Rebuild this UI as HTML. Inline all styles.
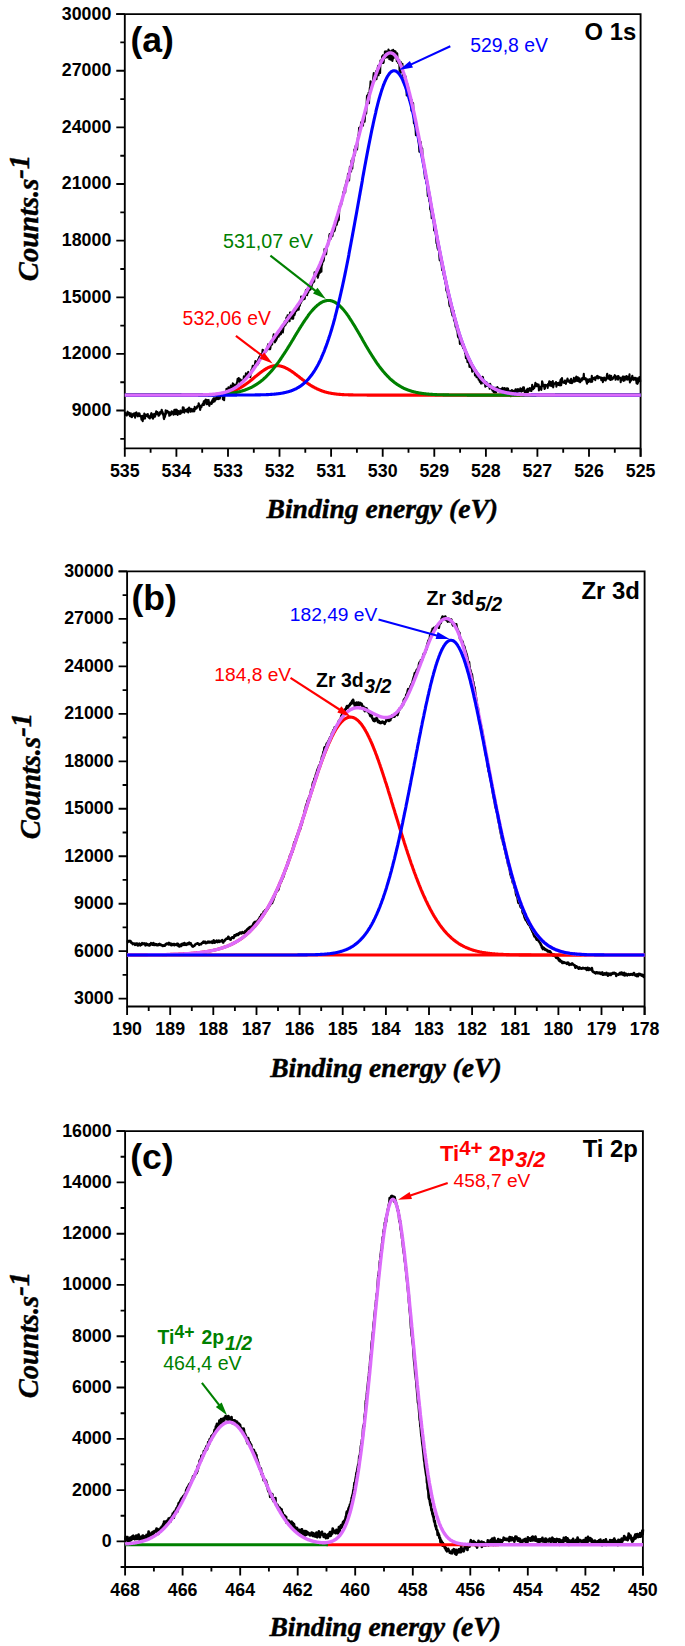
<!DOCTYPE html>
<html lang="en">
<head>
<meta charset="utf-8">
<title>XPS spectra: O 1s, Zr 3d, Ti 2p</title>
<style>
html,body{margin:0;padding:0;background:#fff}
body{width:685px;height:1646px;overflow:hidden}
svg{display:block}
text{white-space:pre}
</style>
</head>
<body>
<svg width="685" height="1646" viewBox="0 0 685 1646">
<rect width="685" height="1646" fill="#fff"/>
<path d="M116.3 14.1 H640.6 V456.8 H640.6" fill="none" stroke="#000" stroke-width="1.85"/>
<path d="M124.8 14.1 V448.3 H640.6" fill="none" stroke="#000" stroke-width="1.85"/>
<path d="M124.8 448.3v8.5 M176.4 448.3v8.5 M228 448.3v8.5 M279.5 448.3v8.5 M331.1 448.3v8.5 M382.7 448.3v8.5 M434.3 448.3v8.5 M485.9 448.3v8.5 M537.4 448.3v8.5 M589 448.3v8.5 M640.6 448.3v8.5 M614.8 448.3v4.5 M563.2 448.3v4.5 M511.7 448.3v4.5 M460.1 448.3v4.5 M408.5 448.3v4.5 M356.9 448.3v4.5 M305.3 448.3v4.5 M253.8 448.3v4.5 M202.2 448.3v4.5 M150.6 448.3v4.5 M124.8 410.5h-8.5 M124.8 353.9h-8.5 M124.8 297.3h-8.5 M124.8 240.6h-8.5 M124.8 184h-8.5 M124.8 127.4h-8.5 M124.8 70.7h-8.5 M124.8 14.1h-8.5 M124.8 438.9h-4.5 M124.8 382.2h-4.5 M124.8 325.6h-4.5 M124.8 269h-4.5 M124.8 212.3h-4.5 M124.8 155.7h-4.5 M124.8 99.1h-4.5 M124.8 42.4h-4.5" fill="none" stroke="#000" stroke-width="1.85"/>
<g font-family='"Liberation Sans", Arial, Helvetica, sans-serif' font-weight="bold" font-size="17.8" fill="#000">
<text x="124.8" y="477.2" text-anchor="middle">535</text>
<text x="176.4" y="477.2" text-anchor="middle">534</text>
<text x="228" y="477.2" text-anchor="middle">533</text>
<text x="279.5" y="477.2" text-anchor="middle">532</text>
<text x="331.1" y="477.2" text-anchor="middle">531</text>
<text x="382.7" y="477.2" text-anchor="middle">530</text>
<text x="434.3" y="477.2" text-anchor="middle">529</text>
<text x="485.9" y="477.2" text-anchor="middle">528</text>
<text x="537.4" y="477.2" text-anchor="middle">527</text>
<text x="589" y="477.2" text-anchor="middle">526</text>
<text x="640.6" y="477.2" text-anchor="middle">525</text>
<text x="111.3" y="415.9" text-anchor="end">9000</text>
<text x="111.3" y="359.3" text-anchor="end">12000</text>
<text x="111.3" y="302.7" text-anchor="end">15000</text>
<text x="111.3" y="246" text-anchor="end">18000</text>
<text x="111.3" y="189.4" text-anchor="end">21000</text>
<text x="111.3" y="132.8" text-anchor="end">24000</text>
<text x="111.3" y="76.1" text-anchor="end">27000</text>
<text x="111.3" y="19.5" text-anchor="end">30000</text>
</g>
<polyline points="124.8,413.4 125.2,412.9 125.6,414.3 126,415 126.4,414 126.8,415.6 127.2,413 127.6,411.7 128,413.9 128.4,414.5 128.8,412.8 129.2,413 129.6,414.9 130,416.2 130.4,415.2 130.8,413.2 131.2,416.7 131.6,415.3 131.9,417.2 132.3,415.3 132.7,415.6 133.1,413.7 133.5,415.6 133.9,414 134.3,413.3 134.7,413.3 135.1,417.6 135.5,413.9 135.9,412.9 136.3,412.4 136.7,414.9 137.1,414.9 137.5,416.2 137.9,416.4 138.3,413.3 138.7,415.8 139.1,415 139.5,413.4 139.9,416.2 140.3,415.6 140.7,416 141.1,416.9 141.5,419.7 141.9,417.5 142.3,415.8 142.7,421.1 143.1,417.7 143.5,418.3 143.9,418.8 144.3,413.6 144.7,415.5 145.1,418.4 145.4,415.3 145.8,414.6 146.2,416.1 146.6,414.8 147,415.5 147.4,414.5 147.8,414.1 148.2,417.2 148.6,415.5 149,417.8 149.4,417.1 149.8,418.4 150.2,416.6 150.6,416.4 151,414.4 151.4,413.2 151.8,417.4 152.2,416.9 152.6,414.6 153,418.7 153.4,417.4 153.8,417.1 154.2,413.8 154.6,413.9 155,416.6 155.4,415.3 155.8,414.6 156.2,411.2 156.6,414 157,414.1 157.4,412 157.8,414.3 158.2,413.6 158.6,415.7 158.9,415.5 159.3,415.4 159.7,412.5 160.1,412 160.5,413.7 160.9,411.6 161.3,411.4 161.7,409.7 162.1,411.6 162.5,411.9 162.9,414.5 163.3,413.4 163.7,418 164.1,419.1 164.5,416.7 164.9,417.1 165.3,415.3 165.7,410.2 166.1,413.8 166.5,413.4 166.9,411.1 167.3,410.8 167.7,411.9 168.1,412.4 168.5,411.9 168.9,412.2 169.3,415.8 169.7,413.8 170.1,412.7 170.5,415.1 170.9,412.3 171.3,414.3 171.7,411.2 172.1,413 172.4,413.2 172.8,412.9 173.2,411.9 173.6,414.8 174,412.6 174.4,409.7 174.8,413.9 175.2,410 175.6,414.2 176,409.5 176.4,412.6 176.8,409.9 177.2,412 177.6,414.9 178,411.1 178.4,411.1 178.8,413.6 179.2,413.6 179.6,412.5 180,414.1 180.4,410.5 180.8,413.4 181.2,411.8 181.6,412.3 182,411.8 182.4,412.3 182.8,407.2 183.2,409.7 183.6,407.5 184,410 184.4,412.6 184.8,410.7 185.2,410.9 185.6,409.8 185.9,410.9 186.3,410.5 186.7,411 187.1,411.7 187.5,408.7 187.9,411.7 188.3,412.3 188.7,409.4 189.1,407.6 189.5,410.5 189.9,408.5 190.3,409.2 190.7,411.8 191.1,408.8 191.5,409.4 191.9,410.6 192.3,411.3 192.7,409.3 193.1,410.4 193.5,409.2 193.9,411.4 194.3,411.3 194.7,406.9 195.1,409.5 195.5,407.8 195.9,408.5 196.3,408.6 196.7,408.4 197.1,406.4 197.5,406.9 197.9,405.9 198.3,405.1 198.7,403.3 199.1,404.3 199.5,405.4 199.8,408.3 200.2,410 200.6,406.3 201,405.8 201.4,407.2 201.8,405.7 202.2,405.2 202.6,404.1 203,403.4 203.4,405.1 203.8,401.2 204.2,404.8 204.6,400.9 205,401.7 205.4,400 205.8,399.5 206.2,399.8 206.6,403.8 207,404.3 207.4,400 207.8,403.4 208.2,401.3 208.6,400.1 209,404.9 209.4,405.9 209.8,402.5 210.2,403.2 210.6,403.1 211,402.4 211.4,403.9 211.8,403.6 212.2,400.4 212.6,401.1 213,402.2 213.3,398.7 213.7,398.5 214.1,398.2 214.5,401.5 214.9,400.7 215.3,399.6 215.7,399.9 216.1,397.8 216.5,399.1 216.9,396.3 217.3,395.8 217.7,394.7 218.1,399.1 218.5,394.9 218.9,396.5 219.3,396.2 219.7,398.8 220.1,396.7 220.5,393.8 220.9,395.9 221.3,394.9 221.7,395.6 222.1,392.8 222.5,394.2 222.9,399.3 223.3,396.2 223.7,398.8 224.1,400.3 224.5,395.2 224.9,392.3 225.3,393.4 225.7,394.5 226.1,393.3 226.5,388.7 226.8,390.5 227.2,390.3 227.6,389.7 228,389.3 228.4,387.4 228.8,388.1 229.2,388.5 229.6,389.8 230,387.2 230.4,388.5 230.8,385.6 231.2,389.6 231.6,387.6 232,386.7 232.4,387.9 232.8,383.4 233.2,383.8 233.6,386.2 234,384.5 234.4,385.9 234.8,390.5 235.2,385.7 235.6,385.5 236,384.5 236.4,385.1 236.8,382.9 237.2,381.9 237.6,378.8 238,380.3 238.4,380.8 238.8,378.1 239.2,381.7 239.6,382 240,384.5 240.3,379.2 240.7,380.3 241.1,380.4 241.5,380.3 241.9,381.7 242.3,381.2 242.7,380.8 243.1,380.2 243.5,379.8 243.9,376.4 244.3,377.4 244.7,378 245.1,377.9 245.5,378 245.9,373.4 246.3,374.7 246.7,374.6 247.1,374.9 247.5,376.3 247.9,373.2 248.3,371.9 248.7,374.6 249.1,374.2 249.5,374.1 249.9,373.6 250.3,377.1 250.7,373 251.1,373.7 251.5,369.6 251.9,371.4 252.3,368.4 252.7,365.8 253.1,367.9 253.5,367.4 253.8,365.8 254.2,365.9 254.6,367.3 255,364 255.4,361.1 255.8,365.3 256.2,364.4 256.6,364.9 257,361.6 257.4,364 257.8,364.2 258.2,359.2 258.6,362.9 259,358.1 259.4,356.7 259.8,358.8 260.2,357.5 260.6,354 261,356.8 261.4,358 261.8,357.7 262.2,354.1 262.6,349.8 263,349.9 263.4,353 263.8,353.1 264.2,353 264.6,351 265,352.3 265.4,352.1 265.8,351.3 266.2,351.3 266.6,350.4 267,349.4 267.3,349.4 267.7,346.4 268.1,344.2 268.5,346.5 268.9,346.6 269.3,349.3 269.7,344.7 270.1,349.3 270.5,347.5 270.9,341.9 271.3,341.2 271.7,343 272.1,344.6 272.5,340.6 272.9,340.5 273.3,336.8 273.7,334.4 274.1,338.4 274.5,341.4 274.9,342.4 275.3,339.5 275.7,339.9 276.1,340.6 276.5,337.7 276.9,338.8 277.3,334.2 277.7,334 278.1,333.4 278.5,336.8 278.9,333.8 279.3,335.5 279.7,334.8 280.1,333.4 280.5,334.4 280.9,334.1 281.2,328.5 281.6,330 282,328.3 282.4,327.6 282.8,332.5 283.2,329.6 283.6,327 284,325.3 284.4,326.1 284.8,321.2 285.2,322.5 285.6,324.7 286,322.4 286.4,317.6 286.8,318.5 287.2,322.4 287.6,315.3 288,316.5 288.4,315.5 288.8,319.7 289.2,318.5 289.6,321.3 290,312.5 290.4,317.8 290.8,312.6 291.2,318.2 291.6,316.3 292,318.7 292.4,316.2 292.8,312.7 293.2,318.8 293.6,311.3 294,312.8 294.4,315.2 294.7,314.1 295.1,313.1 295.5,310.3 295.9,310.8 296.3,311 296.7,310.2 297.1,308.8 297.5,309.7 297.9,306.6 298.3,304.6 298.7,309.6 299.1,304.4 299.5,305.6 299.9,305.7 300.3,301.5 300.7,303.2 301.1,296.6 301.5,301.5 301.9,298.5 302.3,299.4 302.7,299 303.1,296.8 303.5,299.5 303.9,297 304.3,299 304.7,298.8 305.1,295.7 305.5,294.2 305.9,290 306.3,293.2 306.7,289.7 307.1,295.3 307.5,288.7 307.9,290.9 308.2,292.7 308.6,289.5 309,285.6 309.4,290.3 309.8,289.5 310.2,289.1 310.6,289.4 311,284.3 311.4,287 311.8,285.4 312.2,280.2 312.6,283.5 313,279 313.4,281.3 313.8,280.9 314.2,281.7 314.6,272.4 315,276.7 315.4,274.1 315.8,275.2 316.2,275.6 316.6,275.1 317,269.6 317.4,275.8 317.8,277.8 318.2,275.7 318.6,275 319,269.7 319.4,267.8 319.8,272.9 320.2,271.6 320.6,267.9 321,262.3 321.4,271.7 321.7,262.2 322.1,265 322.5,257.7 322.9,262 323.3,258 323.7,260.6 324.1,257.2 324.5,249 324.9,250.1 325.3,252.3 325.7,251.9 326.1,254.3 326.5,250.4 326.9,246.7 327.3,246.2 327.7,244.5 328.1,245.4 328.5,240.6 328.9,239.7 329.3,235.8 329.7,234.1 330.1,237.8 330.5,239.2 330.9,236.8 331.3,237 331.7,236.6 332.1,232.6 332.5,235.8 332.9,230.4 333.3,232.3 333.7,229.9 334.1,230.4 334.5,231 334.9,229.4 335.2,227.5 335.6,225.1 336,221.4 336.4,221 336.8,224.6 337.2,220.2 337.6,221.9 338,219.6 338.4,217.2 338.8,219.9 339.2,210.1 339.6,206.4 340,206.5 340.4,206.1 340.8,203.8 341.2,204.9 341.6,201.3 342,202 342.4,197.4 342.8,198.4 343.2,192.8 343.6,191.5 344,191.6 344.4,190.9 344.8,187.1 345.2,192.5 345.6,185.4 346,183.6 346.4,182.4 346.8,179.9 347.2,182 347.6,180.3 348,173.7 348.4,174.6 348.8,174.9 349.1,180.5 349.5,172.4 349.9,166.7 350.3,167.3 350.7,167.2 351.1,171.4 351.5,160.5 351.9,161.8 352.3,168.5 352.7,158 353.1,163 353.5,159.6 353.9,157 354.3,149.5 354.7,155.5 355.1,153.2 355.5,146.5 355.9,145.2 356.3,149 356.7,149.1 357.1,149.5 357.5,143.5 357.9,137.5 358.3,135.2 358.7,134.7 359.1,127.9 359.5,134.2 359.9,130.4 360.3,127 360.7,127.3 361.1,122.4 361.5,123.9 361.9,124.8 362.3,120.9 362.6,124 363,125.6 363.4,117.4 363.8,118.4 364.2,115.9 364.6,121.7 365,116.2 365.4,112.6 365.8,110.3 366.2,113.5 366.6,104.3 367,95.8 367.4,95.3 367.8,99.7 368.2,97 368.6,92.7 369,103.3 369.4,94 369.8,88.2 370.2,87 370.6,81.2 371,83.4 371.4,84.8 371.8,83.9 372.2,82.9 372.6,84.9 373,81.1 373.4,76.2 373.8,73 374.2,81.3 374.6,79.5 375,78.4 375.4,74.3 375.8,78.2 376.1,71.1 376.5,79.2 376.9,74.5 377.3,71.8 377.7,68.5 378.1,65.8 378.5,75.3 378.9,70.6 379.3,66.2 379.7,71.1 380.1,72.9 380.5,60.6 380.9,61.5 381.3,61.4 381.7,63.2 382.1,56.4 382.5,61.5 382.9,55.4 383.3,63 383.7,62.2 384.1,56.6 384.5,58.3 384.9,51.6 385.3,54.4 385.7,57.5 386.1,51.3 386.5,54.6 386.9,51.7 387.3,57.4 387.7,56.1 388.1,52.4 388.5,49.5 388.9,51 389.3,59.1 389.6,56.7 390,51.3 390.4,56.6 390.8,59.6 391.2,52.8 391.6,50.6 392,57.1 392.4,60.9 392.8,58.2 393.2,49.7 393.6,58.1 394,55.5 394.4,53.7 394.8,51 395.2,55.3 395.6,51.6 396,57.3 396.4,55.7 396.8,61.3 397.2,53.2 397.6,60.6 398,62.8 398.4,61.2 398.8,63.6 399.2,60 399.6,70.4 400,70.5 400.4,72.6 400.8,62.1 401.2,66.9 401.6,71.8 402,70.5 402.4,63.9 402.8,74 403.1,75.8 403.5,72.5 403.9,77.2 404.3,76.1 404.7,84.7 405.1,75.7 405.5,76.7 405.9,81.5 406.3,81.4 406.7,95.4 407.1,83.2 407.5,86.8 407.9,86.3 408.3,88.3 408.7,95.2 409.1,99.9 409.5,93.1 409.9,99.9 410.3,98.9 410.7,100.5 411.1,100.3 411.5,110.6 411.9,100.2 412.3,107.5 412.7,106.4 413.1,103 413.5,113.2 413.9,123.3 414.3,121.8 414.7,124 415.1,126.6 415.5,126.9 415.9,135.2 416.3,127.7 416.6,134.8 417,129.5 417.4,131.4 417.8,134.9 418.2,137.3 418.6,141.3 419,145.2 419.4,151.8 419.8,147.8 420.2,141.9 420.6,141.8 421,144.9 421.4,149.1 421.8,155.1 422.2,148.3 422.6,157.2 423,158.6 423.4,163.1 423.8,164.8 424.2,170.4 424.6,173.1 425,178.1 425.4,178.4 425.8,171.7 426.2,181.4 426.6,183.3 427,183.5 427.4,186.6 427.8,195.9 428.2,196.1 428.6,194.7 429,198.7 429.4,201.4 429.8,199 430.2,209.4 430.5,206.4 430.9,211.6 431.3,206.5 431.7,218.2 432.1,216 432.5,217.7 432.9,217 433.3,217.1 433.7,218.9 434.1,230.5 434.5,224.9 434.9,228.9 435.3,231.4 435.7,231.9 436.1,237 436.5,243.1 436.9,239.7 437.3,245.7 437.7,248.5 438.1,247.4 438.5,250.2 438.9,246.5 439.3,255.1 439.7,260.2 440.1,258.2 440.5,259.4 440.9,262.2 441.3,260.4 441.7,264.6 442.1,270.3 442.5,265.6 442.9,270.7 443.3,272 443.7,274.5 444,276.3 444.4,278.7 444.8,277 445.2,281 445.6,282.8 446,285.5 446.4,290.7 446.8,289.6 447.2,292 447.6,291.9 448,297.3 448.4,291.6 448.8,298.2 449.2,303 449.6,305.9 450,305.1 450.4,305.2 450.8,308 451.2,308.5 451.6,312.2 452,312 452.4,315.5 452.8,314.7 453.2,314.7 453.6,310.9 454,320.5 454.4,319.7 454.8,322.2 455.2,320.8 455.6,326.7 456,325.8 456.4,326.5 456.8,330 457.2,330.9 457.5,331.6 457.9,336.2 458.3,337.4 458.7,336.2 459.1,336.5 459.5,338.4 459.9,343.9 460.3,341.7 460.7,339.6 461.1,340.7 461.5,342.8 461.9,345.4 462.3,342.5 462.7,345.8 463.1,348.1 463.5,347.7 463.9,345.6 464.3,349.1 464.7,348.7 465.1,353.5 465.5,352.5 465.9,358.3 466.3,357.6 466.7,354.4 467.1,358.2 467.5,362.1 467.9,361 468.3,360 468.7,359.1 469.1,363.1 469.5,366.9 469.9,364.8 470.3,366 470.7,366.7 471,365.1 471.4,368 471.8,367.6 472.2,371.7 472.6,368.4 473,365.9 473.4,368.6 473.8,369.6 474.2,371.1 474.6,369 475,375.4 475.4,375 475.8,375.2 476.2,375.1 476.6,377.2 477,375.8 477.4,375.9 477.8,376.3 478.2,377.1 478.6,379.7 479,377.5 479.4,377 479.8,381.8 480.2,381.3 480.6,380.6 481,383.5 481.4,380.9 481.8,383.5 482.2,379.1 482.6,376.7 483,377.5 483.4,382 483.8,382 484.2,383.3 484.5,383.2 484.9,382 485.3,386.6 485.7,382.6 486.1,384.9 486.5,382.3 486.9,385.2 487.3,386 487.7,384.6 488.1,383.9 488.5,386 488.9,384.9 489.3,386.2 489.7,388.8 490.1,383.7 490.5,385.2 490.9,385.5 491.3,386.8 491.7,386.6 492.1,389.3 492.5,390.7 492.9,389.4 493.3,388.1 493.7,392.2 494.1,387.8 494.5,391.7 494.9,392.6 495.3,387.9 495.7,390 496.1,392.5 496.5,391.4 496.9,388.6 497.3,387.1 497.7,390.5 498.1,389 498.4,388.3 498.8,389.8 499.2,389.2 499.6,390.2 500,390.6 500.4,390.3 500.8,389 501.2,389.3 501.6,389.2 502,390.2 502.4,387.8 502.8,389.5 503.2,389.1 503.6,388.9 504,390.7 504.4,388 504.8,394.2 505.2,391.9 505.6,392.8 506,388.5 506.4,388.4 506.8,393.4 507.2,391.4 507.6,388.4 508,388.7 508.4,390.1 508.8,392.1 509.2,391.8 509.6,391.4 510,393 510.4,391.1 510.8,396.1 511.2,390.6 511.6,393.3 511.9,390.1 512.3,391.4 512.7,392.7 513.1,390.8 513.5,393.4 513.9,393 514.3,393.6 514.7,390.6 515.1,390.4 515.5,389.3 515.9,391.2 516.3,389.4 516.7,391.5 517.1,392.4 517.5,390.2 517.9,389.1 518.3,391.6 518.7,390.9 519.1,390.1 519.5,389.7 519.9,391.2 520.3,388.4 520.7,389.6 521.1,388.8 521.5,391.6 521.9,389.5 522.3,390.1 522.7,390.9 523.1,387.3 523.5,389.8 523.9,387.4 524.3,390 524.7,392.2 525.1,392.5 525.4,391.1 525.8,391.2 526.2,390.8 526.6,389.8 527,392.3 527.4,388.9 527.8,392.4 528.2,388.9 528.6,391.1 529,390.3 529.4,389.4 529.8,388 530.2,390.6 530.6,390.7 531,389.2 531.4,391 531.8,388.8 532.2,384.9 532.6,389.3 533,386.8 533.4,389.2 533.8,386.7 534.2,388.1 534.6,387.1 535,385.3 535.4,382.7 535.8,386 536.2,384.9 536.6,386.3 537,384.1 537.4,385.9 537.8,384.9 538.2,386.6 538.6,384.5 538.9,390.4 539.3,388 539.7,386.4 540.1,388.3 540.5,388.5 540.9,388.4 541.3,389.9 541.7,386.8 542.1,381.3 542.5,382.4 542.9,386 543.3,385.3 543.7,386.3 544.1,384.7 544.5,388.9 544.9,388.5 545.3,385.4 545.7,384.8 546.1,385.1 546.5,385.7 546.9,385.6 547.3,385 547.7,387.9 548.1,383.9 548.5,385.4 548.9,383.3 549.3,381.3 549.7,382.4 550.1,385.7 550.5,381.9 550.9,382 551.3,385.7 551.7,386 552.1,384.2 552.4,386.3 552.8,381.1 553.2,387.4 553.6,385.2 554,384.1 554.4,383.5 554.8,383.3 555.2,383 555.6,383.7 556,382.1 556.4,386.7 556.8,384 557.2,384.6 557.6,383.1 558,383.4 558.4,385 558.8,385 559.2,382.6 559.6,384 560,385.4 560.4,380.4 560.8,379.3 561.2,385.2 561.6,381.9 562,378.1 562.4,381.1 562.8,381.6 563.2,382.3 563.6,382.8 564,382.8 564.4,382.9 564.8,380.6 565.2,382.8 565.6,383.2 565.9,383.9 566.3,380.5 566.7,382 567.1,380.8 567.5,378.5 567.9,380.3 568.3,380.2 568.7,381.8 569.1,381.5 569.5,382 569.9,382.7 570.3,380 570.7,382.9 571.1,378.9 571.5,381.5 571.9,383.2 572.3,382.5 572.7,382.4 573.1,380.2 573.5,381 573.9,377.9 574.3,379.8 574.7,381.6 575.1,378.7 575.5,381.1 575.9,378.3 576.3,376.5 576.7,377.5 577.1,380.9 577.5,380.6 577.9,377.3 578.3,380.4 578.7,381.3 579.1,380.5 579.5,378.3 579.8,380.2 580.2,382.3 580.6,380.8 581,379.7 581.4,380.7 581.8,380.7 582.2,378 582.6,379.4 583,377.8 583.4,377.7 583.8,373.9 584.2,379.3 584.6,379.2 585,378.9 585.4,378.7 585.8,378.2 586.2,380.8 586.6,382.3 587,383.7 587.4,382 587.8,379.3 588.2,379.6 588.6,382 589,380.6 589.4,379.8 589.8,379.2 590.2,381.2 590.6,380.4 591,382.1 591.4,380.6 591.8,375.9 592.2,381.7 592.6,378.7 593,377.7 593.3,378.4 593.7,379 594.1,377.8 594.5,377.8 594.9,377.3 595.3,380.2 595.7,377.4 596.1,378.2 596.5,377.7 596.9,376.1 597.3,375.9 597.7,376.7 598.1,378.5 598.5,376.6 598.9,376.7 599.3,377.3 599.7,377.3 600.1,377.9 600.5,378.3 600.9,377.4 601.3,380.2 601.7,377.7 602.1,377.7 602.5,378.8 602.9,382.1 603.3,380 603.7,379 604.1,377.5 604.5,379.1 604.9,380.1 605.3,378.6 605.7,380.5 606.1,377.8 606.5,378.9 606.8,375.6 607.2,373.7 607.6,377.4 608,378.4 608.4,377.7 608.8,378.6 609.2,378.9 609.6,375.2 610,377.6 610.4,380 610.8,376.9 611.2,375.9 611.6,378.6 612,379.6 612.4,378.8 612.8,378.9 613.2,378.3 613.6,377.2 614,376.8 614.4,376.3 614.8,375.2 615.2,376 615.6,379.8 616,377.5 616.4,377.8 616.8,378.3 617.2,376.3 617.6,378.6 618,379.7 618.4,376 618.8,377.3 619.2,378.2 619.6,377.4 620,377.6 620.3,377.8 620.7,382.1 621.1,379.2 621.5,378.8 621.9,379.7 622.3,377.7 622.7,376.5 623.1,379.9 623.5,380.9 623.9,376.5 624.3,379.7 624.7,380.3 625.1,378.2 625.5,376.9 625.9,378.6 626.3,376.1 626.7,378.4 627.1,379.7 627.5,376.9 627.9,376.6 628.3,379.4 628.7,377.5 629.1,378.8 629.5,374.4 629.9,382.5 630.3,378.8 630.7,380.3 631.1,380.6 631.5,378.7 631.9,377.6 632.3,375.7 632.7,377.3 633.1,379.4 633.5,379.8 633.8,378.1 634.2,378.6 634.6,377.8 635,379.6 635.4,378.4 635.8,377.9 636.2,380.3 636.6,383.3 637,382.9 637.4,383.9 637.8,378.3 638.2,382.5 638.6,379.2 639,379.9 639.4,377.1 639.8,378.3 640.2,381 640.6,380.4" fill="none" stroke="#000" stroke-width="2.1" stroke-linejoin="round" stroke-linecap="butt"/>
<polyline points="124.8,395.1 125.2,395.1 125.6,395.1 126,395.1 126.4,395.1 126.8,395.1 127.2,395.1 127.6,395.1 128,395.1 128.4,395.1 128.8,395.1 129.2,395.1 129.6,395.1 130,395.1 130.4,395.1 130.8,395.1 131.2,395.1 131.6,395.1 131.9,395.1 132.3,395.1 132.7,395.1 133.1,395.1 133.5,395.1 133.9,395.1 134.3,395.1 134.7,395.1 135.1,395.1 135.5,395.1 135.9,395.1 136.3,395.1 136.7,395.1 137.1,395.1 137.5,395.1 137.9,395.1 138.3,395.1 138.7,395.1 139.1,395.1 139.5,395.1 139.9,395.1 140.3,395.1 140.7,395.1 141.1,395.1 141.5,395.1 141.9,395.1 142.3,395.1 142.7,395.1 143.1,395.1 143.5,395.1 143.9,395.1 144.3,395.1 144.7,395.1 145.1,395.1 145.4,395.1 145.8,395.1 146.2,395.1 146.6,395.1 147,395.1 147.4,395.1 147.8,395.1 148.2,395.1 148.6,395.1 149,395.1 149.4,395.1 149.8,395.1 150.2,395.1 150.6,395.1 151,395.1 151.4,395.1 151.8,395.1 152.2,395.1 152.6,395.1 153,395.1 153.4,395.1 153.8,395.1 154.2,395.1 154.6,395.1 155,395.1 155.4,395.1 155.8,395.1 156.2,395.1 156.6,395.1 157,395.1 157.4,395.1 157.8,395.1 158.2,395.1 158.6,395.1 158.9,395.1 159.3,395.1 159.7,395.1 160.1,395.1 160.5,395.1 160.9,395.1 161.3,395.1 161.7,395.1 162.1,395.1 162.5,395.1 162.9,395.1 163.3,395.1 163.7,395.1 164.1,395.1 164.5,395.1 164.9,395.1 165.3,395.1 165.7,395.1 166.1,395.1 166.5,395.1 166.9,395.1 167.3,395.1 167.7,395.1 168.1,395.1 168.5,395.1 168.9,395.1 169.3,395.1 169.7,395.1 170.1,395.1 170.5,395.1 170.9,395.1 171.3,395.1 171.7,395.1 172.1,395.1 172.4,395.1 172.8,395.1 173.2,395.1 173.6,395.1 174,395.1 174.4,395.1 174.8,395.1 175.2,395.1 175.6,395.1 176,395.1 176.4,395.1 176.8,395.1 177.2,395.1 177.6,395.1 178,395.1 178.4,395.1 178.8,395.1 179.2,395.1 179.6,395.1 180,395.1 180.4,395.1 180.8,395.1 181.2,395.1 181.6,395.1 182,395.1 182.4,395.1 182.8,395.1 183.2,395.1 183.6,395.1 184,395.1 184.4,395.1 184.8,395.1 185.2,395.1 185.6,395.1 185.9,395.1 186.3,395.1 186.7,395.1 187.1,395.1 187.5,395.1 187.9,395.1 188.3,395.1 188.7,395.1 189.1,395.1 189.5,395.1 189.9,395.1 190.3,395.1 190.7,395.1 191.1,395.1 191.5,395 191.9,395 192.3,395 192.7,395 193.1,395 193.5,395 193.9,395 194.3,395 194.7,395 195.1,395 195.5,395 195.9,395 196.3,395 196.7,395 197.1,395 197.5,395 197.9,395 198.3,395 198.7,395 199.1,395 199.5,395 199.8,395 200.2,395 200.6,395 201,395 201.4,395 201.8,395 202.2,395 202.6,395 203,395 203.4,395 203.8,395 204.2,394.9 204.6,394.9 205,394.9 205.4,394.9 205.8,394.9 206.2,394.9 206.6,394.9 207,394.9 207.4,394.9 207.8,394.9 208.2,394.9 208.6,394.8 209,394.8 209.4,394.8 209.8,394.8 210.2,394.8 210.6,394.8 211,394.8 211.4,394.7 211.8,394.7 212.2,394.7 212.6,394.7 213,394.7 213.3,394.6 213.7,394.6 214.1,394.6 214.5,394.6 214.9,394.5 215.3,394.5 215.7,394.5 216.1,394.4 216.5,394.4 216.9,394.4 217.3,394.3 217.7,394.3 218.1,394.3 218.5,394.2 218.9,394.2 219.3,394.1 219.7,394.1 220.1,394.1 220.5,394 220.9,394 221.3,393.9 221.7,393.8 222.1,393.8 222.5,393.7 222.9,393.7 223.3,393.6 223.7,393.5 224.1,393.5 224.5,393.4 224.9,393.3 225.3,393.2 225.7,393.2 226.1,393.1 226.5,393 226.8,392.9 227.2,392.8 227.6,392.7 228,392.6 228.4,392.5 228.8,392.4 229.2,392.3 229.6,392.2 230,392.1 230.4,392 230.8,391.8 231.2,391.7 231.6,391.6 232,391.5 232.4,391.3 232.8,391.2 233.2,391 233.6,390.9 234,390.7 234.4,390.6 234.8,390.4 235.2,390.2 235.6,390.1 236,389.9 236.4,389.7 236.8,389.5 237.2,389.4 237.6,389.2 238,389 238.4,388.8 238.8,388.6 239.2,388.3 239.6,388.1 240,387.9 240.3,387.7 240.7,387.5 241.1,387.2 241.5,387 241.9,386.8 242.3,386.5 242.7,386.3 243.1,386 243.5,385.8 243.9,385.5 244.3,385.2 244.7,385 245.1,384.7 245.5,384.4 245.9,384.1 246.3,383.9 246.7,383.6 247.1,383.3 247.5,383 247.9,382.7 248.3,382.4 248.7,382.1 249.1,381.8 249.5,381.5 249.9,381.2 250.3,380.8 250.7,380.5 251.1,380.2 251.5,379.9 251.9,379.6 252.3,379.3 252.7,378.9 253.1,378.6 253.5,378.3 253.8,378 254.2,377.6 254.6,377.3 255,377 255.4,376.6 255.8,376.3 256.2,376 256.6,375.7 257,375.3 257.4,375 257.8,374.7 258.2,374.4 258.6,374.1 259,373.7 259.4,373.4 259.8,373.1 260.2,372.8 260.6,372.5 261,372.2 261.4,371.9 261.8,371.6 262.2,371.3 262.6,371.1 263,370.8 263.4,370.5 263.8,370.2 264.2,370 264.6,369.7 265,369.5 265.4,369.2 265.8,369 266.2,368.7 266.6,368.5 267,368.3 267.3,368.1 267.7,367.9 268.1,367.7 268.5,367.5 268.9,367.3 269.3,367.2 269.7,367 270.1,366.8 270.5,366.7 270.9,366.6 271.3,366.4 271.7,366.3 272.1,366.2 272.5,366.1 272.9,366 273.3,365.9 273.7,365.8 274.1,365.8 274.5,365.7 274.9,365.7 275.3,365.7 275.7,365.6 276.1,365.6 276.5,365.6 276.9,365.6 277.3,365.6 277.7,365.7 278.1,365.7 278.5,365.7 278.9,365.8 279.3,365.8 279.7,365.9 280.1,366 280.5,366.1 280.9,366.1 281.2,366.2 281.6,366.4 282,366.5 282.4,366.6 282.8,366.7 283.2,366.9 283.6,367 284,367.2 284.4,367.3 284.8,367.5 285.2,367.7 285.6,367.9 286,368.1 286.4,368.3 286.8,368.5 287.2,368.7 287.6,368.9 288,369.1 288.4,369.3 288.8,369.6 289.2,369.8 289.6,370 290,370.3 290.4,370.6 290.8,370.8 291.2,371.1 291.6,371.3 292,371.6 292.4,371.9 292.8,372.2 293.2,372.4 293.6,372.7 294,373 294.4,373.3 294.7,373.6 295.1,373.9 295.5,374.2 295.9,374.5 296.3,374.8 296.7,375.1 297.1,375.4 297.5,375.7 297.9,376 298.3,376.3 298.7,376.6 299.1,376.9 299.5,377.3 299.9,377.6 300.3,377.9 300.7,378.2 301.1,378.5 301.5,378.8 301.9,379.1 302.3,379.4 302.7,379.7 303.1,380 303.5,380.3 303.9,380.6 304.3,380.9 304.7,381.2 305.1,381.5 305.5,381.8 305.9,382.1 306.3,382.4 306.7,382.6 307.1,382.9 307.5,383.2 307.9,383.5 308.2,383.7 308.6,384 309,384.3 309.4,384.5 309.8,384.8 310.2,385.1 310.6,385.3 311,385.6 311.4,385.8 311.8,386 312.2,386.3 312.6,386.5 313,386.7 313.4,387 313.8,387.2 314.2,387.4 314.6,387.6 315,387.8 315.4,388 315.8,388.2 316.2,388.4 316.6,388.6 317,388.8 317.4,389 317.8,389.2 318.2,389.4 318.6,389.6 319,389.7 319.4,389.9 319.8,390.1 320.2,390.2 320.6,390.4 321,390.5 321.4,390.7 321.7,390.8 322.1,391 322.5,391.1 322.9,391.2 323.3,391.4 323.7,391.5 324.1,391.6 324.5,391.8 324.9,391.9 325.3,392 325.7,392.1 326.1,392.2 326.5,392.3 326.9,392.4 327.3,392.5 327.7,392.6 328.1,392.7 328.5,392.8 328.9,392.9 329.3,393 329.7,393 330.1,393.1 330.5,393.2 330.9,393.3 331.3,393.3 331.7,393.4 332.1,393.5 332.5,393.5 332.9,393.6 333.3,393.7 333.7,393.7 334.1,393.8 334.5,393.8 334.9,393.9 335.2,393.9 335.6,394 336,394 336.4,394.1 336.8,394.1 337.2,394.2 337.6,394.2 338,394.2 338.4,394.3 338.8,394.3 339.2,394.4 339.6,394.4 340,394.4 340.4,394.4 340.8,394.5 341.2,394.5 341.6,394.5 342,394.6 342.4,394.6 342.8,394.6 343.2,394.6 343.6,394.6 344,394.7 344.4,394.7 344.8,394.7 345.2,394.7 345.6,394.7 346,394.8 346.4,394.8 346.8,394.8 347.2,394.8 347.6,394.8 348,394.8 348.4,394.8 348.8,394.9 349.1,394.9 349.5,394.9 349.9,394.9 350.3,394.9 350.7,394.9 351.1,394.9 351.5,394.9 351.9,394.9 352.3,394.9 352.7,394.9 353.1,394.9 353.5,395 353.9,395 354.3,395 354.7,395 355.1,395 355.5,395 355.9,395 356.3,395 356.7,395 357.1,395 357.5,395 357.9,395 358.3,395 358.7,395 359.1,395 359.5,395 359.9,395 360.3,395 360.7,395 361.1,395 361.5,395 361.9,395 362.3,395 362.6,395 363,395 363.4,395 363.8,395 364.2,395 364.6,395 365,395 365.4,395 365.8,395 366.2,395 366.6,395 367,395.1 367.4,395.1 367.8,395.1 368.2,395.1 368.6,395.1 369,395.1 369.4,395.1 369.8,395.1 370.2,395.1 370.6,395.1 371,395.1 371.4,395.1 371.8,395.1 372.2,395.1 372.6,395.1 373,395.1 373.4,395.1 373.8,395.1 374.2,395.1 374.6,395.1 375,395.1 375.4,395.1 375.8,395.1 376.1,395.1 376.5,395.1 376.9,395.1 377.3,395.1 377.7,395.1 378.1,395.1 378.5,395.1 378.9,395.1 379.3,395.1 379.7,395.1 380.1,395.1 380.5,395.1 380.9,395.1 381.3,395.1 381.7,395.1 382.1,395.1 382.5,395.1 382.9,395.1 383.3,395.1 383.7,395.1 384.1,395.1 384.5,395.1 384.9,395.1 385.3,395.1 385.7,395.1 386.1,395.1 386.5,395.1 386.9,395.1 387.3,395.1 387.7,395.1 388.1,395.1 388.5,395.1 388.9,395.1 389.3,395.1 389.6,395.1 390,395.1 390.4,395.1 390.8,395.1 391.2,395.1 391.6,395.1 392,395.1 392.4,395.1 392.8,395.1 393.2,395.1 393.6,395.1 394,395.1 394.4,395.1 394.8,395.1 395.2,395.1 395.6,395.1 396,395.1 396.4,395.1 396.8,395.1 397.2,395.1 397.6,395.1 398,395.1 398.4,395.1 398.8,395.1 399.2,395.1 399.6,395.1 400,395.1 400.4,395.1 400.8,395.1 401.2,395.1 401.6,395.1 402,395.1 402.4,395.1 402.8,395.1 403.1,395.1 403.5,395.1 403.9,395.1 404.3,395.1 404.7,395.1 405.1,395.1 405.5,395.1 405.9,395.1 406.3,395.1 406.7,395.1 407.1,395.1 407.5,395.1 407.9,395.1 408.3,395.1 408.7,395.1 409.1,395.1 409.5,395.1 409.9,395.1 410.3,395.1 410.7,395.1 411.1,395.1 411.5,395.1 411.9,395.1 412.3,395.1 412.7,395.1 413.1,395.1 413.5,395.1 413.9,395.1 414.3,395.1 414.7,395.1 415.1,395.1 415.5,395.1 415.9,395.1 416.3,395.1 416.6,395.1 417,395.1 417.4,395.1 417.8,395.1 418.2,395.1 418.6,395.1 419,395.1 419.4,395.1 419.8,395.1 420.2,395.1 420.6,395.1 421,395.1 421.4,395.1 421.8,395.1 422.2,395.1 422.6,395.1 423,395.1 423.4,395.1 423.8,395.1 424.2,395.1 424.6,395.1 425,395.1 425.4,395.1 425.8,395.1 426.2,395.1 426.6,395.1 427,395.1 427.4,395.1 427.8,395.1 428.2,395.1 428.6,395.1 429,395.1 429.4,395.1 429.8,395.1 430.2,395.1 430.5,395.1 430.9,395.1 431.3,395.1 431.7,395.1 432.1,395.1 432.5,395.1 432.9,395.1 433.3,395.1 433.7,395.1 434.1,395.1 434.5,395.1 434.9,395.1 435.3,395.1 435.7,395.1 436.1,395.1 436.5,395.1 436.9,395.1 437.3,395.1 437.7,395.1 438.1,395.1 438.5,395.1 438.9,395.1 439.3,395.1 439.7,395.1 440.1,395.1 440.5,395.1 440.9,395.1 441.3,395.1 441.7,395.1 442.1,395.1 442.5,395.1 442.9,395.1 443.3,395.1 443.7,395.1 444,395.1 444.4,395.1 444.8,395.1 445.2,395.1 445.6,395.1 446,395.1 446.4,395.1 446.8,395.1 447.2,395.1 447.6,395.1 448,395.1 448.4,395.1 448.8,395.1 449.2,395.1 449.6,395.1 450,395.1 450.4,395.1 450.8,395.1 451.2,395.1 451.6,395.1 452,395.1 452.4,395.1 452.8,395.1 453.2,395.1 453.6,395.1 454,395.1 454.4,395.1 454.8,395.1 455.2,395.1 455.6,395.1 456,395.1 456.4,395.1 456.8,395.1 457.2,395.1 457.5,395.1 457.9,395.1 458.3,395.1 458.7,395.1 459.1,395.1 459.5,395.1 459.9,395.1 460.3,395.1 460.7,395.1 461.1,395.1 461.5,395.1 461.9,395.1 462.3,395.1 462.7,395.1 463.1,395.1 463.5,395.1 463.9,395.1 464.3,395.1 464.7,395.1 465.1,395.1 465.5,395.1 465.9,395.1 466.3,395.1 466.7,395.1 467.1,395.1 467.5,395.1 467.9,395.1 468.3,395.1 468.7,395.1 469.1,395.1 469.5,395.1 469.9,395.1 470.3,395.1 470.7,395.1 471,395.1 471.4,395.1 471.8,395.1 472.2,395.1 472.6,395.1 473,395.1 473.4,395.1 473.8,395.1 474.2,395.1 474.6,395.1 475,395.1 475.4,395.1 475.8,395.1 476.2,395.1 476.6,395.1 477,395.1 477.4,395.1 477.8,395.1 478.2,395.1 478.6,395.1 479,395.1 479.4,395.1 479.8,395.1 480.2,395.1 480.6,395.1 481,395.1 481.4,395.1 481.8,395.1 482.2,395.1 482.6,395.1 483,395.1 483.4,395.1 483.8,395.1 484.2,395.1 484.5,395.1 484.9,395.1 485.3,395.1 485.7,395.1 486.1,395.1 486.5,395.1 486.9,395.1 487.3,395.1 487.7,395.1 488.1,395.1 488.5,395.1 488.9,395.1 489.3,395.1 489.7,395.1 490.1,395.1 490.5,395.1 490.9,395.1 491.3,395.1 491.7,395.1 492.1,395.1 492.5,395.1 492.9,395.1 493.3,395.1 493.7,395.1 494.1,395.1 494.5,395.1 494.9,395.1 495.3,395.1 495.7,395.1 496.1,395.1 496.5,395.1 496.9,395.1 497.3,395.1 497.7,395.1 498.1,395.1 498.4,395.1 498.8,395.1 499.2,395.1 499.6,395.1 500,395.1 500.4,395.1 500.8,395.1 501.2,395.1 501.6,395.1 502,395.1 502.4,395.1 502.8,395.1 503.2,395.1 503.6,395.1 504,395.1 504.4,395.1 504.8,395.1 505.2,395.1 505.6,395.1 506,395.1 506.4,395.1 506.8,395.1 507.2,395.1 507.6,395.1 508,395.1 508.4,395.1 508.8,395.1 509.2,395.1 509.6,395.1 510,395.1 510.4,395.1 510.8,395.1 511.2,395.1 511.6,395.1 511.9,395.1 512.3,395.1 512.7,395.1 513.1,395.1 513.5,395.1 513.9,395.1 514.3,395.1 514.7,395.1 515.1,395.1 515.5,395.1 515.9,395.1 516.3,395.1 516.7,395.1 517.1,395.1 517.5,395.1 517.9,395.1 518.3,395.1 518.7,395.1 519.1,395.1 519.5,395.1 519.9,395.1 520.3,395.1 520.7,395.1 521.1,395.1 521.5,395.1 521.9,395.1 522.3,395.1 522.7,395.1 523.1,395.1 523.5,395.1 523.9,395.1 524.3,395.1 524.7,395.1 525.1,395.1 525.4,395.1 525.8,395.1 526.2,395.1 526.6,395.1 527,395.1 527.4,395.1 527.8,395.1 528.2,395.1 528.6,395.1 529,395.1 529.4,395.1 529.8,395.1 530.2,395.1 530.6,395.1 531,395.1 531.4,395.1 531.8,395.1 532.2,395.1 532.6,395.1 533,395.1 533.4,395.1 533.8,395.1 534.2,395.1 534.6,395.1 535,395.1 535.4,395.1 535.8,395.1 536.2,395.1 536.6,395.1 537,395.1 537.4,395.1 537.8,395.1 538.2,395.1 538.6,395.1 538.9,395.1 539.3,395.1 539.7,395.1 540.1,395.1 540.5,395.1 540.9,395.1 541.3,395.1 541.7,395.1 542.1,395.1 542.5,395.1 542.9,395.1 543.3,395.1 543.7,395.1 544.1,395.1 544.5,395.1 544.9,395.1 545.3,395.1 545.7,395.1 546.1,395.1 546.5,395.1 546.9,395.1 547.3,395.1 547.7,395.1 548.1,395.1 548.5,395.1 548.9,395.1 549.3,395.1 549.7,395.1 550.1,395.1 550.5,395.1 550.9,395.1 551.3,395.1 551.7,395.1 552.1,395.1 552.4,395.1 552.8,395.1 553.2,395.1 553.6,395.1 554,395.1 554.4,395.1 554.8,395.1 555.2,395.1 555.6,395.1 556,395.1 556.4,395.1 556.8,395.1 557.2,395.1 557.6,395.1 558,395.1 558.4,395.1 558.8,395.1 559.2,395.1 559.6,395.1 560,395.1 560.4,395.1 560.8,395.1 561.2,395.1 561.6,395.1 562,395.1 562.4,395.1 562.8,395.1 563.2,395.1 563.6,395.1 564,395.1 564.4,395.1 564.8,395.1 565.2,395.1 565.6,395.1 565.9,395.1 566.3,395.1 566.7,395.1 567.1,395.1 567.5,395.1 567.9,395.1 568.3,395.1 568.7,395.1 569.1,395.1 569.5,395.1 569.9,395.1 570.3,395.1 570.7,395.1 571.1,395.1 571.5,395.1 571.9,395.1 572.3,395.1 572.7,395.1 573.1,395.1 573.5,395.1 573.9,395.1 574.3,395.1 574.7,395.1 575.1,395.1 575.5,395.1 575.9,395.1 576.3,395.1 576.7,395.1 577.1,395.1 577.5,395.1 577.9,395.1 578.3,395.1 578.7,395.1 579.1,395.1 579.5,395.1 579.8,395.1 580.2,395.1 580.6,395.1 581,395.1 581.4,395.1 581.8,395.1 582.2,395.1 582.6,395.1 583,395.1 583.4,395.1 583.8,395.1 584.2,395.1 584.6,395.1 585,395.1 585.4,395.1 585.8,395.1 586.2,395.1 586.6,395.1 587,395.1 587.4,395.1 587.8,395.1 588.2,395.1 588.6,395.1 589,395.1 589.4,395.1 589.8,395.1 590.2,395.1 590.6,395.1 591,395.1 591.4,395.1 591.8,395.1 592.2,395.1 592.6,395.1 593,395.1 593.3,395.1 593.7,395.1 594.1,395.1 594.5,395.1 594.9,395.1 595.3,395.1 595.7,395.1 596.1,395.1 596.5,395.1 596.9,395.1 597.3,395.1 597.7,395.1 598.1,395.1 598.5,395.1 598.9,395.1 599.3,395.1 599.7,395.1 600.1,395.1 600.5,395.1 600.9,395.1 601.3,395.1 601.7,395.1 602.1,395.1 602.5,395.1 602.9,395.1 603.3,395.1 603.7,395.1 604.1,395.1 604.5,395.1 604.9,395.1 605.3,395.1 605.7,395.1 606.1,395.1 606.5,395.1 606.8,395.1 607.2,395.1 607.6,395.1 608,395.1 608.4,395.1 608.8,395.1 609.2,395.1 609.6,395.1 610,395.1 610.4,395.1 610.8,395.1 611.2,395.1 611.6,395.1 612,395.1 612.4,395.1 612.8,395.1 613.2,395.1 613.6,395.1 614,395.1 614.4,395.1 614.8,395.1 615.2,395.1 615.6,395.1 616,395.1 616.4,395.1 616.8,395.1 617.2,395.1 617.6,395.1 618,395.1 618.4,395.1 618.8,395.1 619.2,395.1 619.6,395.1 620,395.1 620.3,395.1 620.7,395.1 621.1,395.1 621.5,395.1 621.9,395.1 622.3,395.1 622.7,395.1 623.1,395.1 623.5,395.1 623.9,395.1 624.3,395.1 624.7,395.1 625.1,395.1 625.5,395.1 625.9,395.1 626.3,395.1 626.7,395.1 627.1,395.1 627.5,395.1 627.9,395.1 628.3,395.1 628.7,395.1 629.1,395.1 629.5,395.1 629.9,395.1 630.3,395.1 630.7,395.1 631.1,395.1 631.5,395.1 631.9,395.1 632.3,395.1 632.7,395.1 633.1,395.1 633.5,395.1 633.8,395.1 634.2,395.1 634.6,395.1 635,395.1 635.4,395.1 635.8,395.1 636.2,395.1 636.6,395.1 637,395.1 637.4,395.1 637.8,395.1 638.2,395.1 638.6,395.1 639,395.1 639.4,395.1 639.8,395.1 640.2,395.1 640.6,395.1" fill="none" stroke="#ff0000" stroke-width="3.1" stroke-linejoin="round" stroke-linecap="butt"/>
<polyline points="124.8,395.1 125.2,395.1 125.6,395.1 126,395.1 126.4,395.1 126.8,395.1 127.2,395.1 127.6,395.1 128,395.1 128.4,395.1 128.8,395.1 129.2,395.1 129.6,395.1 130,395.1 130.4,395.1 130.8,395.1 131.2,395.1 131.6,395.1 131.9,395.1 132.3,395.1 132.7,395.1 133.1,395.1 133.5,395.1 133.9,395.1 134.3,395.1 134.7,395.1 135.1,395.1 135.5,395.1 135.9,395.1 136.3,395.1 136.7,395.1 137.1,395.1 137.5,395.1 137.9,395.1 138.3,395.1 138.7,395.1 139.1,395.1 139.5,395.1 139.9,395.1 140.3,395.1 140.7,395.1 141.1,395.1 141.5,395.1 141.9,395.1 142.3,395.1 142.7,395.1 143.1,395.1 143.5,395.1 143.9,395.1 144.3,395.1 144.7,395.1 145.1,395.1 145.4,395.1 145.8,395.1 146.2,395.1 146.6,395.1 147,395.1 147.4,395.1 147.8,395.1 148.2,395.1 148.6,395.1 149,395.1 149.4,395.1 149.8,395.1 150.2,395.1 150.6,395.1 151,395.1 151.4,395.1 151.8,395.1 152.2,395.1 152.6,395.1 153,395.1 153.4,395.1 153.8,395.1 154.2,395.1 154.6,395.1 155,395.1 155.4,395.1 155.8,395.1 156.2,395.1 156.6,395.1 157,395.1 157.4,395.1 157.8,395.1 158.2,395.1 158.6,395.1 158.9,395.1 159.3,395.1 159.7,395.1 160.1,395.1 160.5,395.1 160.9,395.1 161.3,395.1 161.7,395.1 162.1,395.1 162.5,395.1 162.9,395.1 163.3,395.1 163.7,395.1 164.1,395.1 164.5,395.1 164.9,395.1 165.3,395.1 165.7,395.1 166.1,395.1 166.5,395.1 166.9,395.1 167.3,395.1 167.7,395.1 168.1,395.1 168.5,395.1 168.9,395.1 169.3,395.1 169.7,395.1 170.1,395.1 170.5,395.1 170.9,395.1 171.3,395.1 171.7,395.1 172.1,395.1 172.4,395.1 172.8,395.1 173.2,395.1 173.6,395.1 174,395.1 174.4,395.1 174.8,395.1 175.2,395.1 175.6,395.1 176,395.1 176.4,395.1 176.8,395.1 177.2,395.1 177.6,395.1 178,395.1 178.4,395.1 178.8,395.1 179.2,395.1 179.6,395.1 180,395.1 180.4,395.1 180.8,395.1 181.2,395.1 181.6,395.1 182,395.1 182.4,395.1 182.8,395.1 183.2,395.1 183.6,395 184,395 184.4,395 184.8,395 185.2,395 185.6,395 185.9,395 186.3,395 186.7,395 187.1,395 187.5,395 187.9,395 188.3,395 188.7,395 189.1,395 189.5,395 189.9,395 190.3,395 190.7,395 191.1,395 191.5,395 191.9,395 192.3,395 192.7,395 193.1,395 193.5,395 193.9,395 194.3,395 194.7,395 195.1,395 195.5,395 195.9,395 196.3,395 196.7,395 197.1,395 197.5,395 197.9,395 198.3,395 198.7,395 199.1,395 199.5,395 199.8,395 200.2,395 200.6,395 201,395 201.4,395 201.8,395 202.2,394.9 202.6,394.9 203,394.9 203.4,394.9 203.8,394.9 204.2,394.9 204.6,394.9 205,394.9 205.4,394.9 205.8,394.9 206.2,394.9 206.6,394.9 207,394.9 207.4,394.9 207.8,394.9 208.2,394.8 208.6,394.8 209,394.8 209.4,394.8 209.8,394.8 210.2,394.8 210.6,394.8 211,394.8 211.4,394.8 211.8,394.8 212.2,394.7 212.6,394.7 213,394.7 213.3,394.7 213.7,394.7 214.1,394.7 214.5,394.7 214.9,394.6 215.3,394.6 215.7,394.6 216.1,394.6 216.5,394.6 216.9,394.6 217.3,394.5 217.7,394.5 218.1,394.5 218.5,394.5 218.9,394.5 219.3,394.4 219.7,394.4 220.1,394.4 220.5,394.4 220.9,394.3 221.3,394.3 221.7,394.3 222.1,394.3 222.5,394.2 222.9,394.2 223.3,394.2 223.7,394.1 224.1,394.1 224.5,394.1 224.9,394 225.3,394 225.7,394 226.1,393.9 226.5,393.9 226.8,393.8 227.2,393.8 227.6,393.7 228,393.7 228.4,393.7 228.8,393.6 229.2,393.6 229.6,393.5 230,393.5 230.4,393.4 230.8,393.4 231.2,393.3 231.6,393.2 232,393.2 232.4,393.1 232.8,393.1 233.2,393 233.6,392.9 234,392.9 234.4,392.8 234.8,392.7 235.2,392.6 235.6,392.6 236,392.5 236.4,392.4 236.8,392.3 237.2,392.2 237.6,392.1 238,392.1 238.4,392 238.8,391.9 239.2,391.8 239.6,391.7 240,391.6 240.3,391.5 240.7,391.4 241.1,391.2 241.5,391.1 241.9,391 242.3,390.9 242.7,390.8 243.1,390.6 243.5,390.5 243.9,390.4 244.3,390.3 244.7,390.1 245.1,390 245.5,389.8 245.9,389.7 246.3,389.5 246.7,389.4 247.1,389.2 247.5,389.1 247.9,388.9 248.3,388.7 248.7,388.6 249.1,388.4 249.5,388.2 249.9,388 250.3,387.8 250.7,387.7 251.1,387.5 251.5,387.3 251.9,387.1 252.3,386.9 252.7,386.6 253.1,386.4 253.5,386.2 253.8,386 254.2,385.8 254.6,385.5 255,385.3 255.4,385 255.8,384.8 256.2,384.5 256.6,384.3 257,384 257.4,383.8 257.8,383.5 258.2,383.2 258.6,382.9 259,382.7 259.4,382.4 259.8,382.1 260.2,381.8 260.6,381.5 261,381.2 261.4,380.8 261.8,380.5 262.2,380.2 262.6,379.9 263,379.5 263.4,379.2 263.8,378.8 264.2,378.5 264.6,378.1 265,377.7 265.4,377.4 265.8,377 266.2,376.6 266.6,376.2 267,375.8 267.3,375.4 267.7,375 268.1,374.6 268.5,374.2 268.9,373.8 269.3,373.4 269.7,372.9 270.1,372.5 270.5,372.1 270.9,371.6 271.3,371.2 271.7,370.7 272.1,370.2 272.5,369.8 272.9,369.3 273.3,368.8 273.7,368.3 274.1,367.8 274.5,367.3 274.9,366.8 275.3,366.3 275.7,365.8 276.1,365.3 276.5,364.8 276.9,364.2 277.3,363.7 277.7,363.2 278.1,362.6 278.5,362.1 278.9,361.5 279.3,361 279.7,360.4 280.1,359.8 280.5,359.3 280.9,358.7 281.2,358.1 281.6,357.5 282,356.9 282.4,356.3 282.8,355.7 283.2,355.1 283.6,354.5 284,353.9 284.4,353.3 284.8,352.7 285.2,352.1 285.6,351.5 286,350.8 286.4,350.2 286.8,349.6 287.2,348.9 287.6,348.3 288,347.7 288.4,347 288.8,346.4 289.2,345.7 289.6,345.1 290,344.4 290.4,343.8 290.8,343.1 291.2,342.5 291.6,341.8 292,341.1 292.4,340.5 292.8,339.8 293.2,339.2 293.6,338.5 294,337.8 294.4,337.2 294.7,336.5 295.1,335.9 295.5,335.2 295.9,334.5 296.3,333.9 296.7,333.2 297.1,332.6 297.5,331.9 297.9,331.3 298.3,330.6 298.7,330 299.1,329.3 299.5,328.7 299.9,328 300.3,327.4 300.7,326.8 301.1,326.1 301.5,325.5 301.9,324.9 302.3,324.3 302.7,323.6 303.1,323 303.5,322.4 303.9,321.8 304.3,321.2 304.7,320.6 305.1,320 305.5,319.4 305.9,318.9 306.3,318.3 306.7,317.7 307.1,317.2 307.5,316.6 307.9,316 308.2,315.5 308.6,315 309,314.4 309.4,313.9 309.8,313.4 310.2,312.9 310.6,312.4 311,311.9 311.4,311.4 311.8,311 312.2,310.5 312.6,310 313,309.6 313.4,309.2 313.8,308.7 314.2,308.3 314.6,307.9 315,307.5 315.4,307.1 315.8,306.7 316.2,306.4 316.6,306 317,305.6 317.4,305.3 317.8,305 318.2,304.7 318.6,304.4 319,304.1 319.4,303.8 319.8,303.5 320.2,303.2 320.6,303 321,302.7 321.4,302.5 321.7,302.3 322.1,302.1 322.5,301.9 322.9,301.7 323.3,301.6 323.7,301.4 324.1,301.3 324.5,301.1 324.9,301 325.3,300.9 325.7,300.8 326.1,300.7 326.5,300.6 326.9,300.6 327.3,300.5 327.7,300.5 328.1,300.5 328.5,300.5 328.9,300.5 329.3,300.5 329.7,300.5 330.1,300.6 330.5,300.6 330.9,300.7 331.3,300.8 331.7,300.9 332.1,301 332.5,301.2 332.9,301.3 333.3,301.5 333.7,301.6 334.1,301.8 334.5,302 334.9,302.2 335.2,302.4 335.6,302.7 336,302.9 336.4,303.2 336.8,303.5 337.2,303.7 337.6,304 338,304.3 338.4,304.7 338.8,305 339.2,305.3 339.6,305.7 340,306.1 340.4,306.5 340.8,306.9 341.2,307.3 341.6,307.7 342,308.1 342.4,308.5 342.8,309 343.2,309.4 343.6,309.9 344,310.4 344.4,310.9 344.8,311.4 345.2,311.9 345.6,312.4 346,312.9 346.4,313.4 346.8,314 347.2,314.5 347.6,315.1 348,315.6 348.4,316.2 348.8,316.8 349.1,317.4 349.5,318 349.9,318.6 350.3,319.2 350.7,319.8 351.1,320.4 351.5,321 351.9,321.6 352.3,322.3 352.7,322.9 353.1,323.6 353.5,324.2 353.9,324.9 354.3,325.5 354.7,326.2 355.1,326.8 355.5,327.5 355.9,328.2 356.3,328.9 356.7,329.5 357.1,330.2 357.5,330.9 357.9,331.6 358.3,332.3 358.7,333 359.1,333.6 359.5,334.3 359.9,335 360.3,335.7 360.7,336.4 361.1,337.1 361.5,337.8 361.9,338.5 362.3,339.2 362.6,339.9 363,340.6 363.4,341.3 363.8,342 364.2,342.6 364.6,343.3 365,344 365.4,344.7 365.8,345.4 366.2,346.1 366.6,346.7 367,347.4 367.4,348.1 367.8,348.8 368.2,349.4 368.6,350.1 369,350.8 369.4,351.4 369.8,352.1 370.2,352.7 370.6,353.4 371,354 371.4,354.6 371.8,355.3 372.2,355.9 372.6,356.5 373,357.2 373.4,357.8 373.8,358.4 374.2,359 374.6,359.6 375,360.2 375.4,360.8 375.8,361.4 376.1,362 376.5,362.5 376.9,363.1 377.3,363.7 377.7,364.2 378.1,364.8 378.5,365.3 378.9,365.9 379.3,366.4 379.7,367 380.1,367.5 380.5,368 380.9,368.5 381.3,369 381.7,369.5 382.1,370 382.5,370.5 382.9,371 383.3,371.5 383.7,371.9 384.1,372.4 384.5,372.9 384.9,373.3 385.3,373.8 385.7,374.2 386.1,374.6 386.5,375.1 386.9,375.5 387.3,375.9 387.7,376.3 388.1,376.7 388.5,377.1 388.9,377.5 389.3,377.9 389.6,378.3 390,378.7 390.4,379 390.8,379.4 391.2,379.7 391.6,380.1 392,380.4 392.4,380.8 392.8,381.1 393.2,381.4 393.6,381.8 394,382.1 394.4,382.4 394.8,382.7 395.2,383 395.6,383.3 396,383.6 396.4,383.9 396.8,384.1 397.2,384.4 397.6,384.7 398,384.9 398.4,385.2 398.8,385.4 399.2,385.7 399.6,385.9 400,386.2 400.4,386.4 400.8,386.6 401.2,386.8 401.6,387.1 402,387.3 402.4,387.5 402.8,387.7 403.1,387.9 403.5,388.1 403.9,388.3 404.3,388.5 404.7,388.6 405.1,388.8 405.5,389 405.9,389.2 406.3,389.3 406.7,389.5 407.1,389.6 407.5,389.8 407.9,390 408.3,390.1 408.7,390.2 409.1,390.4 409.5,390.5 409.9,390.7 410.3,390.8 410.7,390.9 411.1,391 411.5,391.2 411.9,391.3 412.3,391.4 412.7,391.5 413.1,391.6 413.5,391.7 413.9,391.8 414.3,391.9 414.7,392 415.1,392.1 415.5,392.2 415.9,392.3 416.3,392.4 416.6,392.5 417,392.6 417.4,392.6 417.8,392.7 418.2,392.8 418.6,392.9 419,392.9 419.4,393 419.8,393.1 420.2,393.1 420.6,393.2 421,393.3 421.4,393.3 421.8,393.4 422.2,393.4 422.6,393.5 423,393.5 423.4,393.6 423.8,393.6 424.2,393.7 424.6,393.7 425,393.8 425.4,393.8 425.8,393.9 426.2,393.9 426.6,394 427,394 427.4,394 427.8,394.1 428.2,394.1 428.6,394.1 429,394.2 429.4,394.2 429.8,394.2 430.2,394.3 430.5,394.3 430.9,394.3 431.3,394.4 431.7,394.4 432.1,394.4 432.5,394.4 432.9,394.5 433.3,394.5 433.7,394.5 434.1,394.5 434.5,394.5 434.9,394.6 435.3,394.6 435.7,394.6 436.1,394.6 436.5,394.6 436.9,394.7 437.3,394.7 437.7,394.7 438.1,394.7 438.5,394.7 438.9,394.7 439.3,394.7 439.7,394.8 440.1,394.8 440.5,394.8 440.9,394.8 441.3,394.8 441.7,394.8 442.1,394.8 442.5,394.8 442.9,394.8 443.3,394.9 443.7,394.9 444,394.9 444.4,394.9 444.8,394.9 445.2,394.9 445.6,394.9 446,394.9 446.4,394.9 446.8,394.9 447.2,394.9 447.6,394.9 448,394.9 448.4,394.9 448.8,394.9 449.2,395 449.6,395 450,395 450.4,395 450.8,395 451.2,395 451.6,395 452,395 452.4,395 452.8,395 453.2,395 453.6,395 454,395 454.4,395 454.8,395 455.2,395 455.6,395 456,395 456.4,395 456.8,395 457.2,395 457.5,395 457.9,395 458.3,395 458.7,395 459.1,395 459.5,395 459.9,395 460.3,395 460.7,395 461.1,395 461.5,395 461.9,395 462.3,395 462.7,395 463.1,395 463.5,395 463.9,395 464.3,395 464.7,395 465.1,395 465.5,395 465.9,395 466.3,395 466.7,395 467.1,395.1 467.5,395.1 467.9,395.1 468.3,395.1 468.7,395.1 469.1,395.1 469.5,395.1 469.9,395.1 470.3,395.1 470.7,395.1 471,395.1 471.4,395.1 471.8,395.1 472.2,395.1 472.6,395.1 473,395.1 473.4,395.1 473.8,395.1 474.2,395.1 474.6,395.1 475,395.1 475.4,395.1 475.8,395.1 476.2,395.1 476.6,395.1 477,395.1 477.4,395.1 477.8,395.1 478.2,395.1 478.6,395.1 479,395.1 479.4,395.1 479.8,395.1 480.2,395.1 480.6,395.1 481,395.1 481.4,395.1 481.8,395.1 482.2,395.1 482.6,395.1 483,395.1 483.4,395.1 483.8,395.1 484.2,395.1 484.5,395.1 484.9,395.1 485.3,395.1 485.7,395.1 486.1,395.1 486.5,395.1 486.9,395.1 487.3,395.1 487.7,395.1 488.1,395.1 488.5,395.1 488.9,395.1 489.3,395.1 489.7,395.1 490.1,395.1 490.5,395.1 490.9,395.1 491.3,395.1 491.7,395.1 492.1,395.1 492.5,395.1 492.9,395.1 493.3,395.1 493.7,395.1 494.1,395.1 494.5,395.1 494.9,395.1 495.3,395.1 495.7,395.1 496.1,395.1 496.5,395.1 496.9,395.1 497.3,395.1 497.7,395.1 498.1,395.1 498.4,395.1 498.8,395.1 499.2,395.1 499.6,395.1 500,395.1 500.4,395.1 500.8,395.1 501.2,395.1 501.6,395.1 502,395.1 502.4,395.1 502.8,395.1 503.2,395.1 503.6,395.1 504,395.1 504.4,395.1 504.8,395.1 505.2,395.1 505.6,395.1 506,395.1 506.4,395.1 506.8,395.1 507.2,395.1 507.6,395.1 508,395.1 508.4,395.1 508.8,395.1 509.2,395.1 509.6,395.1 510,395.1 510.4,395.1 510.8,395.1 511.2,395.1 511.6,395.1 511.9,395.1 512.3,395.1 512.7,395.1 513.1,395.1 513.5,395.1 513.9,395.1 514.3,395.1 514.7,395.1 515.1,395.1 515.5,395.1 515.9,395.1 516.3,395.1 516.7,395.1 517.1,395.1 517.5,395.1 517.9,395.1 518.3,395.1 518.7,395.1 519.1,395.1 519.5,395.1 519.9,395.1 520.3,395.1 520.7,395.1 521.1,395.1 521.5,395.1 521.9,395.1 522.3,395.1 522.7,395.1 523.1,395.1 523.5,395.1 523.9,395.1 524.3,395.1 524.7,395.1 525.1,395.1 525.4,395.1 525.8,395.1 526.2,395.1 526.6,395.1 527,395.1 527.4,395.1 527.8,395.1 528.2,395.1 528.6,395.1 529,395.1 529.4,395.1 529.8,395.1 530.2,395.1 530.6,395.1 531,395.1 531.4,395.1 531.8,395.1 532.2,395.1 532.6,395.1 533,395.1 533.4,395.1 533.8,395.1 534.2,395.1 534.6,395.1 535,395.1 535.4,395.1 535.8,395.1 536.2,395.1 536.6,395.1 537,395.1 537.4,395.1 537.8,395.1 538.2,395.1 538.6,395.1 538.9,395.1 539.3,395.1 539.7,395.1 540.1,395.1 540.5,395.1 540.9,395.1 541.3,395.1 541.7,395.1 542.1,395.1 542.5,395.1 542.9,395.1 543.3,395.1 543.7,395.1 544.1,395.1 544.5,395.1 544.9,395.1 545.3,395.1 545.7,395.1 546.1,395.1 546.5,395.1 546.9,395.1 547.3,395.1 547.7,395.1 548.1,395.1 548.5,395.1 548.9,395.1 549.3,395.1 549.7,395.1 550.1,395.1 550.5,395.1 550.9,395.1 551.3,395.1 551.7,395.1 552.1,395.1 552.4,395.1 552.8,395.1 553.2,395.1 553.6,395.1 554,395.1 554.4,395.1 554.8,395.1 555.2,395.1 555.6,395.1 556,395.1 556.4,395.1 556.8,395.1 557.2,395.1 557.6,395.1 558,395.1 558.4,395.1 558.8,395.1 559.2,395.1 559.6,395.1 560,395.1 560.4,395.1 560.8,395.1 561.2,395.1 561.6,395.1 562,395.1 562.4,395.1 562.8,395.1 563.2,395.1 563.6,395.1 564,395.1 564.4,395.1 564.8,395.1 565.2,395.1 565.6,395.1 565.9,395.1 566.3,395.1 566.7,395.1 567.1,395.1 567.5,395.1 567.9,395.1 568.3,395.1 568.7,395.1 569.1,395.1 569.5,395.1 569.9,395.1 570.3,395.1 570.7,395.1 571.1,395.1 571.5,395.1 571.9,395.1 572.3,395.1 572.7,395.1 573.1,395.1 573.5,395.1 573.9,395.1 574.3,395.1 574.7,395.1 575.1,395.1 575.5,395.1 575.9,395.1 576.3,395.1 576.7,395.1 577.1,395.1 577.5,395.1 577.9,395.1 578.3,395.1 578.7,395.1 579.1,395.1 579.5,395.1 579.8,395.1 580.2,395.1 580.6,395.1 581,395.1 581.4,395.1 581.8,395.1 582.2,395.1 582.6,395.1 583,395.1 583.4,395.1 583.8,395.1 584.2,395.1 584.6,395.1 585,395.1 585.4,395.1 585.8,395.1 586.2,395.1 586.6,395.1 587,395.1 587.4,395.1 587.8,395.1 588.2,395.1 588.6,395.1 589,395.1 589.4,395.1 589.8,395.1 590.2,395.1 590.6,395.1 591,395.1 591.4,395.1 591.8,395.1 592.2,395.1 592.6,395.1 593,395.1 593.3,395.1 593.7,395.1 594.1,395.1 594.5,395.1 594.9,395.1 595.3,395.1 595.7,395.1 596.1,395.1 596.5,395.1 596.9,395.1 597.3,395.1 597.7,395.1 598.1,395.1 598.5,395.1 598.9,395.1 599.3,395.1 599.7,395.1 600.1,395.1 600.5,395.1 600.9,395.1 601.3,395.1 601.7,395.1 602.1,395.1 602.5,395.1 602.9,395.1 603.3,395.1 603.7,395.1 604.1,395.1 604.5,395.1 604.9,395.1 605.3,395.1 605.7,395.1 606.1,395.1 606.5,395.1 606.8,395.1 607.2,395.1 607.6,395.1 608,395.1 608.4,395.1 608.8,395.1 609.2,395.1 609.6,395.1 610,395.1 610.4,395.1 610.8,395.1 611.2,395.1 611.6,395.1 612,395.1 612.4,395.1 612.8,395.1 613.2,395.1 613.6,395.1 614,395.1 614.4,395.1 614.8,395.1 615.2,395.1 615.6,395.1 616,395.1 616.4,395.1 616.8,395.1 617.2,395.1 617.6,395.1 618,395.1 618.4,395.1 618.8,395.1 619.2,395.1 619.6,395.1 620,395.1 620.3,395.1 620.7,395.1 621.1,395.1 621.5,395.1 621.9,395.1 622.3,395.1 622.7,395.1 623.1,395.1 623.5,395.1 623.9,395.1 624.3,395.1 624.7,395.1 625.1,395.1 625.5,395.1 625.9,395.1 626.3,395.1 626.7,395.1 627.1,395.1 627.5,395.1 627.9,395.1 628.3,395.1 628.7,395.1 629.1,395.1 629.5,395.1 629.9,395.1 630.3,395.1 630.7,395.1 631.1,395.1 631.5,395.1 631.9,395.1 632.3,395.1 632.7,395.1 633.1,395.1 633.5,395.1 633.8,395.1 634.2,395.1 634.6,395.1 635,395.1 635.4,395.1 635.8,395.1 636.2,395.1 636.6,395.1 637,395.1 637.4,395.1 637.8,395.1 638.2,395.1 638.6,395.1 639,395.1 639.4,395.1 639.8,395.1 640.2,395.1 640.6,395.1" fill="none" stroke="#008000" stroke-width="3.1" stroke-linejoin="round" stroke-linecap="butt"/>
<polyline points="124.8,395.1 125.2,395.1 125.6,395.1 126,395.1 126.4,395.1 126.8,395.1 127.2,395.1 127.6,395.1 128,395.1 128.4,395.1 128.8,395.1 129.2,395.1 129.6,395.1 130,395.1 130.4,395.1 130.8,395.1 131.2,395.1 131.6,395.1 131.9,395.1 132.3,395.1 132.7,395.1 133.1,395.1 133.5,395.1 133.9,395.1 134.3,395.1 134.7,395.1 135.1,395.1 135.5,395.1 135.9,395.1 136.3,395.1 136.7,395.1 137.1,395.1 137.5,395.1 137.9,395.1 138.3,395.1 138.7,395.1 139.1,395.1 139.5,395.1 139.9,395.1 140.3,395.1 140.7,395.1 141.1,395.1 141.5,395.1 141.9,395.1 142.3,395.1 142.7,395.1 143.1,395.1 143.5,395.1 143.9,395.1 144.3,395.1 144.7,395.1 145.1,395.1 145.4,395.1 145.8,395.1 146.2,395.1 146.6,395.1 147,395.1 147.4,395.1 147.8,395.1 148.2,395.1 148.6,395.1 149,395.1 149.4,395.1 149.8,395.1 150.2,395.1 150.6,395.1 151,395.1 151.4,395.1 151.8,395.1 152.2,395.1 152.6,395.1 153,395.1 153.4,395.1 153.8,395.1 154.2,395.1 154.6,395.1 155,395.1 155.4,395.1 155.8,395.1 156.2,395.1 156.6,395.1 157,395.1 157.4,395.1 157.8,395.1 158.2,395.1 158.6,395.1 158.9,395.1 159.3,395.1 159.7,395.1 160.1,395.1 160.5,395.1 160.9,395.1 161.3,395.1 161.7,395.1 162.1,395.1 162.5,395.1 162.9,395.1 163.3,395.1 163.7,395.1 164.1,395.1 164.5,395.1 164.9,395.1 165.3,395.1 165.7,395.1 166.1,395.1 166.5,395.1 166.9,395.1 167.3,395.1 167.7,395.1 168.1,395.1 168.5,395.1 168.9,395.1 169.3,395.1 169.7,395.1 170.1,395.1 170.5,395.1 170.9,395.1 171.3,395.1 171.7,395.1 172.1,395.1 172.4,395.1 172.8,395.1 173.2,395.1 173.6,395.1 174,395.1 174.4,395.1 174.8,395.1 175.2,395.1 175.6,395.1 176,395.1 176.4,395.1 176.8,395.1 177.2,395.1 177.6,395.1 178,395.1 178.4,395.1 178.8,395.1 179.2,395.1 179.6,395.1 180,395.1 180.4,395.1 180.8,395.1 181.2,395.1 181.6,395.1 182,395.1 182.4,395.1 182.8,395.1 183.2,395.1 183.6,395.1 184,395.1 184.4,395.1 184.8,395.1 185.2,395.1 185.6,395.1 185.9,395.1 186.3,395.1 186.7,395.1 187.1,395.1 187.5,395.1 187.9,395.1 188.3,395.1 188.7,395.1 189.1,395.1 189.5,395.1 189.9,395.1 190.3,395.1 190.7,395.1 191.1,395.1 191.5,395.1 191.9,395.1 192.3,395.1 192.7,395.1 193.1,395.1 193.5,395.1 193.9,395.1 194.3,395.1 194.7,395.1 195.1,395.1 195.5,395.1 195.9,395.1 196.3,395.1 196.7,395.1 197.1,395.1 197.5,395.1 197.9,395.1 198.3,395.1 198.7,395.1 199.1,395.1 199.5,395.1 199.8,395.1 200.2,395.1 200.6,395.1 201,395.1 201.4,395.1 201.8,395.1 202.2,395.1 202.6,395.1 203,395.1 203.4,395.1 203.8,395.1 204.2,395.1 204.6,395.1 205,395.1 205.4,395.1 205.8,395.1 206.2,395.1 206.6,395.1 207,395.1 207.4,395.1 207.8,395.1 208.2,395.1 208.6,395.1 209,395.1 209.4,395.1 209.8,395.1 210.2,395.1 210.6,395.1 211,395.1 211.4,395.1 211.8,395.1 212.2,395.1 212.6,395.1 213,395.1 213.3,395.1 213.7,395.1 214.1,395.1 214.5,395.1 214.9,395.1 215.3,395.1 215.7,395.1 216.1,395.1 216.5,395.1 216.9,395.1 217.3,395.1 217.7,395.1 218.1,395.1 218.5,395.1 218.9,395.1 219.3,395.1 219.7,395.1 220.1,395.1 220.5,395.1 220.9,395.1 221.3,395.1 221.7,395.1 222.1,395.1 222.5,395.1 222.9,395.1 223.3,395.1 223.7,395.1 224.1,395.1 224.5,395.1 224.9,395.1 225.3,395.1 225.7,395.1 226.1,395.1 226.5,395.1 226.8,395.1 227.2,395.1 227.6,395.1 228,395.1 228.4,395.1 228.8,395.1 229.2,395.1 229.6,395.1 230,395.1 230.4,395.1 230.8,395.1 231.2,395.1 231.6,395.1 232,395.1 232.4,395.1 232.8,395.1 233.2,395.1 233.6,395.1 234,395.1 234.4,395.1 234.8,395.1 235.2,395.1 235.6,395.1 236,395.1 236.4,395.1 236.8,395.1 237.2,395 237.6,395 238,395 238.4,395 238.8,395 239.2,395 239.6,395 240,395 240.3,395 240.7,395 241.1,395 241.5,395 241.9,395 242.3,395 242.7,395 243.1,395 243.5,395 243.9,395 244.3,395 244.7,395 245.1,395 245.5,395 245.9,395 246.3,395 246.7,395 247.1,395 247.5,395 247.9,395 248.3,395 248.7,395 249.1,395 249.5,395 249.9,395 250.3,395 250.7,395 251.1,395 251.5,395 251.9,395 252.3,395 252.7,395 253.1,395 253.5,395 253.8,395 254.2,395 254.6,395 255,394.9 255.4,394.9 255.8,394.9 256.2,394.9 256.6,394.9 257,394.9 257.4,394.9 257.8,394.9 258.2,394.9 258.6,394.9 259,394.9 259.4,394.9 259.8,394.9 260.2,394.9 260.6,394.8 261,394.8 261.4,394.8 261.8,394.8 262.2,394.8 262.6,394.8 263,394.8 263.4,394.8 263.8,394.8 264.2,394.7 264.6,394.7 265,394.7 265.4,394.7 265.8,394.7 266.2,394.7 266.6,394.6 267,394.6 267.3,394.6 267.7,394.6 268.1,394.6 268.5,394.6 268.9,394.5 269.3,394.5 269.7,394.5 270.1,394.5 270.5,394.4 270.9,394.4 271.3,394.4 271.7,394.4 272.1,394.3 272.5,394.3 272.9,394.3 273.3,394.2 273.7,394.2 274.1,394.2 274.5,394.1 274.9,394.1 275.3,394.1 275.7,394 276.1,394 276.5,393.9 276.9,393.9 277.3,393.8 277.7,393.8 278.1,393.8 278.5,393.7 278.9,393.6 279.3,393.6 279.7,393.5 280.1,393.5 280.5,393.4 280.9,393.4 281.2,393.3 281.6,393.2 282,393.2 282.4,393.1 282.8,393 283.2,392.9 283.6,392.9 284,392.8 284.4,392.7 284.8,392.6 285.2,392.5 285.6,392.4 286,392.3 286.4,392.2 286.8,392.1 287.2,392 287.6,391.9 288,391.8 288.4,391.7 288.8,391.6 289.2,391.5 289.6,391.4 290,391.2 290.4,391.1 290.8,391 291.2,390.8 291.6,390.7 292,390.5 292.4,390.4 292.8,390.2 293.2,390 293.6,389.9 294,389.7 294.4,389.5 294.7,389.4 295.1,389.2 295.5,389 295.9,388.8 296.3,388.6 296.7,388.4 297.1,388.1 297.5,387.9 297.9,387.7 298.3,387.5 298.7,387.2 299.1,387 299.5,386.7 299.9,386.5 300.3,386.2 300.7,385.9 301.1,385.6 301.5,385.4 301.9,385.1 302.3,384.8 302.7,384.4 303.1,384.1 303.5,383.8 303.9,383.5 304.3,383.1 304.7,382.8 305.1,382.4 305.5,382 305.9,381.6 306.3,381.3 306.7,380.9 307.1,380.4 307.5,380 307.9,379.6 308.2,379.2 308.6,378.7 309,378.3 309.4,377.8 309.8,377.3 310.2,376.8 310.6,376.3 311,375.8 311.4,375.3 311.8,374.7 312.2,374.2 312.6,373.6 313,373 313.4,372.5 313.8,371.9 314.2,371.2 314.6,370.6 315,370 315.4,369.3 315.8,368.7 316.2,368 316.6,367.3 317,366.6 317.4,365.9 317.8,365.1 318.2,364.4 318.6,363.6 319,362.8 319.4,362 319.8,361.2 320.2,360.4 320.6,359.6 321,358.7 321.4,357.8 321.7,356.9 322.1,356 322.5,355.1 322.9,354.2 323.3,353.2 323.7,352.3 324.1,351.3 324.5,350.3 324.9,349.2 325.3,348.2 325.7,347.2 326.1,346.1 326.5,345 326.9,343.9 327.3,342.8 327.7,341.6 328.1,340.4 328.5,339.3 328.9,338.1 329.3,336.8 329.7,335.6 330.1,334.4 330.5,333.1 330.9,331.8 331.3,330.5 331.7,329.2 332.1,327.8 332.5,326.4 332.9,325.1 333.3,323.7 333.7,322.2 334.1,320.8 334.5,319.3 334.9,317.9 335.2,316.4 335.6,314.9 336,313.3 336.4,311.8 336.8,310.2 337.2,308.6 337.6,307 338,305.4 338.4,303.7 338.8,302.1 339.2,300.4 339.6,298.7 340,297 340.4,295.2 340.8,293.5 341.2,291.7 341.6,289.9 342,288.1 342.4,286.3 342.8,284.5 343.2,282.6 343.6,280.8 344,278.9 344.4,277 344.8,275.1 345.2,273.1 345.6,271.2 346,269.2 346.4,267.3 346.8,265.3 347.2,263.3 347.6,261.2 348,259.2 348.4,257.2 348.8,255.1 349.1,253.1 349.5,251 349.9,248.9 350.3,246.8 350.7,244.7 351.1,242.5 351.5,240.4 351.9,238.3 352.3,236.1 352.7,233.9 353.1,231.8 353.5,229.6 353.9,227.4 354.3,225.2 354.7,223 355.1,220.8 355.5,218.6 355.9,216.4 356.3,214.2 356.7,211.9 357.1,209.7 357.5,207.5 357.9,205.3 358.3,203 358.7,200.8 359.1,198.6 359.5,196.3 359.9,194.1 360.3,191.8 360.7,189.6 361.1,187.4 361.5,185.2 361.9,182.9 362.3,180.7 362.6,178.5 363,176.3 363.4,174.1 363.8,171.9 364.2,169.7 364.6,167.5 365,165.3 365.4,163.2 365.8,161 366.2,158.9 366.6,156.8 367,154.6 367.4,152.5 367.8,150.4 368.2,148.4 368.6,146.3 369,144.2 369.4,142.2 369.8,140.2 370.2,138.2 370.6,136.2 371,134.2 371.4,132.3 371.8,130.3 372.2,128.4 372.6,126.6 373,124.7 373.4,122.8 373.8,121 374.2,119.2 374.6,117.5 375,115.7 375.4,114 375.8,112.3 376.1,110.6 376.5,109 376.9,107.4 377.3,105.8 377.7,104.2 378.1,102.7 378.5,101.2 378.9,99.7 379.3,98.3 379.7,96.9 380.1,95.5 380.5,94.2 380.9,92.9 381.3,91.6 381.7,90.3 382.1,89.1 382.5,88 382.9,86.8 383.3,85.7 383.7,84.7 384.1,83.6 384.5,82.7 384.9,81.7 385.3,80.8 385.7,79.9 386.1,79.1 386.5,78.3 386.9,77.5 387.3,76.8 387.7,76.1 388.1,75.5 388.5,74.9 388.9,74.3 389.3,73.8 389.6,73.3 390,72.9 390.4,72.5 390.8,72.1 391.2,71.8 391.6,71.5 392,71.3 392.4,71.1 392.8,70.9 393.2,70.8 393.6,70.8 394,70.7 394.4,70.8 394.8,70.8 395.2,70.9 395.6,71 396,71.2 396.4,71.4 396.8,71.7 397.2,72 397.6,72.3 398,72.7 398.4,73.1 398.8,73.6 399.2,74.1 399.6,74.6 400,75.2 400.4,75.8 400.8,76.4 401.2,77.1 401.6,77.8 402,78.6 402.4,79.4 402.8,80.2 403.1,81.1 403.5,82 403.9,82.9 404.3,83.9 404.7,84.9 405.1,86 405.5,87 405.9,88.2 406.3,89.3 406.7,90.5 407.1,91.7 407.5,93 407.9,94.2 408.3,95.6 408.7,96.9 409.1,98.3 409.5,99.7 409.9,101.1 410.3,102.6 410.7,104.1 411.1,105.6 411.5,107.1 411.9,108.7 412.3,110.3 412.7,111.9 413.1,113.6 413.5,115.3 413.9,117 414.3,118.7 414.7,120.4 415.1,122.2 415.5,124 415.9,125.8 416.3,127.6 416.6,129.5 417,131.4 417.4,133.3 417.8,135.2 418.2,137.1 418.6,139.1 419,141 419.4,143 419.8,145 420.2,147 420.6,149 421,151.1 421.4,153.1 421.8,155.2 422.2,157.3 422.6,159.3 423,161.4 423.4,163.5 423.8,165.7 424.2,167.8 424.6,169.9 425,172.1 425.4,174.2 425.8,176.4 426.2,178.5 426.6,180.7 427,182.9 427.4,185 427.8,187.2 428.2,189.4 428.6,191.6 429,193.7 429.4,195.9 429.8,198.1 430.2,200.3 430.5,202.5 430.9,204.7 431.3,206.9 431.7,209 432.1,211.2 432.5,213.4 432.9,215.6 433.3,217.7 433.7,219.9 434.1,222 434.5,224.2 434.9,226.3 435.3,228.5 435.7,230.6 436.1,232.7 436.5,234.9 436.9,237 437.3,239.1 437.7,241.2 438.1,243.2 438.5,245.3 438.9,247.4 439.3,249.4 439.7,251.5 440.1,253.5 440.5,255.5 440.9,257.5 441.3,259.5 441.7,261.5 442.1,263.5 442.5,265.4 442.9,267.4 443.3,269.3 443.7,271.2 444,273.1 444.4,275 444.8,276.9 445.2,278.7 445.6,280.6 446,282.4 446.4,284.2 446.8,286 447.2,287.8 447.6,289.6 448,291.3 448.4,293 448.8,294.8 449.2,296.5 449.6,298.1 450,299.8 450.4,301.4 450.8,303.1 451.2,304.7 451.6,306.3 452,307.9 452.4,309.4 452.8,311 453.2,312.5 453.6,314 454,315.5 454.4,317 454.8,318.4 455.2,319.9 455.6,321.3 456,322.7 456.4,324.1 456.8,325.4 457.2,326.8 457.5,328.1 457.9,329.4 458.3,330.7 458.7,332 459.1,333.3 459.5,334.5 459.9,335.7 460.3,336.9 460.7,338.1 461.1,339.3 461.5,340.4 461.9,341.6 462.3,342.7 462.7,343.8 463.1,344.9 463.5,345.9 463.9,347 464.3,348 464.7,349.1 465.1,350.1 465.5,351 465.9,352 466.3,353 466.7,353.9 467.1,354.8 467.5,355.7 467.9,356.6 468.3,357.5 468.7,358.3 469.1,359.2 469.5,360 469.9,360.8 470.3,361.6 470.7,362.4 471,363.2 471.4,363.9 471.8,364.7 472.2,365.4 472.6,366.1 473,366.8 473.4,367.5 473.8,368.2 474.2,368.8 474.6,369.5 475,370.1 475.4,370.7 475.8,371.4 476.2,372 476.6,372.5 477,373.1 477.4,373.7 477.8,374.2 478.2,374.8 478.6,375.3 479,375.8 479.4,376.3 479.8,376.8 480.2,377.3 480.6,377.7 481,378.2 481.4,378.7 481.8,379.1 482.2,379.5 482.6,379.9 483,380.4 483.4,380.8 483.8,381.1 484.2,381.5 484.5,381.9 484.9,382.3 485.3,382.6 485.7,383 486.1,383.3 486.5,383.6 486.9,384 487.3,384.3 487.7,384.6 488.1,384.9 488.5,385.2 488.9,385.5 489.3,385.8 489.7,386 490.1,386.3 490.5,386.6 490.9,386.8 491.3,387 491.7,387.3 492.1,387.5 492.5,387.7 492.9,388 493.3,388.2 493.7,388.4 494.1,388.6 494.5,388.8 494.9,389 495.3,389.2 495.7,389.4 496.1,389.5 496.5,389.7 496.9,389.9 497.3,390 497.7,390.2 498.1,390.4 498.4,390.5 498.8,390.6 499.2,390.8 499.6,390.9 500,391.1 500.4,391.2 500.8,391.3 501.2,391.4 501.6,391.6 502,391.7 502.4,391.8 502.8,391.9 503.2,392 503.6,392.1 504,392.2 504.4,392.3 504.8,392.4 505.2,392.5 505.6,392.6 506,392.7 506.4,392.7 506.8,392.8 507.2,392.9 507.6,393 508,393 508.4,393.1 508.8,393.2 509.2,393.2 509.6,393.3 510,393.4 510.4,393.4 510.8,393.5 511.2,393.5 511.6,393.6 511.9,393.7 512.3,393.7 512.7,393.8 513.1,393.8 513.5,393.8 513.9,393.9 514.3,393.9 514.7,394 515.1,394 515.5,394.1 515.9,394.1 516.3,394.1 516.7,394.2 517.1,394.2 517.5,394.2 517.9,394.3 518.3,394.3 518.7,394.3 519.1,394.3 519.5,394.4 519.9,394.4 520.3,394.4 520.7,394.5 521.1,394.5 521.5,394.5 521.9,394.5 522.3,394.5 522.7,394.6 523.1,394.6 523.5,394.6 523.9,394.6 524.3,394.6 524.7,394.7 525.1,394.7 525.4,394.7 525.8,394.7 526.2,394.7 526.6,394.7 527,394.7 527.4,394.8 527.8,394.8 528.2,394.8 528.6,394.8 529,394.8 529.4,394.8 529.8,394.8 530.2,394.8 530.6,394.8 531,394.9 531.4,394.9 531.8,394.9 532.2,394.9 532.6,394.9 533,394.9 533.4,394.9 533.8,394.9 534.2,394.9 534.6,394.9 535,394.9 535.4,394.9 535.8,394.9 536.2,394.9 536.6,394.9 537,395 537.4,395 537.8,395 538.2,395 538.6,395 538.9,395 539.3,395 539.7,395 540.1,395 540.5,395 540.9,395 541.3,395 541.7,395 542.1,395 542.5,395 542.9,395 543.3,395 543.7,395 544.1,395 544.5,395 544.9,395 545.3,395 545.7,395 546.1,395 546.5,395 546.9,395 547.3,395 547.7,395 548.1,395 548.5,395 548.9,395 549.3,395 549.7,395 550.1,395 550.5,395 550.9,395 551.3,395 551.7,395 552.1,395 552.4,395 552.8,395 553.2,395 553.6,395 554,395 554.4,395 554.8,395.1 555.2,395.1 555.6,395.1 556,395.1 556.4,395.1 556.8,395.1 557.2,395.1 557.6,395.1 558,395.1 558.4,395.1 558.8,395.1 559.2,395.1 559.6,395.1 560,395.1 560.4,395.1 560.8,395.1 561.2,395.1 561.6,395.1 562,395.1 562.4,395.1 562.8,395.1 563.2,395.1 563.6,395.1 564,395.1 564.4,395.1 564.8,395.1 565.2,395.1 565.6,395.1 565.9,395.1 566.3,395.1 566.7,395.1 567.1,395.1 567.5,395.1 567.9,395.1 568.3,395.1 568.7,395.1 569.1,395.1 569.5,395.1 569.9,395.1 570.3,395.1 570.7,395.1 571.1,395.1 571.5,395.1 571.9,395.1 572.3,395.1 572.7,395.1 573.1,395.1 573.5,395.1 573.9,395.1 574.3,395.1 574.7,395.1 575.1,395.1 575.5,395.1 575.9,395.1 576.3,395.1 576.7,395.1 577.1,395.1 577.5,395.1 577.9,395.1 578.3,395.1 578.7,395.1 579.1,395.1 579.5,395.1 579.8,395.1 580.2,395.1 580.6,395.1 581,395.1 581.4,395.1 581.8,395.1 582.2,395.1 582.6,395.1 583,395.1 583.4,395.1 583.8,395.1 584.2,395.1 584.6,395.1 585,395.1 585.4,395.1 585.8,395.1 586.2,395.1 586.6,395.1 587,395.1 587.4,395.1 587.8,395.1 588.2,395.1 588.6,395.1 589,395.1 589.4,395.1 589.8,395.1 590.2,395.1 590.6,395.1 591,395.1 591.4,395.1 591.8,395.1 592.2,395.1 592.6,395.1 593,395.1 593.3,395.1 593.7,395.1 594.1,395.1 594.5,395.1 594.9,395.1 595.3,395.1 595.7,395.1 596.1,395.1 596.5,395.1 596.9,395.1 597.3,395.1 597.7,395.1 598.1,395.1 598.5,395.1 598.9,395.1 599.3,395.1 599.7,395.1 600.1,395.1 600.5,395.1 600.9,395.1 601.3,395.1 601.7,395.1 602.1,395.1 602.5,395.1 602.9,395.1 603.3,395.1 603.7,395.1 604.1,395.1 604.5,395.1 604.9,395.1 605.3,395.1 605.7,395.1 606.1,395.1 606.5,395.1 606.8,395.1 607.2,395.1 607.6,395.1 608,395.1 608.4,395.1 608.8,395.1 609.2,395.1 609.6,395.1 610,395.1 610.4,395.1 610.8,395.1 611.2,395.1 611.6,395.1 612,395.1 612.4,395.1 612.8,395.1 613.2,395.1 613.6,395.1 614,395.1 614.4,395.1 614.8,395.1 615.2,395.1 615.6,395.1 616,395.1 616.4,395.1 616.8,395.1 617.2,395.1 617.6,395.1 618,395.1 618.4,395.1 618.8,395.1 619.2,395.1 619.6,395.1 620,395.1 620.3,395.1 620.7,395.1 621.1,395.1 621.5,395.1 621.9,395.1 622.3,395.1 622.7,395.1 623.1,395.1 623.5,395.1 623.9,395.1 624.3,395.1 624.7,395.1 625.1,395.1 625.5,395.1 625.9,395.1 626.3,395.1 626.7,395.1 627.1,395.1 627.5,395.1 627.9,395.1 628.3,395.1 628.7,395.1 629.1,395.1 629.5,395.1 629.9,395.1 630.3,395.1 630.7,395.1 631.1,395.1 631.5,395.1 631.9,395.1 632.3,395.1 632.7,395.1 633.1,395.1 633.5,395.1 633.8,395.1 634.2,395.1 634.6,395.1 635,395.1 635.4,395.1 635.8,395.1 636.2,395.1 636.6,395.1 637,395.1 637.4,395.1 637.8,395.1 638.2,395.1 638.6,395.1 639,395.1 639.4,395.1 639.8,395.1 640.2,395.1 640.6,395.1" fill="none" stroke="#0000ff" stroke-width="3.1" stroke-linejoin="round" stroke-linecap="butt"/>
<polyline points="124.8,395.1 125.2,395.1 125.6,395.1 126,395.1 126.4,395.1 126.8,395.1 127.2,395.1 127.6,395.1 128,395.1 128.4,395.1 128.8,395.1 129.2,395.1 129.6,395.1 130,395.1 130.4,395.1 130.8,395.1 131.2,395.1 131.6,395.1 131.9,395.1 132.3,395.1 132.7,395.1 133.1,395.1 133.5,395.1 133.9,395.1 134.3,395.1 134.7,395.1 135.1,395.1 135.5,395.1 135.9,395.1 136.3,395.1 136.7,395.1 137.1,395.1 137.5,395.1 137.9,395.1 138.3,395.1 138.7,395.1 139.1,395.1 139.5,395.1 139.9,395.1 140.3,395.1 140.7,395.1 141.1,395.1 141.5,395.1 141.9,395.1 142.3,395.1 142.7,395.1 143.1,395.1 143.5,395.1 143.9,395.1 144.3,395.1 144.7,395.1 145.1,395.1 145.4,395.1 145.8,395.1 146.2,395.1 146.6,395.1 147,395.1 147.4,395.1 147.8,395.1 148.2,395.1 148.6,395.1 149,395.1 149.4,395.1 149.8,395.1 150.2,395.1 150.6,395.1 151,395.1 151.4,395.1 151.8,395.1 152.2,395.1 152.6,395.1 153,395.1 153.4,395.1 153.8,395.1 154.2,395.1 154.6,395.1 155,395.1 155.4,395.1 155.8,395.1 156.2,395.1 156.6,395.1 157,395.1 157.4,395.1 157.8,395.1 158.2,395.1 158.6,395.1 158.9,395.1 159.3,395.1 159.7,395.1 160.1,395.1 160.5,395.1 160.9,395.1 161.3,395.1 161.7,395.1 162.1,395.1 162.5,395.1 162.9,395.1 163.3,395.1 163.7,395.1 164.1,395.1 164.5,395.1 164.9,395.1 165.3,395.1 165.7,395.1 166.1,395.1 166.5,395.1 166.9,395.1 167.3,395.1 167.7,395.1 168.1,395.1 168.5,395.1 168.9,395.1 169.3,395.1 169.7,395.1 170.1,395.1 170.5,395.1 170.9,395.1 171.3,395.1 171.7,395.1 172.1,395.1 172.4,395.1 172.8,395.1 173.2,395.1 173.6,395.1 174,395.1 174.4,395.1 174.8,395.1 175.2,395.1 175.6,395.1 176,395.1 176.4,395.1 176.8,395.1 177.2,395.1 177.6,395.1 178,395.1 178.4,395.1 178.8,395.1 179.2,395.1 179.6,395.1 180,395.1 180.4,395.1 180.8,395.1 181.2,395.1 181.6,395.1 182,395 182.4,395 182.8,395 183.2,395 183.6,395 184,395 184.4,395 184.8,395 185.2,395 185.6,395 185.9,395 186.3,395 186.7,395 187.1,395 187.5,395 187.9,395 188.3,395 188.7,395 189.1,395 189.5,395 189.9,395 190.3,395 190.7,395 191.1,395 191.5,395 191.9,395 192.3,395 192.7,395 193.1,395 193.5,395 193.9,395 194.3,395 194.7,395 195.1,395 195.5,395 195.9,395 196.3,395 196.7,395 197.1,395 197.5,395 197.9,394.9 198.3,394.9 198.7,394.9 199.1,394.9 199.5,394.9 199.8,394.9 200.2,394.9 200.6,394.9 201,394.9 201.4,394.9 201.8,394.9 202.2,394.9 202.6,394.9 203,394.8 203.4,394.8 203.8,394.8 204.2,394.8 204.6,394.8 205,394.8 205.4,394.8 205.8,394.7 206.2,394.7 206.6,394.7 207,394.7 207.4,394.7 207.8,394.7 208.2,394.6 208.6,394.6 209,394.6 209.4,394.6 209.8,394.5 210.2,394.5 210.6,394.5 211,394.5 211.4,394.4 211.8,394.4 212.2,394.4 212.6,394.3 213,394.3 213.3,394.3 213.7,394.2 214.1,394.2 214.5,394.2 214.9,394.1 215.3,394.1 215.7,394 216.1,394 216.5,393.9 216.9,393.9 217.3,393.8 217.7,393.8 218.1,393.7 218.5,393.6 218.9,393.6 219.3,393.5 219.7,393.4 220.1,393.4 220.5,393.3 220.9,393.2 221.3,393.1 221.7,393.1 222.1,393 222.5,392.9 222.9,392.8 223.3,392.7 223.7,392.6 224.1,392.5 224.5,392.4 224.9,392.3 225.3,392.2 225.7,392.1 226.1,391.9 226.5,391.8 226.8,391.7 227.2,391.5 227.6,391.4 228,391.3 228.4,391.1 228.8,391 229.2,390.8 229.6,390.6 230,390.5 230.4,390.3 230.8,390.1 231.2,389.9 231.6,389.8 232,389.6 232.4,389.4 232.8,389.2 233.2,388.9 233.6,388.7 234,388.5 234.4,388.3 234.8,388 235.2,387.8 235.6,387.6 236,387.3 236.4,387 236.8,386.8 237.2,386.5 237.6,386.2 238,385.9 238.4,385.6 238.8,385.3 239.2,385 239.6,384.7 240,384.4 240.3,384.1 240.7,383.7 241.1,383.4 241.5,383 241.9,382.7 242.3,382.3 242.7,382 243.1,381.6 243.5,381.2 243.9,380.8 244.3,380.4 244.7,380 245.1,379.6 245.5,379.2 245.9,378.7 246.3,378.3 246.7,377.8 247.1,377.4 247.5,376.9 247.9,376.5 248.3,376 248.7,375.5 249.1,375.1 249.5,374.6 249.9,374.1 250.3,373.6 250.7,373.1 251.1,372.5 251.5,372 251.9,371.5 252.3,371 252.7,370.4 253.1,369.9 253.5,369.3 253.8,368.8 254.2,368.2 254.6,367.6 255,367.1 255.4,366.5 255.8,365.9 256.2,365.3 256.6,364.8 257,364.2 257.4,363.6 257.8,363 258.2,362.4 258.6,361.8 259,361.2 259.4,360.5 259.8,359.9 260.2,359.3 260.6,358.7 261,358.1 261.4,357.4 261.8,356.8 262.2,356.2 262.6,355.6 263,354.9 263.4,354.3 263.8,353.7 264.2,353.1 264.6,352.4 265,351.8 265.4,351.2 265.8,350.5 266.2,349.9 266.6,349.3 267,348.6 267.3,348 267.7,347.4 268.1,346.8 268.5,346.2 268.9,345.5 269.3,344.9 269.7,344.3 270.1,343.7 270.5,343.1 270.9,342.5 271.3,341.8 271.7,341.2 272.1,340.6 272.5,340 272.9,339.4 273.3,338.8 273.7,338.2 274.1,337.7 274.5,337.1 274.9,336.5 275.3,335.9 275.7,335.3 276.1,334.8 276.5,334.2 276.9,333.6 277.3,333.1 277.7,332.5 278.1,331.9 278.5,331.4 278.9,330.8 279.3,330.3 279.7,329.7 280.1,329.2 280.5,328.6 280.9,328.1 281.2,327.5 281.6,327 282,326.4 282.4,325.9 282.8,325.4 283.2,324.8 283.6,324.3 284,323.8 284.4,323.2 284.8,322.7 285.2,322.2 285.6,321.6 286,321.1 286.4,320.6 286.8,320 287.2,319.5 287.6,319 288,318.5 288.4,317.9 288.8,317.4 289.2,316.9 289.6,316.3 290,315.8 290.4,315.3 290.8,314.7 291.2,314.2 291.6,313.7 292,313.1 292.4,312.6 292.8,312.1 293.2,311.5 293.6,311 294,310.4 294.4,309.9 294.7,309.4 295.1,308.8 295.5,308.2 295.9,307.7 296.3,307.1 296.7,306.6 297.1,306 297.5,305.4 297.9,304.9 298.3,304.3 298.7,303.7 299.1,303.1 299.5,302.5 299.9,301.9 300.3,301.3 300.7,300.7 301.1,300.1 301.5,299.5 301.9,298.9 302.3,298.3 302.7,297.7 303.1,297 303.5,296.4 303.9,295.7 304.3,295.1 304.7,294.4 305.1,293.8 305.5,293.1 305.9,292.4 306.3,291.8 306.7,291.1 307.1,290.4 307.5,289.7 307.9,289 308.2,288.3 308.6,287.6 309,286.8 309.4,286.1 309.8,285.4 310.2,284.6 310.6,283.9 311,283.1 311.4,282.4 311.8,281.6 312.2,280.8 312.6,280 313,279.2 313.4,278.4 313.8,277.6 314.2,276.8 314.6,276 315,275.2 315.4,274.3 315.8,273.5 316.2,272.6 316.6,271.8 317,270.9 317.4,270 317.8,269.1 318.2,268.2 318.6,267.3 319,266.4 319.4,265.5 319.8,264.6 320.2,263.7 320.6,262.7 321,261.8 321.4,260.8 321.7,259.9 322.1,258.9 322.5,257.9 322.9,256.9 323.3,255.9 323.7,254.9 324.1,253.9 324.5,252.9 324.9,251.9 325.3,250.8 325.7,249.8 326.1,248.7 326.5,247.7 326.9,246.6 327.3,245.5 327.7,244.4 328.1,243.3 328.5,242.2 328.9,241.1 329.3,240 329.7,238.9 330.1,237.7 330.5,236.6 330.9,235.4 331.3,234.3 331.7,233.1 332.1,231.9 332.5,230.8 332.9,229.6 333.3,228.4 333.7,227.2 334.1,225.9 334.5,224.7 334.9,223.5 335.2,222.3 335.6,221 336,219.8 336.4,218.5 336.8,217.2 337.2,216 337.6,214.7 338,213.4 338.4,212.1 338.8,210.8 339.2,209.4 339.6,208.1 340,206.8 340.4,205.4 340.8,204.1 341.2,202.7 341.6,201.4 342,200 342.4,198.6 342.8,197.2 343.2,195.8 343.6,194.4 344,193 344.4,191.6 344.8,190.2 345.2,188.7 345.6,187.3 346,185.8 346.4,184.4 346.8,182.9 347.2,181.4 347.6,180 348,178.5 348.4,177 348.8,175.5 349.1,174 349.5,172.5 349.9,171 350.3,169.4 350.7,167.9 351.1,166.4 351.5,164.8 351.9,163.3 352.3,161.8 352.7,160.2 353.1,158.6 353.5,157.1 353.9,155.5 354.3,154 354.7,152.4 355.1,150.8 355.5,149.2 355.9,147.7 356.3,146.1 356.7,144.5 357.1,142.9 357.5,141.3 357.9,139.7 358.3,138.2 358.7,136.6 359.1,135 359.5,133.4 359.9,131.8 360.3,130.2 360.7,128.7 361.1,127.1 361.5,125.5 361.9,123.9 362.3,122.4 362.6,120.8 363,119.3 363.4,117.7 363.8,116.2 364.2,114.6 364.6,113.1 365,111.6 365.4,110 365.8,108.5 366.2,107 366.6,105.5 367,104.1 367.4,102.6 367.8,101.1 368.2,99.7 368.6,98.2 369,96.8 369.4,95.4 369.8,94 370.2,92.6 370.6,91.2 371,89.9 371.4,88.5 371.8,87.2 372.2,85.9 372.6,84.6 373,83.4 373.4,82.1 373.8,80.9 374.2,79.7 374.6,78.5 375,77.3 375.4,76.1 375.8,75 376.1,73.9 376.5,72.8 376.9,71.8 377.3,70.7 377.7,69.7 378.1,68.7 378.5,67.8 378.9,66.8 379.3,65.9 379.7,65 380.1,64.2 380.5,63.3 380.9,62.5 381.3,61.8 381.7,61 382.1,60.3 382.5,59.6 382.9,59 383.3,58.4 383.7,57.8 384.1,57.2 384.5,56.7 384.9,56.2 385.3,55.7 385.7,55.3 386.1,54.9 386.5,54.6 386.9,54.2 387.3,53.9 387.7,53.7 388.1,53.5 388.5,53.3 388.9,53.1 389.3,53 389.6,52.9 390,52.9 390.4,52.9 390.8,52.9 391.2,53 391.6,53.1 392,53.2 392.4,53.4 392.8,53.6 393.2,53.8 393.6,54.1 394,54.4 394.4,54.8 394.8,55.2 395.2,55.6 395.6,56.1 396,56.6 396.4,57.1 396.8,57.7 397.2,58.3 397.6,58.9 398,59.6 398.4,60.3 398.8,61.1 399.2,61.8 399.6,62.6 400,63.5 400.4,64.4 400.8,65.3 401.2,66.2 401.6,67.2 402,68.2 402.4,69.3 402.8,70.3 403.1,71.5 403.5,72.6 403.9,73.8 404.3,75 404.7,76.2 405.1,77.5 405.5,78.8 405.9,80.1 406.3,81.5 406.7,82.9 407.1,84.3 407.5,85.7 407.9,87.2 408.3,88.7 408.7,90.2 409.1,91.8 409.5,93.3 409.9,94.9 410.3,96.6 410.7,98.2 411.1,99.9 411.5,101.6 411.9,103.4 412.3,105.1 412.7,106.9 413.1,108.7 413.5,110.5 413.9,112.3 414.3,114.2 414.7,116.1 415.1,118 415.5,119.9 415.9,121.8 416.3,123.8 416.6,125.8 417,127.8 417.4,129.8 417.8,131.8 418.2,133.8 418.6,135.9 419,137.9 419.4,140 419.8,142.1 420.2,144.2 420.6,146.3 421,148.4 421.4,150.6 421.8,152.7 422.2,154.9 422.6,157.1 423,159.2 423.4,161.4 423.8,163.6 424.2,165.8 424.6,168 425,170.2 425.4,172.4 425.8,174.6 426.2,176.9 426.6,179.1 427,181.3 427.4,183.5 427.8,185.8 428.2,188 428.6,190.2 429,192.5 429.4,194.7 429.8,196.9 430.2,199.1 430.5,201.4 430.9,203.6 431.3,205.8 431.7,208 432.1,210.3 432.5,212.5 432.9,214.7 433.3,216.9 433.7,219.1 434.1,221.3 434.5,223.4 434.9,225.6 435.3,227.8 435.7,229.9 436.1,232.1 436.5,234.2 436.9,236.4 437.3,238.5 437.7,240.6 438.1,242.7 438.5,244.8 438.9,246.9 439.3,249 439.7,251 440.1,253.1 440.5,255.1 440.9,257.1 441.3,259.2 441.7,261.1 442.1,263.1 442.5,265.1 442.9,267.1 443.3,269 443.7,270.9 444,272.8 444.4,274.7 444.8,276.6 445.2,278.5 445.6,280.4 446,282.2 446.4,284 446.8,285.8 447.2,287.6 447.6,289.4 448,291.1 448.4,292.9 448.8,294.6 449.2,296.3 449.6,298 450,299.7 450.4,301.3 450.8,303 451.2,304.6 451.6,306.2 452,307.8 452.4,309.3 452.8,310.9 453.2,312.4 453.6,313.9 454,315.4 454.4,316.9 454.8,318.3 455.2,319.8 455.6,321.2 456,322.6 456.4,324 456.8,325.4 457.2,326.7 457.5,328.1 457.9,329.4 458.3,330.7 458.7,331.9 459.1,333.2 459.5,334.5 459.9,335.7 460.3,336.9 460.7,338.1 461.1,339.2 461.5,340.4 461.9,341.5 462.3,342.7 462.7,343.8 463.1,344.9 463.5,345.9 463.9,347 464.3,348 464.7,349 465.1,350 465.5,351 465.9,352 466.3,352.9 466.7,353.9 467.1,354.8 467.5,355.7 467.9,356.6 468.3,357.5 468.7,358.3 469.1,359.2 469.5,360 469.9,360.8 470.3,361.6 470.7,362.4 471,363.2 471.4,363.9 471.8,364.7 472.2,365.4 472.6,366.1 473,366.8 473.4,367.5 473.8,368.2 474.2,368.8 474.6,369.5 475,370.1 475.4,370.7 475.8,371.4 476.2,371.9 476.6,372.5 477,373.1 477.4,373.7 477.8,374.2 478.2,374.7 478.6,375.3 479,375.8 479.4,376.3 479.8,376.8 480.2,377.3 480.6,377.7 481,378.2 481.4,378.6 481.8,379.1 482.2,379.5 482.6,379.9 483,380.4 483.4,380.8 483.8,381.1 484.2,381.5 484.5,381.9 484.9,382.3 485.3,382.6 485.7,383 486.1,383.3 486.5,383.6 486.9,384 487.3,384.3 487.7,384.6 488.1,384.9 488.5,385.2 488.9,385.5 489.3,385.8 489.7,386 490.1,386.3 490.5,386.6 490.9,386.8 491.3,387 491.7,387.3 492.1,387.5 492.5,387.7 492.9,388 493.3,388.2 493.7,388.4 494.1,388.6 494.5,388.8 494.9,389 495.3,389.2 495.7,389.4 496.1,389.5 496.5,389.7 496.9,389.9 497.3,390 497.7,390.2 498.1,390.4 498.4,390.5 498.8,390.6 499.2,390.8 499.6,390.9 500,391.1 500.4,391.2 500.8,391.3 501.2,391.4 501.6,391.6 502,391.7 502.4,391.8 502.8,391.9 503.2,392 503.6,392.1 504,392.2 504.4,392.3 504.8,392.4 505.2,392.5 505.6,392.6 506,392.7 506.4,392.7 506.8,392.8 507.2,392.9 507.6,393 508,393 508.4,393.1 508.8,393.2 509.2,393.2 509.6,393.3 510,393.4 510.4,393.4 510.8,393.5 511.2,393.5 511.6,393.6 511.9,393.7 512.3,393.7 512.7,393.8 513.1,393.8 513.5,393.8 513.9,393.9 514.3,393.9 514.7,394 515.1,394 515.5,394.1 515.9,394.1 516.3,394.1 516.7,394.2 517.1,394.2 517.5,394.2 517.9,394.3 518.3,394.3 518.7,394.3 519.1,394.3 519.5,394.4 519.9,394.4 520.3,394.4 520.7,394.5 521.1,394.5 521.5,394.5 521.9,394.5 522.3,394.5 522.7,394.6 523.1,394.6 523.5,394.6 523.9,394.6 524.3,394.6 524.7,394.7 525.1,394.7 525.4,394.7 525.8,394.7 526.2,394.7 526.6,394.7 527,394.7 527.4,394.8 527.8,394.8 528.2,394.8 528.6,394.8 529,394.8 529.4,394.8 529.8,394.8 530.2,394.8 530.6,394.8 531,394.9 531.4,394.9 531.8,394.9 532.2,394.9 532.6,394.9 533,394.9 533.4,394.9 533.8,394.9 534.2,394.9 534.6,394.9 535,394.9 535.4,394.9 535.8,394.9 536.2,394.9 536.6,394.9 537,395 537.4,395 537.8,395 538.2,395 538.6,395 538.9,395 539.3,395 539.7,395 540.1,395 540.5,395 540.9,395 541.3,395 541.7,395 542.1,395 542.5,395 542.9,395 543.3,395 543.7,395 544.1,395 544.5,395 544.9,395 545.3,395 545.7,395 546.1,395 546.5,395 546.9,395 547.3,395 547.7,395 548.1,395 548.5,395 548.9,395 549.3,395 549.7,395 550.1,395 550.5,395 550.9,395 551.3,395 551.7,395 552.1,395 552.4,395 552.8,395 553.2,395 553.6,395 554,395 554.4,395 554.8,395.1 555.2,395.1 555.6,395.1 556,395.1 556.4,395.1 556.8,395.1 557.2,395.1 557.6,395.1 558,395.1 558.4,395.1 558.8,395.1 559.2,395.1 559.6,395.1 560,395.1 560.4,395.1 560.8,395.1 561.2,395.1 561.6,395.1 562,395.1 562.4,395.1 562.8,395.1 563.2,395.1 563.6,395.1 564,395.1 564.4,395.1 564.8,395.1 565.2,395.1 565.6,395.1 565.9,395.1 566.3,395.1 566.7,395.1 567.1,395.1 567.5,395.1 567.9,395.1 568.3,395.1 568.7,395.1 569.1,395.1 569.5,395.1 569.9,395.1 570.3,395.1 570.7,395.1 571.1,395.1 571.5,395.1 571.9,395.1 572.3,395.1 572.7,395.1 573.1,395.1 573.5,395.1 573.9,395.1 574.3,395.1 574.7,395.1 575.1,395.1 575.5,395.1 575.9,395.1 576.3,395.1 576.7,395.1 577.1,395.1 577.5,395.1 577.9,395.1 578.3,395.1 578.7,395.1 579.1,395.1 579.5,395.1 579.8,395.1 580.2,395.1 580.6,395.1 581,395.1 581.4,395.1 581.8,395.1 582.2,395.1 582.6,395.1 583,395.1 583.4,395.1 583.8,395.1 584.2,395.1 584.6,395.1 585,395.1 585.4,395.1 585.8,395.1 586.2,395.1 586.6,395.1 587,395.1 587.4,395.1 587.8,395.1 588.2,395.1 588.6,395.1 589,395.1 589.4,395.1 589.8,395.1 590.2,395.1 590.6,395.1 591,395.1 591.4,395.1 591.8,395.1 592.2,395.1 592.6,395.1 593,395.1 593.3,395.1 593.7,395.1 594.1,395.1 594.5,395.1 594.9,395.1 595.3,395.1 595.7,395.1 596.1,395.1 596.5,395.1 596.9,395.1 597.3,395.1 597.7,395.1 598.1,395.1 598.5,395.1 598.9,395.1 599.3,395.1 599.7,395.1 600.1,395.1 600.5,395.1 600.9,395.1 601.3,395.1 601.7,395.1 602.1,395.1 602.5,395.1 602.9,395.1 603.3,395.1 603.7,395.1 604.1,395.1 604.5,395.1 604.9,395.1 605.3,395.1 605.7,395.1 606.1,395.1 606.5,395.1 606.8,395.1 607.2,395.1 607.6,395.1 608,395.1 608.4,395.1 608.8,395.1 609.2,395.1 609.6,395.1 610,395.1 610.4,395.1 610.8,395.1 611.2,395.1 611.6,395.1 612,395.1 612.4,395.1 612.8,395.1 613.2,395.1 613.6,395.1 614,395.1 614.4,395.1 614.8,395.1 615.2,395.1 615.6,395.1 616,395.1 616.4,395.1 616.8,395.1 617.2,395.1 617.6,395.1 618,395.1 618.4,395.1 618.8,395.1 619.2,395.1 619.6,395.1 620,395.1 620.3,395.1 620.7,395.1 621.1,395.1 621.5,395.1 621.9,395.1 622.3,395.1 622.7,395.1 623.1,395.1 623.5,395.1 623.9,395.1 624.3,395.1 624.7,395.1 625.1,395.1 625.5,395.1 625.9,395.1 626.3,395.1 626.7,395.1 627.1,395.1 627.5,395.1 627.9,395.1 628.3,395.1 628.7,395.1 629.1,395.1 629.5,395.1 629.9,395.1 630.3,395.1 630.7,395.1 631.1,395.1 631.5,395.1 631.9,395.1 632.3,395.1 632.7,395.1 633.1,395.1 633.5,395.1 633.8,395.1 634.2,395.1 634.6,395.1 635,395.1 635.4,395.1 635.8,395.1 636.2,395.1 636.6,395.1 637,395.1 637.4,395.1 637.8,395.1 638.2,395.1 638.6,395.1 639,395.1 639.4,395.1 639.8,395.1 640.2,395.1 640.6,395.1" fill="none" stroke="#dc6bfb" stroke-width="3.4" stroke-linejoin="round" stroke-linecap="butt"/>
<text x="130.4" y="52.4" font-family='"Liberation Sans", Arial, Helvetica, sans-serif' font-size="35.6" font-weight="bold" font-style="normal" fill="#000" text-anchor="start">(a)</text>
<text x="584.6" y="40.4" font-family='"Liberation Sans", Arial, Helvetica, sans-serif' font-size="23.8" font-weight="bold" font-style="normal" fill="#000" text-anchor="start">O 1s</text>
<text x="470.3" y="51.9" font-family='"Liberation Sans", Arial, Helvetica, sans-serif' font-size="19.4" font-weight="normal" font-style="normal" fill="#0000ff" text-anchor="start">529,8 eV</text>
<path d="M450.3 46.2L409.6 65.1" stroke="#0000ff" stroke-width="2.1" fill="none"/>
<path d="M399.2 69.9L409.9 60.9L413 67.6Z" fill="#0000ff"/>
<text x="223" y="247.6" font-family='"Liberation Sans", Arial, Helvetica, sans-serif' font-size="19.7" font-weight="normal" font-style="normal" fill="#008000" text-anchor="start">531,07 eV</text>
<path d="M270.4 255.6L316.8 291.9" stroke="#008000" stroke-width="2.1" fill="none"/>
<path d="M325.9 299L313 293.6L317.5 287.8Z" fill="#008000"/>
<text x="182.6" y="324.5" font-family='"Liberation Sans", Arial, Helvetica, sans-serif' font-size="19.4" font-weight="normal" font-style="normal" fill="#ff0000" text-anchor="start">532,06 eV</text>
<path d="M235.9 335.8L263.4 356.7" stroke="#ff0000" stroke-width="2.1" fill="none"/>
<path d="M272.6 363.6L259.6 358.4L264.1 352.5Z" fill="#ff0000"/>
<text x="382.3" y="518.3" font-family='"Liberation Serif", "Times New Roman", Times, serif' font-size="27.6" font-weight="bold" font-style="italic" fill="#000" text-anchor="middle" stroke="#000" stroke-width="0.45">Binding energy (eV)</text>
<text transform="translate(37.7 218) rotate(-90)" font-family='"Liberation Serif", "Times New Roman", Times, serif' font-size="28.6" font-weight="bold" font-style="italic" text-anchor="middle" fill="#000" stroke="#000" stroke-width="0.45">Counts.s<tspan dy="-8.8">-1</tspan></text>
<path d="M118.6 571.4 H644.6 V1015 H644.6" fill="none" stroke="#000" stroke-width="1.85"/>
<path d="M127.1 571.4 V1006.5 H644.6" fill="none" stroke="#000" stroke-width="1.85"/>
<path d="M127.1 1006.5v8.5 M170.2 1006.5v8.5 M213.3 1006.5v8.5 M256.5 1006.5v8.5 M299.6 1006.5v8.5 M342.7 1006.5v8.5 M385.9 1006.5v8.5 M429 1006.5v8.5 M472.1 1006.5v8.5 M515.2 1006.5v8.5 M558.4 1006.5v8.5 M601.5 1006.5v8.5 M644.6 1006.5v8.5 M623 1006.5v4.5 M579.9 1006.5v4.5 M536.8 1006.5v4.5 M493.7 1006.5v4.5 M450.5 1006.5v4.5 M407.4 1006.5v4.5 M364.3 1006.5v4.5 M321.2 1006.5v4.5 M278 1006.5v4.5 M234.9 1006.5v4.5 M191.8 1006.5v4.5 M148.7 1006.5v4.5 M127.1 998.6h-8.5 M127.1 951.1h-8.5 M127.1 903.7h-8.5 M127.1 856.2h-8.5 M127.1 808.7h-8.5 M127.1 761.3h-8.5 M127.1 713.8h-8.5 M127.1 666.3h-8.5 M127.1 618.9h-8.5 M127.1 571.4h-8.5 M127.1 974.9h-4.5 M127.1 927.4h-4.5 M127.1 879.9h-4.5 M127.1 832.5h-4.5 M127.1 785h-4.5 M127.1 737.5h-4.5 M127.1 690.1h-4.5 M127.1 642.6h-4.5 M127.1 595.1h-4.5" fill="none" stroke="#000" stroke-width="1.85"/>
<g font-family='"Liberation Sans", Arial, Helvetica, sans-serif' font-weight="bold" font-size="17.8" fill="#000">
<text x="127.1" y="1035.4" text-anchor="middle">190</text>
<text x="170.2" y="1035.4" text-anchor="middle">189</text>
<text x="213.3" y="1035.4" text-anchor="middle">188</text>
<text x="256.5" y="1035.4" text-anchor="middle">187</text>
<text x="299.6" y="1035.4" text-anchor="middle">186</text>
<text x="342.7" y="1035.4" text-anchor="middle">185</text>
<text x="385.9" y="1035.4" text-anchor="middle">184</text>
<text x="429" y="1035.4" text-anchor="middle">183</text>
<text x="472.1" y="1035.4" text-anchor="middle">182</text>
<text x="515.2" y="1035.4" text-anchor="middle">181</text>
<text x="558.4" y="1035.4" text-anchor="middle">180</text>
<text x="601.5" y="1035.4" text-anchor="middle">179</text>
<text x="644.6" y="1035.4" text-anchor="middle">178</text>
<text x="113.6" y="1004" text-anchor="end">3000</text>
<text x="113.6" y="956.5" text-anchor="end">6000</text>
<text x="113.6" y="909.1" text-anchor="end">9000</text>
<text x="113.6" y="861.6" text-anchor="end">12000</text>
<text x="113.6" y="814.1" text-anchor="end">15000</text>
<text x="113.6" y="766.7" text-anchor="end">18000</text>
<text x="113.6" y="719.2" text-anchor="end">21000</text>
<text x="113.6" y="671.7" text-anchor="end">24000</text>
<text x="113.6" y="624.3" text-anchor="end">27000</text>
<text x="113.6" y="576.8" text-anchor="end">30000</text>
</g>
<polyline points="127.1,941.9 127.6,942.1 128,940.9 128.5,941 129,941.5 129.5,941.5 129.9,940.8 130.4,941.2 130.9,941.6 131.3,942.7 131.8,943 132.3,943.1 132.8,944.1 133.2,943.4 133.7,943.8 134.2,943.8 134.6,943.6 135.1,944.9 135.6,943.7 136,943.8 136.5,943.5 137,943.6 137.5,945.1 137.9,945.4 138.4,944 138.9,944.1 139.3,943.5 139.8,944.3 140.3,945.3 140.8,944.4 141.2,944.7 141.7,944.5 142.2,943.1 142.6,943.7 143.1,943.5 143.6,943.9 144.1,943.5 144.5,944.1 145,943.6 145.5,945.3 145.9,944.7 146.4,943.7 146.9,944.3 147.3,945 147.8,944.6 148.3,945.1 148.8,945.3 149.2,944.3 149.7,945.4 150.2,944.9 150.6,944.4 151.1,943.1 151.6,943.7 152.1,943.5 152.5,944.7 153,944.1 153.5,943.2 153.9,944.9 154.4,944.9 154.9,944.6 155.4,944.4 155.8,944.1 156.3,945 156.8,944.6 157.2,945.3 157.7,945.3 158.2,944.4 158.6,945 159.1,944.5 159.6,943.9 160.1,944.9 160.5,944.3 161,945.1 161.5,945.2 161.9,945.5 162.4,945.3 162.9,946 163.4,945.4 163.8,945.6 164.3,945.8 164.8,945.7 165.2,945.1 165.7,944.2 166.2,944.4 166.7,943.5 167.1,944 167.6,944 168.1,943.5 168.5,944.3 169,942.9 169.5,944.3 170,944.4 170.4,944.8 170.9,943.7 171.4,945.2 171.8,944.6 172.3,944.1 172.8,944.8 173.2,944.2 173.7,944.1 174.2,945.2 174.7,944.1 175.1,944.3 175.6,944.7 176.1,944.8 176.5,945 177,943.8 177.5,944.8 178,943.8 178.4,946 178.9,945.8 179.4,946.5 179.8,945.8 180.3,944.8 180.8,945 181.3,945.8 181.7,944.1 182.2,945 182.7,944.2 183.1,943.6 183.6,943.6 184.1,944.8 184.5,943.1 185,943.6 185.5,944.7 186,944.9 186.4,944.8 186.9,944.6 187.4,943.4 187.8,943.9 188.3,944.1 188.8,944 189.3,942.6 189.7,943.3 190.2,943.9 190.7,943.3 191.1,944.3 191.6,945.2 192.1,945.8 192.6,946.5 193,946.7 193.5,946.2 194,945.8 194.4,945.7 194.9,945 195.4,944.3 195.8,944.1 196.3,943.8 196.8,943.8 197.3,943.3 197.7,943.3 198.2,943.6 198.7,943.9 199.1,944.8 199.6,944.3 200.1,944.3 200.6,944.3 201,944.3 201.5,943.5 202,943.1 202.4,942.9 202.9,942.4 203.4,941.7 203.9,942.7 204.3,941.8 204.8,942.1 205.3,941.9 205.7,943.2 206.2,942.4 206.7,943 207.2,942.6 207.6,942.5 208.1,941.6 208.6,941.8 209,942.5 209.5,941.8 210,942.5 210.4,942.2 210.9,942.1 211.4,941.6 211.9,942 212.3,942.9 212.8,941.4 213.3,941.2 213.7,940.4 214.2,942.7 214.7,941.5 215.2,942.4 215.6,942 216.1,941.5 216.6,940.7 217,941.9 217.5,942.1 218,941.2 218.5,940.8 218.9,940.5 219.4,941.9 219.9,941.5 220.3,941.1 220.8,941.1 221.3,941.2 221.7,940.5 222.2,940.2 222.7,941.6 223.2,942.5 223.6,941.3 224.1,941.1 224.6,940.7 225,940.1 225.5,939.4 226,939.2 226.5,938.5 226.9,938.8 227.4,938.7 227.9,938.5 228.3,936.7 228.8,937.7 229.3,938.5 229.8,939.1 230.2,938.8 230.7,939.7 231.2,938.2 231.6,938 232.1,937.3 232.6,937.5 233,937.5 233.5,937.8 234,937.2 234.5,935.3 234.9,935.9 235.4,935 235.9,935.6 236.3,934.7 236.8,935.2 237.3,934.2 237.8,935 238.2,935 238.7,933.7 239.2,933.1 239.6,933.7 240.1,932.5 240.6,932.7 241.1,932.8 241.5,933.4 242,932.3 242.5,932 242.9,932.4 243.4,932.8 243.9,932.9 244.3,932.6 244.8,933.2 245.3,931 245.8,931.6 246.2,931.3 246.7,930 247.2,929.3 247.6,929.4 248.1,928.5 248.6,928.4 249.1,927.7 249.5,928.7 250,927.1 250.5,928.2 250.9,926.7 251.4,926.6 251.9,926.7 252.4,926.1 252.8,925.2 253.3,924.1 253.8,923.1 254.2,923.6 254.7,922 255.2,923 255.7,922.1 256.1,921.7 256.6,921.7 257.1,921.5 257.5,921.1 258,920.2 258.5,920 258.9,919.1 259.4,918.5 259.9,917.2 260.4,918.2 260.8,916.7 261.3,914.8 261.8,916.6 262.2,915 262.7,913.8 263.2,914.7 263.7,911.8 264.1,913.7 264.6,911.3 265.1,910.4 265.5,910.6 266,910.8 266.5,910 267,909.7 267.4,908.3 267.9,908.6 268.4,907.1 268.8,906.1 269.3,906 269.8,905.1 270.2,904.3 270.7,904.3 271.2,902.2 271.7,902.3 272.1,903 272.6,901 273.1,900.4 273.5,899.1 274,897.4 274.5,896.5 275,894.6 275.4,894.1 275.9,892 276.4,891.9 276.8,890.8 277.3,890.7 277.8,889.9 278.3,889.7 278.7,887.8 279.2,886.3 279.7,884 280.1,883 280.6,882.2 281.1,881.6 281.5,880.5 282,879.4 282.5,877.1 283,876.5 283.4,876.6 283.9,874.6 284.4,872.5 284.8,871.8 285.3,870.4 285.8,868.8 286.3,868.6 286.7,866.6 287.2,864.9 287.7,865.1 288.1,861.6 288.6,861.4 289.1,859.4 289.6,857.8 290,855.8 290.5,855.5 291,854.1 291.4,853.9 291.9,851.5 292.4,851.8 292.9,849.2 293.3,846.8 293.8,845 294.3,842.4 294.7,842.6 295.2,841.1 295.7,840.6 296.1,838.3 296.6,836.8 297.1,835.7 297.6,835.8 298,833.5 298.5,831.9 299,830.5 299.4,829.5 299.9,829.7 300.4,828 300.9,824.5 301.3,825.2 301.8,823.6 302.3,820.2 302.7,818.7 303.2,817.4 303.7,815.9 304.2,814.3 304.6,811.7 305.1,809.6 305.6,808.3 306,806.2 306.5,804.4 307,804.8 307.4,801.3 307.9,800.2 308.4,799.7 308.9,798 309.3,796.7 309.8,796.1 310.3,795.9 310.7,793.1 311.2,789.8 311.7,789.6 312.2,788.2 312.6,784.9 313.1,782.5 313.6,781.8 314,781.2 314.5,778.6 315,779 315.5,777.4 315.9,774.8 316.4,773.6 316.9,771.9 317.3,770.4 317.8,769.4 318.3,768 318.7,767 319.2,765.5 319.7,766 320.2,764.5 320.6,762.1 321.1,761.2 321.6,759.4 322,757 322.5,756.2 323,754.7 323.5,751.7 323.9,753.2 324.4,748 324.9,747.1 325.3,747.2 325.8,746.8 326.3,745.3 326.8,743.5 327.2,745.4 327.7,742.6 328.2,743.2 328.6,740.8 329.1,740.8 329.6,738.6 330.1,738.6 330.5,736.9 331,736.8 331.5,736.2 331.9,733.5 332.4,732.7 332.9,732.2 333.3,730.2 333.8,730.3 334.3,730.2 334.8,727.2 335.2,727.5 335.7,727 336.2,727.2 336.6,726.7 337.1,725.4 337.6,725.3 338.1,724.4 338.5,721.6 339,724.5 339.5,721 339.9,719.6 340.4,720 340.9,718.3 341.4,715.8 341.8,717.2 342.3,713.7 342.8,714.4 343.2,714.3 343.7,712.7 344.2,711 344.6,710.3 345.1,709.7 345.6,708.9 346.1,708.9 346.5,707.1 347,706 347.5,707.2 347.9,707.6 348.4,706.7 348.9,705.8 349.4,705.2 349.8,705.3 350.3,703.7 350.8,704 351.2,702.6 351.7,702.7 352.2,700.8 352.7,703.2 353.1,699.7 353.6,701.9 354.1,703.6 354.5,704.5 355,706.5 355.5,704.1 355.9,703.5 356.4,702.6 356.9,706.4 357.4,702.7 357.8,704.4 358.3,702.5 358.8,705.4 359.2,703.1 359.7,704.7 360.2,702.9 360.7,703.3 361.1,704.5 361.6,703.8 362.1,705.3 362.5,707.2 363,707.6 363.5,706.7 364,708.4 364.4,710.1 364.9,711.1 365.4,708 365.8,708.4 366.3,708.2 366.8,708.7 367.3,710.4 367.7,711.5 368.2,711.7 368.7,712.8 369.1,711.4 369.6,713.8 370.1,715.5 370.5,716.2 371,715.2 371.5,714.6 372,717.1 372.4,718.3 372.9,719.2 373.4,720.4 373.8,720.8 374.3,719.2 374.8,721.1 375.3,718.7 375.7,719.9 376.2,719.8 376.7,717.9 377.1,719 377.6,721.2 378.1,722.1 378.6,721.1 379,721.1 379.5,722.6 380,722 380.4,723.1 380.9,722.9 381.4,722.9 381.8,722.2 382.3,721.5 382.8,722.4 383.3,722.8 383.7,722.1 384.2,722.8 384.7,723.8 385.1,722.4 385.6,721.7 386.1,721.6 386.6,719.1 387,720.3 387.5,719.8 388,719.3 388.4,719.2 388.9,720.9 389.4,720 389.9,719.5 390.3,720.1 390.8,717.8 391.3,717.2 391.7,717.5 392.2,715.2 392.7,716.6 393.1,716.1 393.6,716 394.1,716.7 394.6,716.5 395,715.7 395.5,714 396,714.1 396.4,714.4 396.9,714.5 397.4,715 397.9,713.5 398.3,712.3 398.8,710.2 399.3,709.9 399.7,708.6 400.2,708.2 400.7,708.1 401.2,707.6 401.6,706.6 402.1,705.5 402.6,704.2 403,705.1 403.5,702.3 404,699.6 404.4,699.9 404.9,698.5 405.4,697.8 405.9,697.9 406.3,694.6 406.8,694.8 407.3,693.8 407.7,691 408.2,689.2 408.7,691.7 409.2,689.6 409.6,688.8 410.1,688.1 410.6,686.1 411,685.8 411.5,684 412,683.7 412.5,682.8 412.9,680.3 413.4,678.5 413.9,676.8 414.3,676 414.8,673.1 415.3,673.4 415.8,672.7 416.2,671.9 416.7,670 417.2,670.5 417.6,669 418.1,668 418.6,668.8 419,664.3 419.5,662.5 420,662.6 420.5,663 420.9,660.3 421.4,661.3 421.9,660.2 422.3,658.8 422.8,657.7 423.3,655.6 423.8,653.8 424.2,653.7 424.7,653.7 425.2,652.1 425.6,650.7 426.1,649.8 426.6,649.1 427.1,645.6 427.5,643.7 428,642.6 428.5,640.5 428.9,640.2 429.4,640.1 429.9,637.5 430.3,634.9 430.8,634.1 431.3,634.2 431.8,631.4 432.2,631.6 432.7,628.7 433.2,629.7 433.6,629.5 434.1,627.9 434.6,629.7 435.1,628 435.5,628.5 436,626.6 436.5,626.3 436.9,626.2 437.4,626.6 437.9,625.3 438.4,626.6 438.8,627.7 439.3,624.6 439.8,622.9 440.2,623.3 440.7,623.1 441.2,620.9 441.6,618.8 442.1,618 442.6,616.5 443.1,619.7 443.5,617.3 444,618.5 444.5,617.1 444.9,618.4 445.4,616.6 445.9,619.7 446.4,620.2 446.8,620.2 447.3,620.4 447.8,621.6 448.2,618.8 448.7,618.8 449.2,620.9 449.7,621.5 450.1,621.4 450.6,621.5 451.1,619.4 451.5,620.3 452,622.4 452.5,624.1 453,625.4 453.4,624.5 453.9,624 454.4,623.9 454.8,624.7 455.3,626.8 455.8,625.9 456.2,624.3 456.7,627.4 457.2,628.8 457.7,629.7 458.1,631.2 458.6,633.1 459.1,632.7 459.5,632.9 460,638.6 460.5,639.1 461,640 461.4,640.7 461.9,641 462.4,641.4 462.8,642.9 463.3,645.8 463.8,645.9 464.3,646.7 464.7,648.1 465.2,651 465.7,651.2 466.1,653.5 466.6,654.2 467.1,656.7 467.5,658.6 468,660.8 468.5,662.5 469,662.2 469.4,666.5 469.9,669.4 470.4,670.4 470.8,671.4 471.3,676.5 471.8,674.2 472.3,678.2 472.7,681.6 473.2,681.8 473.7,685.3 474.1,688.2 474.6,687.3 475.1,693.1 475.6,695.9 476,697.8 476.5,702.4 477,705.7 477.4,707.1 477.9,708.1 478.4,714.7 478.8,716.3 479.3,718.5 479.8,722 480.3,725 480.7,724.1 481.2,727.1 481.7,728.6 482.1,731.2 482.6,733.7 483.1,736.9 483.6,738.7 484,742.6 484.5,745.6 485,748.3 485.4,752.1 485.9,754.3 486.4,757.4 486.9,758.3 487.3,761.3 487.8,765.9 488.3,768.3 488.7,771.2 489.2,772 489.7,774.4 490.2,777.5 490.6,779.7 491.1,781.1 491.6,785.2 492,786.1 492.5,790.2 493,792.8 493.4,795.8 493.9,797.8 494.4,800.8 494.9,802.4 495.3,806.4 495.8,807.9 496.3,809.7 496.7,810.9 497.2,812.8 497.7,814.3 498.2,819.5 498.6,821.1 499.1,823.4 499.6,823.5 500,829 500.5,831 501,834.1 501.5,834.9 501.9,838.6 502.4,838.8 502.9,840.8 503.3,844.1 503.8,844.3 504.3,845.9 504.7,848.9 505.2,850.4 505.7,852.8 506.2,855.3 506.6,857.5 507.1,858.9 507.6,860.4 508,863.8 508.5,864.9 509,866.6 509.5,869 509.9,870.1 510.4,874 510.9,875.4 511.3,876.9 511.8,878.2 512.3,878.9 512.8,882.7 513.2,882.6 513.7,882.7 514.2,885.8 514.6,887.7 515.1,888.6 515.6,890.3 516,893.7 516.5,895.6 517,895.6 517.5,897.5 517.9,899.8 518.4,902.7 518.9,902 519.3,903.3 519.8,903.4 520.3,905.9 520.8,907.2 521.2,907.6 521.7,908.1 522.2,908.4 522.6,912 523.1,913.3 523.6,913 524.1,915.1 524.5,917 525,918.1 525.5,919.2 525.9,920.2 526.4,920.4 526.9,920.8 527.4,922.6 527.8,922.7 528.3,924.2 528.8,924.5 529.2,925.2 529.7,924.9 530.2,926.8 530.6,927.7 531.1,928.3 531.6,929.7 532.1,930.6 532.5,931.9 533,932 533.5,933.9 533.9,934.9 534.4,936.3 534.9,935.9 535.4,936.6 535.8,937.8 536.3,938.9 536.8,939.7 537.2,939.1 537.7,939.5 538.2,939.7 538.7,941.2 539.1,940.9 539.6,942.4 540.1,942.9 540.5,943.7 541,944.9 541.5,945.6 541.9,947.6 542.4,947.9 542.9,949.1 543.4,947.6 543.8,948.2 544.3,948.3 544.8,949.2 545.2,950 545.7,949.4 546.2,949.9 546.7,949.9 547.1,950.6 547.6,951.4 548.1,951.1 548.5,950.8 549,951.7 549.5,951.5 550,951.3 550.4,952 550.9,952.8 551.4,954.2 551.8,953.9 552.3,954.5 552.8,955.4 553.2,954.5 553.7,954.4 554.2,955.9 554.7,956.1 555.1,956.2 555.6,955.7 556.1,957.8 556.5,957.3 557,956.4 557.5,958.5 558,957.9 558.4,958.7 558.9,960.3 559.4,960 559.8,959.7 560.3,961.4 560.8,961.3 561.3,961 561.7,961.6 562.2,962.8 562.7,962.2 563.1,962.8 563.6,962 564.1,962.5 564.5,962.7 565,962.9 565.5,963 566,962.8 566.4,963 566.9,963.9 567.4,962.9 567.8,962.6 568.3,962.7 568.8,963.8 569.3,964.8 569.7,963.9 570.2,964.4 570.7,964.5 571.1,964.7 571.6,963.8 572.1,963.3 572.6,964 573,964.3 573.5,964.8 574,965 574.4,965 574.9,965.9 575.4,967.7 575.9,967.2 576.3,966.3 576.8,966.8 577.3,966.8 577.7,967.7 578.2,968.1 578.7,968.7 579.1,968 579.6,967.5 580.1,968.4 580.6,968.3 581,968.2 581.5,968.7 582,968.5 582.4,968.1 582.9,967.8 583.4,968.2 583.9,968.5 584.3,968.2 584.8,968.4 585.3,968.2 585.7,968.8 586.2,968.3 586.7,969.9 587.2,969.2 587.6,967.8 588.1,969.7 588.6,970 589,969 589.5,968.4 590,969.4 590.4,969.1 590.9,969.1 591.4,969.9 591.9,968.1 592.3,970.7 592.8,971.5 593.3,971.9 593.7,971.8 594.2,972.4 594.7,972.8 595.2,972.7 595.6,973.4 596.1,972.3 596.6,972.8 597,972.3 597.5,973.2 598,973.2 598.5,972.9 598.9,972.6 599.4,973.3 599.9,972.7 600.3,972.8 600.8,973.8 601.3,973 601.7,972.8 602.2,972.4 602.7,974.7 603.2,974.3 603.6,974.7 604.1,973.7 604.6,973.3 605,974.5 605.5,974.1 606,974.3 606.5,972.9 606.9,973.2 607.4,974 607.9,975.7 608.3,975.2 608.8,973.6 609.3,974.4 609.8,974.9 610.2,974.1 610.7,975 611.2,973.6 611.6,973.5 612.1,973.4 612.6,973.9 613.1,972.9 613.5,973.4 614,972.9 614.5,972.8 614.9,973.2 615.4,973.8 615.9,973.6 616.3,976 616.8,974.3 617.3,974.6 617.8,974.5 618.2,974.6 618.7,974.6 619.2,973.7 619.6,973.5 620.1,972.8 620.6,974.2 621.1,973.9 621.5,972.5 622,974.1 622.5,973 622.9,974.5 623.4,974.9 623.9,973.9 624.4,972.9 624.8,975.5 625.3,974 625.8,974.6 626.2,973.9 626.7,974.6 627.2,975.4 627.6,974.5 628.1,974.7 628.6,974.1 629.1,974.2 629.5,974.9 630,974.8 630.5,974.8 630.9,974.2 631.4,974.4 631.9,974.1 632.4,974.8 632.8,974.2 633.3,974 633.8,973 634.2,973.4 634.7,975 635.2,974.7 635.7,975.6 636.1,975.7 636.6,976.2 637.1,974.2 637.5,974.5 638,976.2 638.5,974.7 638.9,973.9 639.4,974.2 639.9,973.9 640.4,974.3 640.8,975.1 641.3,975.3 641.8,974.5 642.2,975.8 642.7,975.7 643.2,975 643.7,976.8 644.1,976.1 644.6,976.2" fill="none" stroke="#000" stroke-width="2.6" stroke-linejoin="round" stroke-linecap="butt"/>
<polyline points="127.1,955 127.6,955 128,955 128.5,955 129,955 129.5,955 129.9,954.9 130.4,954.9 130.9,954.9 131.3,954.9 131.8,954.9 132.3,954.9 132.8,954.9 133.2,954.9 133.7,954.9 134.2,954.9 134.6,954.9 135.1,954.9 135.6,954.9 136,954.9 136.5,954.9 137,954.9 137.5,954.9 137.9,954.9 138.4,954.9 138.9,954.9 139.3,954.9 139.8,954.9 140.3,954.9 140.8,954.9 141.2,954.9 141.7,954.9 142.2,954.9 142.6,954.9 143.1,954.9 143.6,954.9 144.1,954.9 144.5,954.9 145,954.9 145.5,954.9 145.9,954.9 146.4,954.9 146.9,954.9 147.3,954.9 147.8,954.8 148.3,954.8 148.8,954.8 149.2,954.8 149.7,954.8 150.2,954.8 150.6,954.8 151.1,954.8 151.6,954.8 152.1,954.8 152.5,954.8 153,954.8 153.5,954.8 153.9,954.8 154.4,954.8 154.9,954.8 155.4,954.8 155.8,954.8 156.3,954.7 156.8,954.7 157.2,954.7 157.7,954.7 158.2,954.7 158.6,954.7 159.1,954.7 159.6,954.7 160.1,954.7 160.5,954.7 161,954.7 161.5,954.7 161.9,954.7 162.4,954.6 162.9,954.6 163.4,954.6 163.8,954.6 164.3,954.6 164.8,954.6 165.2,954.6 165.7,954.6 166.2,954.6 166.7,954.6 167.1,954.5 167.6,954.5 168.1,954.5 168.5,954.5 169,954.5 169.5,954.5 170,954.5 170.4,954.4 170.9,954.4 171.4,954.4 171.8,954.4 172.3,954.4 172.8,954.4 173.2,954.4 173.7,954.3 174.2,954.3 174.7,954.3 175.1,954.3 175.6,954.3 176.1,954.3 176.5,954.2 177,954.2 177.5,954.2 178,954.2 178.4,954.2 178.9,954.1 179.4,954.1 179.8,954.1 180.3,954.1 180.8,954 181.3,954 181.7,954 182.2,954 182.7,954 183.1,953.9 183.6,953.9 184.1,953.9 184.5,953.8 185,953.8 185.5,953.8 186,953.8 186.4,953.7 186.9,953.7 187.4,953.7 187.8,953.6 188.3,953.6 188.8,953.6 189.3,953.5 189.7,953.5 190.2,953.5 190.7,953.4 191.1,953.4 191.6,953.4 192.1,953.3 192.6,953.3 193,953.2 193.5,953.2 194,953.1 194.4,953.1 194.9,953.1 195.4,953 195.8,953 196.3,952.9 196.8,952.9 197.3,952.8 197.7,952.8 198.2,952.7 198.7,952.7 199.1,952.6 199.6,952.6 200.1,952.5 200.6,952.4 201,952.4 201.5,952.3 202,952.3 202.4,952.2 202.9,952.1 203.4,952.1 203.9,952 204.3,951.9 204.8,951.9 205.3,951.8 205.7,951.7 206.2,951.6 206.7,951.6 207.2,951.5 207.6,951.4 208.1,951.3 208.6,951.3 209,951.2 209.5,951.1 210,951 210.4,950.9 210.9,950.8 211.4,950.7 211.9,950.6 212.3,950.5 212.8,950.4 213.3,950.3 213.7,950.2 214.2,950.1 214.7,950 215.2,949.9 215.6,949.8 216.1,949.7 216.6,949.6 217,949.4 217.5,949.3 218,949.2 218.5,949.1 218.9,948.9 219.4,948.8 219.9,948.7 220.3,948.5 220.8,948.4 221.3,948.2 221.7,948.1 222.2,947.9 222.7,947.8 223.2,947.6 223.6,947.5 224.1,947.3 224.6,947.1 225,947 225.5,946.8 226,946.6 226.5,946.4 226.9,946.3 227.4,946.1 227.9,945.9 228.3,945.7 228.8,945.5 229.3,945.3 229.8,945.1 230.2,944.9 230.7,944.7 231.2,944.4 231.6,944.2 232.1,944 232.6,943.8 233,943.5 233.5,943.3 234,943 234.5,942.8 234.9,942.5 235.4,942.3 235.9,942 236.3,941.7 236.8,941.5 237.3,941.2 237.8,940.9 238.2,940.6 238.7,940.3 239.2,940 239.6,939.7 240.1,939.4 240.6,939.1 241.1,938.7 241.5,938.4 242,938.1 242.5,937.7 242.9,937.4 243.4,937 243.9,936.7 244.3,936.3 244.8,935.9 245.3,935.5 245.8,935.2 246.2,934.8 246.7,934.4 247.2,933.9 247.6,933.5 248.1,933.1 248.6,932.7 249.1,932.2 249.5,931.8 250,931.3 250.5,930.9 250.9,930.4 251.4,929.9 251.9,929.4 252.4,928.9 252.8,928.4 253.3,927.9 253.8,927.4 254.2,926.9 254.7,926.4 255.2,925.8 255.7,925.3 256.1,924.7 256.6,924.1 257.1,923.5 257.5,923 258,922.4 258.5,921.7 258.9,921.1 259.4,920.5 259.9,919.9 260.4,919.2 260.8,918.6 261.3,917.9 261.8,917.2 262.2,916.5 262.7,915.9 263.2,915.1 263.7,914.4 264.1,913.7 264.6,913 265.1,912.2 265.5,911.5 266,910.7 266.5,909.9 267,909.1 267.4,908.3 267.9,907.5 268.4,906.7 268.8,905.9 269.3,905 269.8,904.2 270.2,903.3 270.7,902.5 271.2,901.6 271.7,900.7 272.1,899.8 272.6,898.9 273.1,897.9 273.5,897 274,896 274.5,895.1 275,894.1 275.4,893.1 275.9,892.1 276.4,891.1 276.8,890.1 277.3,889.1 277.8,888 278.3,887 278.7,885.9 279.2,884.8 279.7,883.8 280.1,882.7 280.6,881.6 281.1,880.4 281.5,879.3 282,878.2 282.5,877 283,875.9 283.4,874.7 283.9,873.5 284.4,872.3 284.8,871.1 285.3,869.9 285.8,868.7 286.3,867.5 286.7,866.2 287.2,865 287.7,863.7 288.1,862.4 288.6,861.2 289.1,859.9 289.6,858.6 290,857.3 290.5,856 291,854.6 291.4,853.3 291.9,852 292.4,850.6 292.9,849.3 293.3,847.9 293.8,846.5 294.3,845.1 294.7,843.8 295.2,842.4 295.7,841 296.1,839.6 296.6,838.1 297.1,836.7 297.6,835.3 298,833.9 298.5,832.4 299,831 299.4,829.5 299.9,828.1 300.4,826.6 300.9,825.2 301.3,823.7 301.8,822.2 302.3,820.8 302.7,819.3 303.2,817.8 303.7,816.3 304.2,814.9 304.6,813.4 305.1,811.9 305.6,810.4 306,808.9 306.5,807.5 307,806 307.4,804.5 307.9,803 308.4,801.5 308.9,800 309.3,798.6 309.8,797.1 310.3,795.6 310.7,794.1 311.2,792.7 311.7,791.2 312.2,789.7 312.6,788.3 313.1,786.8 313.6,785.4 314,783.9 314.5,782.5 315,781 315.5,779.6 315.9,778.2 316.4,776.8 316.9,775.4 317.3,774 317.8,772.6 318.3,771.2 318.7,769.8 319.2,768.5 319.7,767.1 320.2,765.8 320.6,764.5 321.1,763.1 321.6,761.8 322,760.5 322.5,759.3 323,758 323.5,756.7 323.9,755.5 324.4,754.2 324.9,753 325.3,751.8 325.8,750.6 326.3,749.5 326.8,748.3 327.2,747.2 327.7,746.1 328.2,744.9 328.6,743.9 329.1,742.8 329.6,741.7 330.1,740.7 330.5,739.7 331,738.7 331.5,737.7 331.9,736.7 332.4,735.8 332.9,734.9 333.3,734 333.8,733.1 334.3,732.2 334.8,731.4 335.2,730.6 335.7,729.8 336.2,729 336.6,728.3 337.1,727.5 337.6,726.8 338.1,726.1 338.5,725.5 339,724.9 339.5,724.2 339.9,723.7 340.4,723.1 340.9,722.6 341.4,722 341.8,721.6 342.3,721.1 342.8,720.6 343.2,720.2 343.7,719.8 344.2,719.5 344.6,719.1 345.1,718.8 345.6,718.5 346.1,718.3 346.5,718.1 347,717.8 347.5,717.7 347.9,717.5 348.4,717.4 348.9,717.3 349.4,717.2 349.8,717.1 350.3,717.1 350.8,717.1 351.2,717.2 351.7,717.2 352.2,717.3 352.7,717.4 353.1,717.5 353.6,717.7 354.1,717.9 354.5,718.1 355,718.4 355.5,718.6 355.9,718.9 356.4,719.3 356.9,719.6 357.4,720 357.8,720.4 358.3,720.9 358.8,721.3 359.2,721.8 359.7,722.3 360.2,722.8 360.7,723.4 361.1,724 361.6,724.6 362.1,725.2 362.5,725.9 363,726.6 363.5,727.3 364,728 364.4,728.8 364.9,729.6 365.4,730.4 365.8,731.2 366.3,732 366.8,732.9 367.3,733.8 367.7,734.7 368.2,735.7 368.7,736.6 369.1,737.6 369.6,738.6 370.1,739.6 370.5,740.6 371,741.7 371.5,742.8 372,743.9 372.4,745 372.9,746.1 373.4,747.3 373.8,748.4 374.3,749.6 374.8,750.8 375.3,752 375.7,753.3 376.2,754.5 376.7,755.8 377.1,757.1 377.6,758.4 378.1,759.7 378.6,761 379,762.3 379.5,763.7 380,765 380.4,766.4 380.9,767.8 381.4,769.2 381.8,770.6 382.3,772 382.8,773.4 383.3,774.9 383.7,776.3 384.2,777.7 384.7,779.2 385.1,780.7 385.6,782.2 386.1,783.6 386.6,785.1 387,786.6 387.5,788.1 388,789.6 388.4,791.1 388.9,792.7 389.4,794.2 389.9,795.7 390.3,797.2 390.8,798.8 391.3,800.3 391.7,801.9 392.2,803.4 392.7,804.9 393.1,806.5 393.6,808 394.1,809.6 394.6,811.1 395,812.7 395.5,814.2 396,815.8 396.4,817.3 396.9,818.8 397.4,820.4 397.9,821.9 398.3,823.4 398.8,825 399.3,826.5 399.7,828 400.2,829.6 400.7,831.1 401.2,832.6 401.6,834.1 402.1,835.6 402.6,837.1 403,838.6 403.5,840.1 404,841.6 404.4,843 404.9,844.5 405.4,846 405.9,847.4 406.3,848.9 406.8,850.3 407.3,851.8 407.7,853.2 408.2,854.6 408.7,856 409.2,857.4 409.6,858.8 410.1,860.2 410.6,861.6 411,862.9 411.5,864.3 412,865.6 412.5,866.9 412.9,868.3 413.4,869.6 413.9,870.9 414.3,872.2 414.8,873.5 415.3,874.7 415.8,876 416.2,877.3 416.7,878.5 417.2,879.7 417.6,880.9 418.1,882.2 418.6,883.3 419,884.5 419.5,885.7 420,886.9 420.5,888 420.9,889.1 421.4,890.3 421.9,891.4 422.3,892.5 422.8,893.6 423.3,894.7 423.8,895.7 424.2,896.8 424.7,897.8 425.2,898.8 425.6,899.9 426.1,900.9 426.6,901.8 427.1,902.8 427.5,903.8 428,904.8 428.5,905.7 428.9,906.6 429.4,907.5 429.9,908.5 430.3,909.3 430.8,910.2 431.3,911.1 431.8,912 432.2,912.8 432.7,913.6 433.2,914.5 433.6,915.3 434.1,916.1 434.6,916.9 435.1,917.6 435.5,918.4 436,919.2 436.5,919.9 436.9,920.6 437.4,921.3 437.9,922.1 438.4,922.7 438.8,923.4 439.3,924.1 439.8,924.8 440.2,925.4 440.7,926.1 441.2,926.7 441.6,927.3 442.1,927.9 442.6,928.5 443.1,929.1 443.5,929.7 444,930.3 444.5,930.8 444.9,931.4 445.4,931.9 445.9,932.4 446.4,933 446.8,933.5 447.3,934 447.8,934.5 448.2,934.9 448.7,935.4 449.2,935.9 449.7,936.3 450.1,936.8 450.6,937.2 451.1,937.7 451.5,938.1 452,938.5 452.5,938.9 453,939.3 453.4,939.7 453.9,940.1 454.4,940.4 454.8,940.8 455.3,941.2 455.8,941.5 456.2,941.8 456.7,942.2 457.2,942.5 457.7,942.8 458.1,943.1 458.6,943.5 459.1,943.8 459.5,944 460,944.3 460.5,944.6 461,944.9 461.4,945.2 461.9,945.4 462.4,945.7 462.8,945.9 463.3,946.2 463.8,946.4 464.3,946.7 464.7,946.9 465.2,947.1 465.7,947.3 466.1,947.5 466.6,947.7 467.1,947.9 467.5,948.1 468,948.3 468.5,948.5 469,948.7 469.4,948.9 469.9,949.1 470.4,949.2 470.8,949.4 471.3,949.6 471.8,949.7 472.3,949.9 472.7,950 473.2,950.2 473.7,950.3 474.1,950.5 474.6,950.6 475.1,950.7 475.6,950.8 476,951 476.5,951.1 477,951.2 477.4,951.3 477.9,951.4 478.4,951.5 478.8,951.7 479.3,951.8 479.8,951.9 480.3,952 480.7,952.1 481.2,952.1 481.7,952.2 482.1,952.3 482.6,952.4 483.1,952.5 483.6,952.6 484,952.6 484.5,952.7 485,952.8 485.4,952.9 485.9,952.9 486.4,953 486.9,953.1 487.3,953.1 487.8,953.2 488.3,953.3 488.7,953.3 489.2,953.4 489.7,953.4 490.2,953.5 490.6,953.5 491.1,953.6 491.6,953.6 492,953.7 492.5,953.7 493,953.8 493.4,953.8 493.9,953.8 494.4,953.9 494.9,953.9 495.3,954 495.8,954 496.3,954 496.7,954.1 497.2,954.1 497.7,954.1 498.2,954.2 498.6,954.2 499.1,954.2 499.6,954.2 500,954.3 500.5,954.3 501,954.3 501.5,954.3 501.9,954.4 502.4,954.4 502.9,954.4 503.3,954.4 503.8,954.5 504.3,954.5 504.7,954.5 505.2,954.5 505.7,954.5 506.2,954.6 506.6,954.6 507.1,954.6 507.6,954.6 508,954.6 508.5,954.6 509,954.6 509.5,954.7 509.9,954.7 510.4,954.7 510.9,954.7 511.3,954.7 511.8,954.7 512.3,954.7 512.8,954.7 513.2,954.7 513.7,954.8 514.2,954.8 514.6,954.8 515.1,954.8 515.6,954.8 516,954.8 516.5,954.8 517,954.8 517.5,954.8 517.9,954.8 518.4,954.8 518.9,954.8 519.3,954.9 519.8,954.9 520.3,954.9 520.8,954.9 521.2,954.9 521.7,954.9 522.2,954.9 522.6,954.9 523.1,954.9 523.6,954.9 524.1,954.9 524.5,954.9 525,954.9 525.5,954.9 525.9,954.9 526.4,954.9 526.9,954.9 527.4,954.9 527.8,954.9 528.3,954.9 528.8,954.9 529.2,954.9 529.7,954.9 530.2,954.9 530.6,954.9 531.1,954.9 531.6,955 532.1,955 532.5,955 533,955 533.5,955 533.9,955 534.4,955 534.9,955 535.4,955 535.8,955 536.3,955 536.8,955 537.2,955 537.7,955 538.2,955 538.7,955 539.1,955 539.6,955 540.1,955 540.5,955 541,955 541.5,955 541.9,955 542.4,955 542.9,955 543.4,955 543.8,955 544.3,955 544.8,955 545.2,955 545.7,955 546.2,955 546.7,955 547.1,955 547.6,955 548.1,955 548.5,955 549,955 549.5,955 550,955 550.4,955 550.9,955 551.4,955 551.8,955 552.3,955 552.8,955 553.2,955 553.7,955 554.2,955 554.7,955 555.1,955 555.6,955 556.1,955 556.5,955 557,955 557.5,955 558,955 558.4,955 558.9,955 559.4,955 559.8,955 560.3,955 560.8,955 561.3,955 561.7,955 562.2,955 562.7,955 563.1,955 563.6,955 564.1,955 564.5,955 565,955 565.5,955 566,955 566.4,955 566.9,955 567.4,955 567.8,955 568.3,955 568.8,955 569.3,955 569.7,955 570.2,955 570.7,955 571.1,955 571.6,955 572.1,955 572.6,955 573,955 573.5,955 574,955 574.4,955 574.9,955 575.4,955 575.9,955 576.3,955 576.8,955 577.3,955 577.7,955 578.2,955 578.7,955 579.1,955 579.6,955 580.1,955 580.6,955 581,955 581.5,955 582,955 582.4,955 582.9,955 583.4,955 583.9,955 584.3,955 584.8,955 585.3,955 585.7,955 586.2,955 586.7,955 587.2,955 587.6,955 588.1,955 588.6,955 589,955 589.5,955 590,955 590.4,955 590.9,955 591.4,955 591.9,955 592.3,955 592.8,955 593.3,955 593.7,955 594.2,955 594.7,955 595.2,955 595.6,955 596.1,955 596.6,955 597,955 597.5,955 598,955 598.5,955 598.9,955 599.4,955 599.9,955 600.3,955 600.8,955 601.3,955 601.7,955 602.2,955 602.7,955 603.2,955 603.6,955 604.1,955 604.6,955 605,955 605.5,955 606,955 606.5,955 606.9,955 607.4,955 607.9,955 608.3,955 608.8,955 609.3,955 609.8,955 610.2,955 610.7,955 611.2,955 611.6,955 612.1,955 612.6,955 613.1,955 613.5,955 614,955 614.5,955 614.9,955 615.4,955 615.9,955 616.3,955 616.8,955 617.3,955 617.8,955 618.2,955 618.7,955 619.2,955 619.6,955 620.1,955 620.6,955 621.1,955 621.5,955 622,955 622.5,955 622.9,955 623.4,955 623.9,955 624.4,955 624.8,955 625.3,955 625.8,955 626.2,955 626.7,955 627.2,955 627.6,955 628.1,955 628.6,955 629.1,955 629.5,955 630,955 630.5,955 630.9,955 631.4,955 631.9,955 632.4,955 632.8,955 633.3,955 633.8,955 634.2,955 634.7,955 635.2,955 635.7,955 636.1,955 636.6,955 637.1,955 637.5,955 638,955 638.5,955 638.9,955 639.4,955 639.9,955 640.4,955 640.8,955 641.3,955 641.8,955 642.2,955 642.7,955 643.2,955 643.7,955 644.1,955 644.6,955" fill="none" stroke="#ff0000" stroke-width="3.1" stroke-linejoin="round" stroke-linecap="butt"/>
<polyline points="127.1,955 644.6,955" fill="none" stroke="#ff0000" stroke-width="3.1" stroke-linejoin="round" stroke-linecap="butt"/>
<polyline points="127.1,955 127.6,955 128,955 128.5,955 129,955 129.5,955 129.9,954.9 130.4,954.9 130.9,954.9 131.3,954.9 131.8,954.9 132.3,954.9 132.8,954.9 133.2,954.9 133.7,954.9 134.2,954.9 134.6,954.9 135.1,954.9 135.6,954.9 136,954.9 136.5,954.9 137,954.9 137.5,954.9 137.9,954.9 138.4,954.9 138.9,954.9 139.3,954.9 139.8,954.9 140.3,954.9 140.8,954.9 141.2,954.9 141.7,954.9 142.2,954.9 142.6,954.9 143.1,954.9 143.6,954.9 144.1,954.9 144.5,954.9 145,954.9 145.5,954.9 145.9,954.9 146.4,954.9 146.9,954.9 147.3,954.9 147.8,954.8 148.3,954.8 148.8,954.8 149.2,954.8 149.7,954.8 150.2,954.8 150.6,954.8 151.1,954.8 151.6,954.8 152.1,954.8 152.5,954.8 153,954.8 153.5,954.8 153.9,954.8 154.4,954.8 154.9,954.8 155.4,954.8 155.8,954.8 156.3,954.7 156.8,954.7 157.2,954.7 157.7,954.7 158.2,954.7 158.6,954.7 159.1,954.7 159.6,954.7 160.1,954.7 160.5,954.7 161,954.7 161.5,954.7 161.9,954.7 162.4,954.6 162.9,954.6 163.4,954.6 163.8,954.6 164.3,954.6 164.8,954.6 165.2,954.6 165.7,954.6 166.2,954.6 166.7,954.6 167.1,954.5 167.6,954.5 168.1,954.5 168.5,954.5 169,954.5 169.5,954.5 170,954.5 170.4,954.4 170.9,954.4 171.4,954.4 171.8,954.4 172.3,954.4 172.8,954.4 173.2,954.4 173.7,954.3 174.2,954.3 174.7,954.3 175.1,954.3 175.6,954.3 176.1,954.3 176.5,954.2 177,954.2 177.5,954.2 178,954.2 178.4,954.2 178.9,954.1 179.4,954.1 179.8,954.1 180.3,954.1 180.8,954 181.3,954 181.7,954 182.2,954 182.7,954 183.1,953.9 183.6,953.9 184.1,953.9 184.5,953.8 185,953.8 185.5,953.8 186,953.8 186.4,953.7 186.9,953.7 187.4,953.7 187.8,953.6 188.3,953.6 188.8,953.6 189.3,953.5 189.7,953.5 190.2,953.5 190.7,953.4 191.1,953.4 191.6,953.4 192.1,953.3 192.6,953.3 193,953.2 193.5,953.2 194,953.1 194.4,953.1 194.9,953.1 195.4,953 195.8,953 196.3,952.9 196.8,952.9 197.3,952.8 197.7,952.8 198.2,952.7 198.7,952.7 199.1,952.6 199.6,952.6 200.1,952.5 200.6,952.4 201,952.4 201.5,952.3 202,952.3 202.4,952.2 202.9,952.1 203.4,952.1 203.9,952 204.3,951.9 204.8,951.9 205.3,951.8 205.7,951.7 206.2,951.6 206.7,951.6 207.2,951.5 207.6,951.4 208.1,951.3 208.6,951.3 209,951.2 209.5,951.1 210,951 210.4,950.9 210.9,950.8 211.4,950.7 211.9,950.6 212.3,950.5 212.8,950.4 213.3,950.3 213.7,950.2 214.2,950.1 214.7,950 215.2,949.9 215.6,949.8 216.1,949.7 216.6,949.6 217,949.4 217.5,949.3 218,949.2 218.5,949.1 218.9,948.9 219.4,948.8 219.9,948.7 220.3,948.5 220.8,948.4 221.3,948.2 221.7,948.1 222.2,947.9 222.7,947.8 223.2,947.6 223.6,947.5 224.1,947.3 224.6,947.1 225,947 225.5,946.8 226,946.6 226.5,946.4 226.9,946.3 227.4,946.1 227.9,945.9 228.3,945.7 228.8,945.5 229.3,945.3 229.8,945.1 230.2,944.9 230.7,944.7 231.2,944.4 231.6,944.2 232.1,944 232.6,943.8 233,943.5 233.5,943.3 234,943 234.5,942.8 234.9,942.5 235.4,942.3 235.9,942 236.3,941.7 236.8,941.5 237.3,941.2 237.8,940.9 238.2,940.6 238.7,940.3 239.2,940 239.6,939.7 240.1,939.4 240.6,939.1 241.1,938.7 241.5,938.4 242,938.1 242.5,937.7 242.9,937.4 243.4,937 243.9,936.7 244.3,936.3 244.8,935.9 245.3,935.5 245.8,935.2 246.2,934.8 246.7,934.4 247.2,933.9 247.6,933.5 248.1,933.1 248.6,932.7 249.1,932.2 249.5,931.8 250,931.3 250.5,930.9 250.9,930.4 251.4,929.9 251.9,929.4 252.4,928.9 252.8,928.4 253.3,927.9 253.8,927.4 254.2,926.9 254.7,926.4 255.2,925.8 255.7,925.3 256.1,924.7 256.6,924.1 257.1,923.5 257.5,923 258,922.4 258.5,921.7 258.9,921.1 259.4,920.5 259.9,919.9 260.4,919.2 260.8,918.6 261.3,917.9 261.8,917.2 262.2,916.5 262.7,915.9 263.2,915.1 263.7,914.4 264.1,913.7 264.6,913 265.1,912.2 265.5,911.5 266,910.7 266.5,909.9 267,909.1 267.4,908.3 267.9,907.5 268.4,906.7 268.8,905.9 269.3,905 269.8,904.2 270.2,903.3 270.7,902.5 271.2,901.6 271.7,900.7 272.1,899.8 272.6,898.8 273.1,897.9 273.5,897 274,896 274.5,895.1 275,894.1 275.4,893.1 275.9,892.1 276.4,891.1 276.8,890.1 277.3,889.1 277.8,888 278.3,887 278.7,885.9 279.2,884.8 279.7,883.7 280.1,882.7 280.6,881.5 281.1,880.4 281.5,879.3 282,878.2 282.5,877 283,875.9 283.4,874.7 283.9,873.5 284.4,872.3 284.8,871.1 285.3,869.9 285.8,868.7 286.3,867.4 286.7,866.2 287.2,865 287.7,863.7 288.1,862.4 288.6,861.1 289.1,859.9 289.6,858.6 290,857.2 290.5,855.9 291,854.6 291.4,853.3 291.9,851.9 292.4,850.6 292.9,849.2 293.3,847.9 293.8,846.5 294.3,845.1 294.7,843.7 295.2,842.3 295.7,840.9 296.1,839.5 296.6,838.1 297.1,836.7 297.6,835.2 298,833.8 298.5,832.4 299,830.9 299.4,829.5 299.9,828 300.4,826.6 300.9,825.1 301.3,823.6 301.8,822.2 302.3,820.7 302.7,819.2 303.2,817.7 303.7,816.2 304.2,814.8 304.6,813.3 305.1,811.8 305.6,810.3 306,808.8 306.5,807.3 307,805.8 307.4,804.3 307.9,802.8 308.4,801.3 308.9,799.9 309.3,798.4 309.8,796.9 310.3,795.4 310.7,793.9 311.2,792.4 311.7,790.9 312.2,789.5 312.6,788 313.1,786.5 313.6,785.1 314,783.6 314.5,782.2 315,780.7 315.5,779.3 315.9,777.8 316.4,776.4 316.9,775 317.3,773.6 317.8,772.2 318.3,770.8 318.7,769.4 319.2,768 319.7,766.6 320.2,765.2 320.6,763.9 321.1,762.5 321.6,761.2 322,759.9 322.5,758.6 323,757.3 323.5,756 323.9,754.7 324.4,753.4 324.9,752.2 325.3,750.9 325.8,749.7 326.3,748.5 326.8,747.3 327.2,746.1 327.7,744.9 328.2,743.8 328.6,742.6 329.1,741.5 329.6,740.4 330.1,739.3 330.5,738.2 331,737.2 331.5,736.1 331.9,735.1 332.4,734.1 332.9,733.1 333.3,732.1 333.8,731.2 334.3,730.2 334.8,729.3 335.2,728.4 335.7,727.5 336.2,726.6 336.6,725.8 337.1,725 337.6,724.2 338.1,723.4 338.5,722.6 339,721.8 339.5,721.1 339.9,720.4 340.4,719.7 340.9,719 341.4,718.4 341.8,717.8 342.3,717.1 342.8,716.6 343.2,716 343.7,715.4 344.2,714.9 344.6,714.4 345.1,713.9 345.6,713.4 346.1,713 346.5,712.5 347,712.1 347.5,711.7 347.9,711.4 348.4,711 348.9,710.7 349.4,710.4 349.8,710.1 350.3,709.8 350.8,709.5 351.2,709.3 351.7,709.1 352.2,708.9 352.7,708.7 353.1,708.5 353.6,708.4 354.1,708.2 354.5,708.1 355,708 355.5,707.9 355.9,707.9 356.4,707.8 356.9,707.8 357.4,707.8 357.8,707.8 358.3,707.8 358.8,707.8 359.2,707.9 359.7,708 360.2,708 360.7,708.1 361.1,708.2 361.6,708.3 362.1,708.4 362.5,708.6 363,708.7 363.5,708.9 364,709 364.4,709.2 364.9,709.4 365.4,709.6 365.8,709.8 366.3,710 366.8,710.2 367.3,710.4 367.7,710.6 368.2,710.8 368.7,711.1 369.1,711.3 369.6,711.6 370.1,711.8 370.5,712 371,712.3 371.5,712.5 372,712.8 372.4,713 372.9,713.3 373.4,713.5 373.8,713.8 374.3,714 374.8,714.2 375.3,714.5 375.7,714.7 376.2,714.9 376.7,715.1 377.1,715.3 377.6,715.6 378.1,715.7 378.6,715.9 379,716.1 379.5,716.3 380,716.5 380.4,716.6 380.9,716.8 381.4,716.9 381.8,717 382.3,717.1 382.8,717.2 383.3,717.3 383.7,717.4 384.2,717.4 384.7,717.5 385.1,717.5 385.6,717.5 386.1,717.5 386.6,717.5 387,717.4 387.5,717.4 388,717.3 388.4,717.2 388.9,717.1 389.4,717 389.9,716.8 390.3,716.7 390.8,716.5 391.3,716.3 391.7,716 392.2,715.8 392.7,715.5 393.1,715.2 393.6,714.9 394.1,714.6 394.6,714.2 395,713.8 395.5,713.4 396,713 396.4,712.6 396.9,712.1 397.4,711.6 397.9,711.1 398.3,710.6 398.8,710 399.3,709.4 399.7,708.8 400.2,708.2 400.7,707.6 401.2,706.9 401.6,706.2 402.1,705.5 402.6,704.7 403,704 403.5,703.2 404,702.4 404.4,701.6 404.9,700.7 405.4,699.9 405.9,699 406.3,698.1 406.8,697.2 407.3,696.2 407.7,695.3 408.2,694.3 408.7,693.3 409.2,692.3 409.6,691.2 410.1,690.2 410.6,689.1 411,688 411.5,686.9 412,685.8 412.5,684.7 412.9,683.6 413.4,682.4 413.9,681.2 414.3,680.1 414.8,678.9 415.3,677.7 415.8,676.5 416.2,675.3 416.7,674 417.2,672.8 417.6,671.6 418.1,670.3 418.6,669.1 419,667.8 419.5,666.6 420,665.3 420.5,664.1 420.9,662.8 421.4,661.6 421.9,660.3 422.3,659.1 422.8,657.8 423.3,656.6 423.8,655.3 424.2,654.1 424.7,652.9 425.2,651.6 425.6,650.4 426.1,649.2 426.6,648 427.1,646.8 427.5,645.7 428,644.5 428.5,643.4 428.9,642.2 429.4,641.1 429.9,640 430.3,638.9 430.8,637.9 431.3,636.8 431.8,635.8 432.2,634.8 432.7,633.8 433.2,632.9 433.6,632 434.1,631 434.6,630.2 435.1,629.3 435.5,628.5 436,627.7 436.5,626.9 436.9,626.2 437.4,625.5 437.9,624.8 438.4,624.1 438.8,623.5 439.3,622.9 439.8,622.4 440.2,621.9 440.7,621.4 441.2,620.9 441.6,620.5 442.1,620.2 442.6,619.8 443.1,619.5 443.5,619.3 444,619.1 444.5,618.9 444.9,618.8 445.4,618.7 445.9,618.6 446.4,618.6 446.8,618.6 447.3,618.7 447.8,618.8 448.2,619 448.7,619.2 449.2,619.4 449.7,619.7 450.1,620 450.6,620.4 451.1,620.8 451.5,621.3 452,621.8 452.5,622.4 453,623 453.4,623.6 453.9,624.3 454.4,625 454.8,625.8 455.3,626.6 455.8,627.5 456.2,628.4 456.7,629.3 457.2,630.3 457.7,631.3 458.1,632.4 458.6,633.5 459.1,634.7 459.5,635.9 460,637.1 460.5,638.4 461,639.8 461.4,641.1 461.9,642.5 462.4,644 462.8,645.5 463.3,647 463.8,648.6 464.3,650.2 464.7,651.8 465.2,653.5 465.7,655.2 466.1,656.9 466.6,658.7 467.1,660.5 467.5,662.4 468,664.3 468.5,666.2 469,668.1 469.4,670.1 469.9,672.1 470.4,674.1 470.8,676.2 471.3,678.3 471.8,680.4 472.3,682.6 472.7,684.7 473.2,686.9 473.7,689.1 474.1,691.4 474.6,693.6 475.1,695.9 475.6,698.2 476,700.5 476.5,702.9 477,705.2 477.4,707.6 477.9,710 478.4,712.4 478.8,714.8 479.3,717.2 479.8,719.7 480.3,722.1 480.7,724.6 481.2,727.1 481.7,729.6 482.1,732.1 482.6,734.6 483.1,737.1 483.6,739.6 484,742.1 484.5,744.6 485,747.1 485.4,749.7 485.9,752.2 486.4,754.7 486.9,757.3 487.3,759.8 487.8,762.3 488.3,764.8 488.7,767.4 489.2,769.9 489.7,772.4 490.2,774.9 490.6,777.4 491.1,779.9 491.6,782.4 492,784.9 492.5,787.3 493,789.8 493.4,792.2 493.9,794.7 494.4,797.1 494.9,799.5 495.3,801.9 495.8,804.3 496.3,806.7 496.7,809.1 497.2,811.4 497.7,813.8 498.2,816.1 498.6,818.4 499.1,820.7 499.6,822.9 500,825.2 500.5,827.4 501,829.6 501.5,831.8 501.9,834 502.4,836.2 502.9,838.3 503.3,840.4 503.8,842.5 504.3,844.6 504.7,846.7 505.2,848.7 505.7,850.7 506.2,852.7 506.6,854.7 507.1,856.6 507.6,858.6 508,860.5 508.5,862.4 509,864.2 509.5,866.1 509.9,867.9 510.4,869.7 510.9,871.4 511.3,873.2 511.8,874.9 512.3,876.6 512.8,878.3 513.2,879.9 513.7,881.5 514.2,883.1 514.6,884.7 515.1,886.3 515.6,887.8 516,889.3 516.5,890.8 517,892.3 517.5,893.7 517.9,895.1 518.4,896.5 518.9,897.9 519.3,899.2 519.8,900.6 520.3,901.9 520.8,903.1 521.2,904.4 521.7,905.6 522.2,906.8 522.6,908 523.1,909.2 523.6,910.3 524.1,911.5 524.5,912.6 525,913.6 525.5,914.7 525.9,915.7 526.4,916.8 526.9,917.8 527.4,918.7 527.8,919.7 528.3,920.6 528.8,921.6 529.2,922.5 529.7,923.3 530.2,924.2 530.6,925.1 531.1,925.9 531.6,926.7 532.1,927.5 532.5,928.2 533,929 533.5,929.7 533.9,930.5 534.4,931.2 534.9,931.8 535.4,932.5 535.8,933.2 536.3,933.8 536.8,934.4 537.2,935 537.7,935.6 538.2,936.2 538.7,936.8 539.1,937.3 539.6,937.9 540.1,938.4 540.5,938.9 541,939.4 541.5,939.9 541.9,940.4 542.4,940.8 542.9,941.3 543.4,941.7 543.8,942.1 544.3,942.5 544.8,942.9 545.2,943.3 545.7,943.7 546.2,944.1 546.7,944.4 547.1,944.8 547.6,945.1 548.1,945.5 548.5,945.8 549,946.1 549.5,946.4 550,946.7 550.4,947 550.9,947.2 551.4,947.5 551.8,947.8 552.3,948 552.8,948.3 553.2,948.5 553.7,948.7 554.2,948.9 554.7,949.2 555.1,949.4 555.6,949.6 556.1,949.8 556.5,950 557,950.1 557.5,950.3 558,950.5 558.4,950.6 558.9,950.8 559.4,951 559.8,951.1 560.3,951.3 560.8,951.4 561.3,951.5 561.7,951.7 562.2,951.8 562.7,951.9 563.1,952 563.6,952.1 564.1,952.3 564.5,952.4 565,952.5 565.5,952.6 566,952.7 566.4,952.8 566.9,952.8 567.4,952.9 567.8,953 568.3,953.1 568.8,953.2 569.3,953.2 569.7,953.3 570.2,953.4 570.7,953.4 571.1,953.5 571.6,953.6 572.1,953.6 572.6,953.7 573,953.7 573.5,953.8 574,953.8 574.4,953.9 574.9,953.9 575.4,954 575.9,954 576.3,954.1 576.8,954.1 577.3,954.2 577.7,954.2 578.2,954.2 578.7,954.3 579.1,954.3 579.6,954.3 580.1,954.3 580.6,954.4 581,954.4 581.5,954.4 582,954.5 582.4,954.5 582.9,954.5 583.4,954.5 583.9,954.5 584.3,954.6 584.8,954.6 585.3,954.6 585.7,954.6 586.2,954.6 586.7,954.7 587.2,954.7 587.6,954.7 588.1,954.7 588.6,954.7 589,954.7 589.5,954.7 590,954.8 590.4,954.8 590.9,954.8 591.4,954.8 591.9,954.8 592.3,954.8 592.8,954.8 593.3,954.8 593.7,954.8 594.2,954.8 594.7,954.9 595.2,954.9 595.6,954.9 596.1,954.9 596.6,954.9 597,954.9 597.5,954.9 598,954.9 598.5,954.9 598.9,954.9 599.4,954.9 599.9,954.9 600.3,954.9 600.8,954.9 601.3,954.9 601.7,954.9 602.2,954.9 602.7,954.9 603.2,954.9 603.6,954.9 604.1,954.9 604.6,955 605,955 605.5,955 606,955 606.5,955 606.9,955 607.4,955 607.9,955 608.3,955 608.8,955 609.3,955 609.8,955 610.2,955 610.7,955 611.2,955 611.6,955 612.1,955 612.6,955 613.1,955 613.5,955 614,955 614.5,955 614.9,955 615.4,955 615.9,955 616.3,955 616.8,955 617.3,955 617.8,955 618.2,955 618.7,955 619.2,955 619.6,955 620.1,955 620.6,955 621.1,955 621.5,955 622,955 622.5,955 622.9,955 623.4,955 623.9,955 624.4,955 624.8,955 625.3,955 625.8,955 626.2,955 626.7,955 627.2,955 627.6,955 628.1,955 628.6,955 629.1,955 629.5,955 630,955 630.5,955 630.9,955 631.4,955 631.9,955 632.4,955 632.8,955 633.3,955 633.8,955 634.2,955 634.7,955 635.2,955 635.7,955 636.1,955 636.6,955 637.1,955 637.5,955 638,955 638.5,955 638.9,955 639.4,955 639.9,955 640.4,955 640.8,955 641.3,955 641.8,955 642.2,955 642.7,955 643.2,955 643.7,955 644.1,955 644.6,955" fill="none" stroke="#dc6bfb" stroke-width="3.4" stroke-linejoin="round" stroke-linecap="butt"/>
<polyline points="127.1,955 127.6,955 128,955 128.5,955 129,955 129.5,955 129.9,955 130.4,955 130.9,955 131.3,955 131.8,955 132.3,955 132.8,955 133.2,955 133.7,955 134.2,955 134.6,955 135.1,955 135.6,955 136,955 136.5,955 137,955 137.5,955 137.9,955 138.4,955 138.9,955 139.3,955 139.8,955 140.3,955 140.8,955 141.2,955 141.7,955 142.2,955 142.6,955 143.1,955 143.6,955 144.1,955 144.5,955 145,955 145.5,955 145.9,955 146.4,955 146.9,955 147.3,955 147.8,955 148.3,955 148.8,955 149.2,955 149.7,955 150.2,955 150.6,955 151.1,955 151.6,955 152.1,955 152.5,955 153,955 153.5,955 153.9,955 154.4,955 154.9,955 155.4,955 155.8,955 156.3,955 156.8,955 157.2,955 157.7,955 158.2,955 158.6,955 159.1,955 159.6,955 160.1,955 160.5,955 161,955 161.5,955 161.9,955 162.4,955 162.9,955 163.4,955 163.8,955 164.3,955 164.8,955 165.2,955 165.7,955 166.2,955 166.7,955 167.1,955 167.6,955 168.1,955 168.5,955 169,955 169.5,955 170,955 170.4,955 170.9,955 171.4,955 171.8,955 172.3,955 172.8,955 173.2,955 173.7,955 174.2,955 174.7,955 175.1,955 175.6,955 176.1,955 176.5,955 177,955 177.5,955 178,955 178.4,955 178.9,955 179.4,955 179.8,955 180.3,955 180.8,955 181.3,955 181.7,955 182.2,955 182.7,955 183.1,955 183.6,955 184.1,955 184.5,955 185,955 185.5,955 186,955 186.4,955 186.9,955 187.4,955 187.8,955 188.3,955 188.8,955 189.3,955 189.7,955 190.2,955 190.7,955 191.1,955 191.6,955 192.1,955 192.6,955 193,955 193.5,955 194,955 194.4,955 194.9,955 195.4,955 195.8,955 196.3,955 196.8,955 197.3,955 197.7,955 198.2,955 198.7,955 199.1,955 199.6,955 200.1,955 200.6,955 201,955 201.5,955 202,955 202.4,955 202.9,955 203.4,955 203.9,955 204.3,955 204.8,955 205.3,955 205.7,955 206.2,955 206.7,955 207.2,955 207.6,955 208.1,955 208.6,955 209,955 209.5,955 210,955 210.4,955 210.9,955 211.4,955 211.9,955 212.3,955 212.8,955 213.3,955 213.7,955 214.2,955 214.7,955 215.2,955 215.6,955 216.1,955 216.6,955 217,955 217.5,955 218,955 218.5,955 218.9,955 219.4,955 219.9,955 220.3,955 220.8,955 221.3,955 221.7,955 222.2,955 222.7,955 223.2,955 223.6,955 224.1,955 224.6,955 225,955 225.5,955 226,955 226.5,955 226.9,955 227.4,955 227.9,955 228.3,955 228.8,955 229.3,955 229.8,955 230.2,955 230.7,955 231.2,955 231.6,955 232.1,955 232.6,955 233,955 233.5,955 234,955 234.5,955 234.9,955 235.4,955 235.9,955 236.3,955 236.8,955 237.3,955 237.8,955 238.2,955 238.7,955 239.2,955 239.6,955 240.1,955 240.6,955 241.1,955 241.5,955 242,955 242.5,955 242.9,955 243.4,955 243.9,955 244.3,955 244.8,955 245.3,955 245.8,955 246.2,955 246.7,955 247.2,955 247.6,955 248.1,955 248.6,955 249.1,955 249.5,955 250,955 250.5,955 250.9,955 251.4,955 251.9,955 252.4,955 252.8,955 253.3,955 253.8,955 254.2,955 254.7,955 255.2,955 255.7,955 256.1,955 256.6,955 257.1,955 257.5,955 258,955 258.5,955 258.9,955 259.4,955 259.9,955 260.4,955 260.8,955 261.3,955 261.8,955 262.2,955 262.7,955 263.2,955 263.7,955 264.1,955 264.6,955 265.1,955 265.5,955 266,955 266.5,955 267,955 267.4,955 267.9,955 268.4,955 268.8,955 269.3,955 269.8,955 270.2,955 270.7,955 271.2,955 271.7,955 272.1,955 272.6,955 273.1,955 273.5,955 274,955 274.5,955 275,955 275.4,955 275.9,955 276.4,955 276.8,955 277.3,955 277.8,955 278.3,955 278.7,955 279.2,955 279.7,955 280.1,955 280.6,955 281.1,955 281.5,955 282,955 282.5,955 283,955 283.4,955 283.9,955 284.4,955 284.8,955 285.3,955 285.8,955 286.3,955 286.7,955 287.2,955 287.7,955 288.1,955 288.6,955 289.1,955 289.6,955 290,955 290.5,955 291,955 291.4,955 291.9,955 292.4,955 292.9,955 293.3,955 293.8,955 294.3,955 294.7,955 295.2,955 295.7,955 296.1,955 296.6,955 297.1,955 297.6,954.9 298,954.9 298.5,954.9 299,954.9 299.4,954.9 299.9,954.9 300.4,954.9 300.9,954.9 301.3,954.9 301.8,954.9 302.3,954.9 302.7,954.9 303.2,954.9 303.7,954.9 304.2,954.9 304.6,954.9 305.1,954.9 305.6,954.9 306,954.9 306.5,954.9 307,954.9 307.4,954.8 307.9,954.8 308.4,954.8 308.9,954.8 309.3,954.8 309.8,954.8 310.3,954.8 310.7,954.8 311.2,954.8 311.7,954.8 312.2,954.8 312.6,954.7 313.1,954.7 313.6,954.7 314,954.7 314.5,954.7 315,954.7 315.5,954.7 315.9,954.6 316.4,954.6 316.9,954.6 317.3,954.6 317.8,954.6 318.3,954.5 318.7,954.5 319.2,954.5 319.7,954.5 320.2,954.4 320.6,954.4 321.1,954.4 321.6,954.4 322,954.3 322.5,954.3 323,954.3 323.5,954.2 323.9,954.2 324.4,954.2 324.9,954.1 325.3,954.1 325.8,954.1 326.3,954 326.8,954 327.2,953.9 327.7,953.9 328.2,953.8 328.6,953.8 329.1,953.7 329.6,953.7 330.1,953.6 330.5,953.5 331,953.5 331.5,953.4 331.9,953.4 332.4,953.3 332.9,953.2 333.3,953.1 333.8,953.1 334.3,953 334.8,952.9 335.2,952.8 335.7,952.7 336.2,952.6 336.6,952.5 337.1,952.4 337.6,952.3 338.1,952.2 338.5,952.1 339,952 339.5,951.9 339.9,951.7 340.4,951.6 340.9,951.5 341.4,951.3 341.8,951.2 342.3,951.1 342.8,950.9 343.2,950.7 343.7,950.6 344.2,950.4 344.6,950.2 345.1,950.1 345.6,949.9 346.1,949.7 346.5,949.5 347,949.3 347.5,949.1 347.9,948.9 348.4,948.6 348.9,948.4 349.4,948.2 349.8,947.9 350.3,947.7 350.8,947.4 351.2,947.1 351.7,946.8 352.2,946.6 352.7,946.3 353.1,946 353.6,945.6 354.1,945.3 354.5,945 355,944.7 355.5,944.3 355.9,943.9 356.4,943.6 356.9,943.2 357.4,942.8 357.8,942.4 358.3,942 358.8,941.5 359.2,941.1 359.7,940.6 360.2,940.2 360.7,939.7 361.1,939.2 361.6,938.7 362.1,938.2 362.5,937.7 363,937.1 363.5,936.6 364,936 364.4,935.4 364.9,934.8 365.4,934.2 365.8,933.6 366.3,932.9 366.8,932.3 367.3,931.6 367.7,930.9 368.2,930.2 368.7,929.5 369.1,928.7 369.6,928 370.1,927.2 370.5,926.4 371,925.6 371.5,924.8 372,923.9 372.4,923 372.9,922.2 373.4,921.3 373.8,920.3 374.3,919.4 374.8,918.4 375.3,917.4 375.7,916.4 376.2,915.4 376.7,914.4 377.1,913.3 377.6,912.2 378.1,911.1 378.6,910 379,908.8 379.5,907.7 380,906.5 380.4,905.3 380.9,904 381.4,902.8 381.8,901.5 382.3,900.2 382.8,898.9 383.3,897.5 383.7,896.1 384.2,894.7 384.7,893.3 385.1,891.9 385.6,890.4 386.1,888.9 386.6,887.4 387,885.9 387.5,884.3 388,882.8 388.4,881.2 388.9,879.5 389.4,877.9 389.9,876.2 390.3,874.5 390.8,872.8 391.3,871.1 391.7,869.3 392.2,867.5 392.7,865.7 393.1,863.9 393.6,862 394.1,860.2 394.6,858.3 395,856.4 395.5,854.4 396,852.5 396.4,850.5 396.9,848.5 397.4,846.5 397.9,844.4 398.3,842.4 398.8,840.3 399.3,838.2 399.7,836.1 400.2,833.9 400.7,831.8 401.2,829.6 401.6,827.4 402.1,825.2 402.6,823 403,820.7 403.5,818.5 404,816.2 404.4,813.9 404.9,811.6 405.4,809.3 405.9,807 406.3,804.6 406.8,802.3 407.3,799.9 407.7,797.6 408.2,795.2 408.7,792.8 409.2,790.4 409.6,788 410.1,785.6 410.6,783.1 411,780.7 411.5,778.3 412,775.8 412.5,773.4 412.9,771 413.4,768.5 413.9,766.1 414.3,763.6 414.8,761.2 415.3,758.7 415.8,756.3 416.2,753.8 416.7,751.4 417.2,749 417.6,746.5 418.1,744.1 418.6,741.7 419,739.3 419.5,736.9 420,734.5 420.5,732.1 420.9,729.7 421.4,727.4 421.9,725 422.3,722.7 422.8,720.4 423.3,718.1 423.8,715.8 424.2,713.6 424.7,711.3 425.2,709.1 425.6,706.9 426.1,704.7 426.6,702.5 427.1,700.4 427.5,698.3 428,696.2 428.5,694.1 428.9,692.1 429.4,690.1 429.9,688.1 430.3,686.1 430.8,684.2 431.3,682.3 431.8,680.5 432.2,678.7 432.7,676.9 433.2,675.1 433.6,673.4 434.1,671.7 434.6,670 435.1,668.4 435.5,666.9 436,665.3 436.5,663.8 436.9,662.4 437.4,661 437.9,659.6 438.4,658.3 438.8,657 439.3,655.7 439.8,654.5 440.2,653.4 440.7,652.3 441.2,651.2 441.6,650.2 442.1,649.2 442.6,648.3 443.1,647.4 443.5,646.6 444,645.8 444.5,645.1 444.9,644.4 445.4,643.8 445.9,643.2 446.4,642.7 446.8,642.2 447.3,641.8 447.8,641.4 448.2,641.1 448.7,640.8 449.2,640.6 449.7,640.4 450.1,640.3 450.6,640.2 451.1,640.2 451.5,640.3 452,640.4 452.5,640.5 453,640.7 453.4,640.9 453.9,641.2 454.4,641.6 454.8,642 455.3,642.4 455.8,642.9 456.2,643.5 456.7,644.1 457.2,644.7 457.7,645.4 458.1,646.2 458.6,647 459.1,647.8 459.5,648.7 460,649.6 460.5,650.6 461,651.7 461.4,652.7 461.9,653.9 462.4,655 462.8,656.3 463.3,657.5 463.8,658.8 464.3,660.2 464.7,661.6 465.2,663 465.7,664.5 466.1,666 466.6,667.5 467.1,669.1 467.5,670.7 468,672.4 468.5,674.1 469,675.8 469.4,677.6 469.9,679.4 470.4,681.2 470.8,683.1 471.3,685 471.8,687 472.3,688.9 472.7,690.9 473.2,692.9 473.7,695 474.1,697.1 474.6,699.2 475.1,701.3 475.6,703.4 476,705.6 476.5,707.8 477,710 477.4,712.2 477.9,714.5 478.4,716.8 478.8,719.1 479.3,721.4 479.8,723.7 480.3,726 480.7,728.4 481.2,730.7 481.7,733.1 482.1,735.5 482.6,737.9 483.1,740.3 483.6,742.7 484,745.1 484.5,747.5 485,750 485.4,752.4 485.9,754.9 486.4,757.3 486.9,759.7 487.3,762.2 487.8,764.6 488.3,767.1 488.7,769.5 489.2,772 489.7,774.4 490.2,776.9 490.6,779.3 491.1,781.7 491.6,784.2 492,786.6 492.5,789 493,791.4 493.4,793.8 493.9,796.2 494.4,798.6 494.9,800.9 495.3,803.3 495.8,805.6 496.3,808 496.7,810.3 497.2,812.6 497.7,814.9 498.2,817.2 498.6,819.4 499.1,821.7 499.6,823.9 500,826.1 500.5,828.3 501,830.5 501.5,832.7 501.9,834.8 502.4,836.9 502.9,839.1 503.3,841.1 503.8,843.2 504.3,845.3 504.7,847.3 505.2,849.3 505.7,851.3 506.2,853.3 506.6,855.2 507.1,857.2 507.6,859.1 508,861 508.5,862.8 509,864.7 509.5,866.5 509.9,868.3 510.4,870 510.9,871.8 511.3,873.5 511.8,875.2 512.3,876.9 512.8,878.6 513.2,880.2 513.7,881.8 514.2,883.4 514.6,885 515.1,886.5 515.6,888.1 516,889.6 516.5,891 517,892.5 517.5,893.9 517.9,895.3 518.4,896.7 518.9,898.1 519.3,899.4 519.8,900.7 520.3,902 520.8,903.3 521.2,904.5 521.7,905.8 522.2,907 522.6,908.2 523.1,909.3 523.6,910.5 524.1,911.6 524.5,912.7 525,913.8 525.5,914.8 525.9,915.8 526.4,916.9 526.9,917.9 527.4,918.8 527.8,919.8 528.3,920.7 528.8,921.6 529.2,922.5 529.7,923.4 530.2,924.3 530.6,925.1 531.1,925.9 531.6,926.7 532.1,927.5 532.5,928.3 533,929 533.5,929.8 533.9,930.5 534.4,931.2 534.9,931.9 535.4,932.6 535.8,933.2 536.3,933.8 536.8,934.5 537.2,935.1 537.7,935.7 538.2,936.2 538.7,936.8 539.1,937.4 539.6,937.9 540.1,938.4 540.5,938.9 541,939.4 541.5,939.9 541.9,940.4 542.4,940.8 542.9,941.3 543.4,941.7 543.8,942.1 544.3,942.6 544.8,943 545.2,943.3 545.7,943.7 546.2,944.1 546.7,944.4 547.1,944.8 547.6,945.1 548.1,945.5 548.5,945.8 549,946.1 549.5,946.4 550,946.7 550.4,947 550.9,947.2 551.4,947.5 551.8,947.8 552.3,948 552.8,948.3 553.2,948.5 553.7,948.7 554.2,948.9 554.7,949.2 555.1,949.4 555.6,949.6 556.1,949.8 556.5,950 557,950.1 557.5,950.3 558,950.5 558.4,950.7 558.9,950.8 559.4,951 559.8,951.1 560.3,951.3 560.8,951.4 561.3,951.5 561.7,951.7 562.2,951.8 562.7,951.9 563.1,952 563.6,952.2 564.1,952.3 564.5,952.4 565,952.5 565.5,952.6 566,952.7 566.4,952.8 566.9,952.8 567.4,952.9 567.8,953 568.3,953.1 568.8,953.2 569.3,953.2 569.7,953.3 570.2,953.4 570.7,953.5 571.1,953.5 571.6,953.6 572.1,953.6 572.6,953.7 573,953.7 573.5,953.8 574,953.8 574.4,953.9 574.9,953.9 575.4,954 575.9,954 576.3,954.1 576.8,954.1 577.3,954.2 577.7,954.2 578.2,954.2 578.7,954.3 579.1,954.3 579.6,954.3 580.1,954.4 580.6,954.4 581,954.4 581.5,954.4 582,954.5 582.4,954.5 582.9,954.5 583.4,954.5 583.9,954.5 584.3,954.6 584.8,954.6 585.3,954.6 585.7,954.6 586.2,954.6 586.7,954.7 587.2,954.7 587.6,954.7 588.1,954.7 588.6,954.7 589,954.7 589.5,954.7 590,954.8 590.4,954.8 590.9,954.8 591.4,954.8 591.9,954.8 592.3,954.8 592.8,954.8 593.3,954.8 593.7,954.8 594.2,954.8 594.7,954.9 595.2,954.9 595.6,954.9 596.1,954.9 596.6,954.9 597,954.9 597.5,954.9 598,954.9 598.5,954.9 598.9,954.9 599.4,954.9 599.9,954.9 600.3,954.9 600.8,954.9 601.3,954.9 601.7,954.9 602.2,954.9 602.7,954.9 603.2,954.9 603.6,954.9 604.1,954.9 604.6,955 605,955 605.5,955 606,955 606.5,955 606.9,955 607.4,955 607.9,955 608.3,955 608.8,955 609.3,955 609.8,955 610.2,955 610.7,955 611.2,955 611.6,955 612.1,955 612.6,955 613.1,955 613.5,955 614,955 614.5,955 614.9,955 615.4,955 615.9,955 616.3,955 616.8,955 617.3,955 617.8,955 618.2,955 618.7,955 619.2,955 619.6,955 620.1,955 620.6,955 621.1,955 621.5,955 622,955 622.5,955 622.9,955 623.4,955 623.9,955 624.4,955 624.8,955 625.3,955 625.8,955 626.2,955 626.7,955 627.2,955 627.6,955 628.1,955 628.6,955 629.1,955 629.5,955 630,955 630.5,955 630.9,955 631.4,955 631.9,955 632.4,955 632.8,955 633.3,955 633.8,955 634.2,955 634.7,955 635.2,955 635.7,955 636.1,955 636.6,955 637.1,955 637.5,955 638,955 638.5,955 638.9,955 639.4,955 639.9,955 640.4,955 640.8,955 641.3,955 641.8,955 642.2,955 642.7,955 643.2,955 643.7,955 644.1,955 644.6,955" fill="none" stroke="#0000ff" stroke-width="3.1" stroke-linejoin="round" stroke-linecap="butt"/>
<text x="131.4" y="609.6" font-family='"Liberation Sans", Arial, Helvetica, sans-serif' font-size="35.6" font-weight="bold" font-style="normal" fill="#000" text-anchor="start">(b)</text>
<text x="581.4" y="598.8" font-family='"Liberation Sans", Arial, Helvetica, sans-serif' font-size="23.9" font-weight="bold" font-style="normal" fill="#000" text-anchor="start">Zr 3d</text>
<text x="289.8" y="621" font-family='"Liberation Sans", Arial, Helvetica, sans-serif' font-size="19.2" font-weight="normal" font-style="normal" fill="#0000ff" text-anchor="start">182,49 eV</text>
<path d="M378.5 619.6L438.5 636" stroke="#0000ff" stroke-width="2.1" fill="none"/>
<path d="M449.6 639L435.6 639L437.6 631.9Z" fill="#0000ff"/>
<text x="214.3" y="681.3" font-family='"Liberation Sans", Arial, Helvetica, sans-serif' font-size="19.2" font-weight="normal" font-style="normal" fill="#ff0000" text-anchor="start">184,8 eV</text>
<path d="M290.5 677.8L341 710.5" stroke="#ff0000" stroke-width="2.1" fill="none"/>
<path d="M350.6 716.8L337.3 712.6L341.3 706.3Z" fill="#ff0000"/>
<text x="426.6" y="605.4" font-family='"Liberation Sans", Arial, Helvetica, sans-serif' font-size="19.5" font-weight="bold" fill="#000">Zr 3d<tspan dx="0.6" dy="5.6" font-style="italic">5/2</tspan></text>
<text x="316" y="687.3" font-family='"Liberation Sans", Arial, Helvetica, sans-serif' font-size="19.5" font-weight="bold" fill="#000">Zr 3d<tspan dx="0.6" dy="5.6" font-style="italic">3/2</tspan></text>
<text x="385.9" y="1076.8" font-family='"Liberation Serif", "Times New Roman", Times, serif' font-size="27.6" font-weight="bold" font-style="italic" fill="#000" text-anchor="middle" stroke="#000" stroke-width="0.45">Binding energy (eV)</text>
<text transform="translate(39.9 776.2) rotate(-90)" font-family='"Liberation Serif", "Times New Roman", Times, serif' font-size="28.6" font-weight="bold" font-style="italic" text-anchor="middle" fill="#000" stroke="#000" stroke-width="0.45">Counts.s<tspan dy="-8.8">-1</tspan></text>
<path d="M116.6 1131.1 H642.9 V1575.5 H642.9" fill="none" stroke="#000" stroke-width="1.85"/>
<path d="M125.1 1131.1 V1567 H642.9" fill="none" stroke="#000" stroke-width="1.85"/>
<path d="M125.1 1567v8.5 M182.6 1567v8.5 M240.2 1567v8.5 M297.7 1567v8.5 M355.2 1567v8.5 M412.8 1567v8.5 M470.3 1567v8.5 M527.8 1567v8.5 M585.4 1567v8.5 M642.9 1567v8.5 M614.1 1567v4.5 M556.6 1567v4.5 M499.1 1567v4.5 M441.5 1567v4.5 M384 1567v4.5 M326.5 1567v4.5 M268.9 1567v4.5 M211.4 1567v4.5 M153.9 1567v4.5 M125.1 1541.4h-8.5 M125.1 1490.1h-8.5 M125.1 1438.8h-8.5 M125.1 1387.5h-8.5 M125.1 1336.2h-8.5 M125.1 1284.9h-8.5 M125.1 1233.7h-8.5 M125.1 1182.4h-8.5 M125.1 1131.1h-8.5 M125.1 1567h-4.5 M125.1 1515.7h-4.5 M125.1 1464.4h-4.5 M125.1 1413.2h-4.5 M125.1 1361.9h-4.5 M125.1 1310.6h-4.5 M125.1 1259.3h-4.5 M125.1 1208h-4.5 M125.1 1156.7h-4.5" fill="none" stroke="#000" stroke-width="1.85"/>
<g font-family='"Liberation Sans", Arial, Helvetica, sans-serif' font-weight="bold" font-size="17.8" fill="#000">
<text x="125.1" y="1595.9" text-anchor="middle">468</text>
<text x="182.6" y="1595.9" text-anchor="middle">466</text>
<text x="240.2" y="1595.9" text-anchor="middle">464</text>
<text x="297.7" y="1595.9" text-anchor="middle">462</text>
<text x="355.2" y="1595.9" text-anchor="middle">460</text>
<text x="412.8" y="1595.9" text-anchor="middle">458</text>
<text x="470.3" y="1595.9" text-anchor="middle">456</text>
<text x="527.8" y="1595.9" text-anchor="middle">454</text>
<text x="585.4" y="1595.9" text-anchor="middle">452</text>
<text x="642.9" y="1595.9" text-anchor="middle">450</text>
<text x="111.6" y="1546.8" text-anchor="end">0</text>
<text x="111.6" y="1495.5" text-anchor="end">2000</text>
<text x="111.6" y="1444.2" text-anchor="end">4000</text>
<text x="111.6" y="1392.9" text-anchor="end">6000</text>
<text x="111.6" y="1341.6" text-anchor="end">8000</text>
<text x="111.6" y="1290.3" text-anchor="end">10000</text>
<text x="111.6" y="1239.1" text-anchor="end">12000</text>
<text x="111.6" y="1187.8" text-anchor="end">14000</text>
<text x="111.6" y="1136.5" text-anchor="end">16000</text>
</g>
<polyline points="125.1,1538.6 125.4,1539.2 125.8,1536.9 126.1,1540 126.5,1538 126.8,1539.1 127.2,1540 127.5,1537.2 127.9,1543.1 128.2,1540.1 128.6,1539.2 128.9,1540.4 129.2,1539.2 129.6,1540.5 129.9,1540.6 130.3,1537.5 130.6,1540.3 131,1539.1 131.3,1539.8 131.7,1539.4 132,1536.7 132.4,1537 132.7,1537.7 133,1537.4 133.4,1535.7 133.7,1538.7 134.1,1537.5 134.4,1538.2 134.8,1539.1 135.1,1537.9 135.5,1538.8 135.8,1538.9 136.2,1535.7 136.5,1537.6 136.8,1537.3 137.2,1539 137.5,1537.2 137.9,1536.5 138.2,1535.5 138.6,1534.6 138.9,1538.1 139.3,1538.1 139.6,1538.1 140,1542 140.3,1538.4 140.6,1536.8 141,1537 141.3,1539 141.7,1536.9 142,1536.4 142.4,1538.7 142.7,1535.6 143.1,1535.6 143.4,1537.4 143.8,1539.7 144.1,1536.3 144.4,1538.2 144.8,1538.6 145.1,1538.1 145.5,1538.4 145.8,1536.5 146.2,1536.2 146.5,1535 146.9,1536.2 147.2,1538.3 147.6,1537.4 147.9,1535.2 148.2,1535.8 148.6,1531.5 148.9,1536.1 149.3,1536.1 149.6,1534 150,1534.5 150.3,1535.1 150.7,1535 151,1533.8 151.4,1533 151.7,1533.5 152,1534.3 152.4,1532.9 152.7,1532.2 153.1,1531.9 153.4,1536.2 153.8,1533.5 154.1,1532.5 154.5,1531.1 154.8,1531 155.2,1530.9 155.5,1530.8 155.8,1531.4 156.2,1530.8 156.5,1528.7 156.9,1531.9 157.2,1530.4 157.6,1529.1 157.9,1531.1 158.3,1533.9 158.6,1530.2 159,1530.7 159.3,1530.7 159.6,1529.3 160,1530.1 160.3,1530 160.7,1527.9 161,1528 161.4,1527.5 161.7,1526.7 162.1,1526.5 162.4,1526.8 162.8,1526 163.1,1524.4 163.4,1524.7 163.8,1525 164.1,1521.5 164.5,1523.4 164.8,1522.8 165.2,1522.6 165.5,1521.6 165.9,1521.8 166.2,1521.9 166.6,1523.6 166.9,1521.2 167.2,1522.7 167.6,1520.3 167.9,1523.1 168.3,1521.4 168.6,1518.7 169,1520.1 169.3,1520.7 169.7,1518.3 170,1519.2 170.4,1517.8 170.7,1521.4 171,1518.6 171.4,1518.2 171.7,1516.9 172.1,1515.8 172.4,1517.2 172.8,1513.6 173.1,1516.4 173.5,1517.6 173.8,1517.7 174.2,1511.9 174.5,1513.3 174.8,1513.9 175.2,1513.5 175.5,1513.2 175.9,1509.7 176.2,1510.9 176.6,1508.2 176.9,1510.2 177.3,1511.7 177.6,1506.3 178,1507.7 178.3,1506.5 178.6,1503.3 179,1505.1 179.3,1502.6 179.7,1502.9 180,1502.3 180.4,1500.7 180.7,1501.7 181.1,1499.2 181.4,1498.7 181.8,1499.2 182.1,1497.9 182.4,1497.7 182.8,1498.4 183.1,1496.4 183.5,1498.4 183.8,1495.9 184.2,1497.5 184.5,1495.4 184.9,1494.1 185.2,1494.8 185.6,1493.9 185.9,1493.1 186.2,1490.1 186.6,1491.5 186.9,1489 187.3,1487.7 187.6,1488.1 188,1489.8 188.3,1486.8 188.7,1485.5 189,1486.6 189.4,1484.2 189.7,1485 190,1484.2 190.4,1484.1 190.7,1482.6 191.1,1482.2 191.4,1481.3 191.8,1480.5 192.1,1479.5 192.5,1480 192.8,1478.2 193.1,1476.3 193.5,1478.3 193.8,1476.2 194.2,1476.9 194.5,1475.2 194.9,1474.9 195.2,1473.7 195.6,1474.2 195.9,1471.3 196.3,1471 196.6,1473.1 196.9,1470.3 197.3,1471.4 197.6,1466.7 198,1468.6 198.3,1466.3 198.7,1465.2 199,1464.6 199.4,1463.5 199.7,1460.7 200.1,1461.5 200.4,1459.8 200.7,1459.1 201.1,1460.6 201.4,1455.9 201.8,1457.2 202.1,1455.6 202.5,1457.4 202.8,1454.9 203.2,1454.8 203.5,1455.3 203.9,1451 204.2,1451.9 204.5,1451.8 204.9,1451.2 205.2,1449.3 205.6,1448.5 205.9,1449.1 206.3,1446.9 206.6,1446.2 207,1449.3 207.3,1447.3 207.7,1447.2 208,1445 208.3,1442 208.7,1442.3 209,1444.3 209.4,1442 209.7,1439.3 210.1,1440.5 210.4,1439.2 210.8,1438.2 211.1,1439.9 211.5,1436 211.8,1436.1 212.1,1435.5 212.5,1436.4 212.8,1435.3 213.2,1434.8 213.5,1433.8 213.9,1433.2 214.2,1433 214.6,1430 214.9,1429.6 215.3,1431.2 215.6,1430 215.9,1426.5 216.3,1428.2 216.6,1425.5 217,1423.8 217.3,1426.3 217.7,1425.2 218,1424.6 218.4,1425.3 218.7,1425.6 219.1,1423.9 219.4,1420.7 219.7,1422.8 220.1,1422 220.4,1422.5 220.8,1423 221.1,1419 221.5,1423.7 221.8,1421.5 222.2,1419.3 222.5,1422.2 222.9,1420.3 223.2,1418.7 223.5,1421.1 223.9,1418.9 224.2,1420.3 224.6,1417.6 224.9,1418.4 225.3,1418.1 225.6,1416.1 226,1417.1 226.3,1416.4 226.7,1416.7 227,1419.1 227.3,1418.3 227.7,1418 228,1420.4 228.4,1416.1 228.7,1417.5 229.1,1417.6 229.4,1419.2 229.8,1418.3 230.1,1418.9 230.5,1419.6 230.8,1417.9 231.1,1421.1 231.5,1417.2 231.8,1420.5 232.2,1423.1 232.5,1422.7 232.9,1422.8 233.2,1420.4 233.6,1422.3 233.9,1421.9 234.3,1424 234.6,1420.3 234.9,1422.2 235.3,1420.9 235.6,1424.2 236,1421.4 236.3,1424 236.7,1422.1 237,1421.7 237.4,1424 237.7,1423.4 238.1,1423.5 238.4,1424.3 238.7,1423.6 239.1,1424.8 239.4,1426.1 239.8,1424.6 240.1,1425 240.5,1428.3 240.8,1427.6 241.2,1427.9 241.5,1428.5 241.9,1430.5 242.2,1429.2 242.5,1428.9 242.9,1429.3 243.2,1430.7 243.6,1428.5 243.9,1429.8 244.3,1433.5 244.6,1434.2 245,1433.6 245.3,1435.9 245.7,1435.4 246,1436.3 246.3,1438.7 246.7,1438.8 247,1441.5 247.4,1440.4 247.7,1443.3 248.1,1438.1 248.4,1439.4 248.8,1441 249.1,1442.4 249.5,1442.3 249.8,1442.4 250.1,1443.3 250.5,1443.8 250.8,1447 251.2,1444.9 251.5,1447.7 251.9,1449.5 252.2,1450.7 252.6,1449.8 252.9,1450.4 253.3,1452.7 253.6,1449.8 253.9,1450.3 254.3,1453 254.6,1454.9 255,1454.3 255.3,1452.9 255.7,1454.8 256,1456.3 256.4,1455.1 256.7,1460.9 257.1,1459.4 257.4,1459.4 257.7,1461.6 258.1,1462.1 258.4,1463.6 258.8,1464.8 259.1,1466.5 259.5,1468.4 259.8,1468.6 260.2,1468.7 260.5,1468.1 260.9,1468.9 261.2,1471.4 261.5,1474 261.9,1474.6 262.2,1475 262.6,1474.1 262.9,1476.3 263.3,1477.9 263.6,1480.1 264,1478.5 264.3,1479.7 264.7,1480.1 265,1481 265.3,1479.9 265.7,1482.9 266,1480.8 266.4,1482.5 266.7,1485.5 267.1,1484.5 267.4,1486.8 267.8,1488.5 268.1,1490.1 268.5,1491.4 268.8,1490.6 269.1,1491.5 269.5,1491.6 269.8,1492.1 270.2,1496.8 270.5,1493.7 270.9,1496.7 271.2,1494.7 271.6,1496.1 271.9,1495.3 272.3,1494.2 272.6,1499.1 272.9,1497.6 273.3,1498.7 273.6,1501.2 274,1498.7 274.3,1499.9 274.7,1501.2 275,1501.9 275.4,1498 275.7,1502.5 276.1,1505.1 276.4,1505 276.7,1504.6 277.1,1505 277.4,1504.9 277.8,1507.4 278.1,1506.2 278.5,1508 278.8,1509.5 279.2,1510.1 279.5,1510.2 279.9,1507.9 280.2,1509.1 280.5,1511 280.9,1511.5 281.2,1511.6 281.6,1509.3 281.9,1513.4 282.3,1512.7 282.6,1512.5 283,1514.8 283.3,1514.8 283.7,1515.2 284,1516.8 284.3,1515.9 284.7,1515.7 285,1516.6 285.4,1519.1 285.7,1518.9 286.1,1516.8 286.4,1522.4 286.8,1520.9 287.1,1520.5 287.5,1522.4 287.8,1521.6 288.1,1521.7 288.5,1520.6 288.8,1520.7 289.2,1522.1 289.5,1521.8 289.9,1522 290.2,1523 290.6,1522.8 290.9,1523.7 291.3,1521.8 291.6,1521.7 291.9,1522.8 292.3,1523.3 292.6,1526.7 293,1523.2 293.3,1526.8 293.7,1526 294,1524 294.4,1528.8 294.7,1526.6 295.1,1527.3 295.4,1528.4 295.7,1529.8 296.1,1528.1 296.4,1530.1 296.8,1527.8 297.1,1528 297.5,1531.6 297.8,1530.2 298.2,1530.5 298.5,1532.4 298.9,1532 299.2,1529.9 299.5,1531.3 299.9,1533.1 300.2,1531.7 300.6,1530.7 300.9,1532.9 301.3,1532.9 301.6,1529.4 302,1529.3 302.3,1533.6 302.7,1534.2 303,1531.4 303.3,1533.9 303.7,1532.9 304,1532.9 304.4,1531.1 304.7,1535.6 305.1,1535.2 305.4,1534.5 305.8,1531 306.1,1531.7 306.5,1534.6 306.8,1531.8 307.1,1531.8 307.5,1533.4 307.8,1534.1 308.2,1533.1 308.5,1533 308.9,1533.8 309.2,1533.4 309.6,1534.9 309.9,1535.4 310.3,1535.4 310.6,1533.5 310.9,1534 311.3,1534.4 311.6,1532.7 312,1532.9 312.3,1533 312.7,1535.9 313,1533 313.4,1533.8 313.7,1535.3 314.1,1536.1 314.4,1533.9 314.7,1533.9 315.1,1535.8 315.4,1536.6 315.8,1534.6 316.1,1535.7 316.5,1532.5 316.8,1536.7 317.2,1537.2 317.5,1534.8 317.9,1533.7 318.2,1533.9 318.5,1533 318.9,1531.4 319.2,1534.5 319.6,1534.8 319.9,1537.2 320.3,1534.7 320.6,1533.2 321,1534.3 321.3,1532.7 321.6,1533.7 322,1531.9 322.3,1533.4 322.7,1535 323,1535 323.4,1535.9 323.7,1536.8 324.1,1534.7 324.4,1534.5 324.8,1533.9 325.1,1536.6 325.4,1536.9 325.8,1538 326.1,1535.7 326.5,1536.3 326.8,1537 327.2,1534.8 327.5,1534.7 327.9,1538 328.2,1534.3 328.6,1535.4 328.9,1535.8 329.2,1535.9 329.6,1532.9 329.9,1532.2 330.3,1532.3 330.6,1535.9 331,1535.4 331.3,1531.9 331.7,1533.7 332,1532.6 332.4,1533.5 332.7,1528.7 333,1529.7 333.4,1530.8 333.7,1530.8 334.1,1531.7 334.4,1531.6 334.8,1530.8 335.1,1532.8 335.5,1531 335.8,1533.2 336.2,1532.7 336.5,1529.9 336.8,1531.4 337.2,1530.8 337.5,1531.1 337.9,1533.3 338.2,1530 338.6,1532.3 338.9,1527.2 339.3,1530.5 339.6,1531.4 340,1527.8 340.3,1527.2 340.6,1526 341,1528 341.3,1525 341.7,1527.2 342,1525.1 342.4,1525.7 342.7,1524 343.1,1521.9 343.4,1523.6 343.8,1521.6 344.1,1521 344.4,1522.8 344.8,1520.9 345.1,1519.4 345.5,1518.7 345.8,1516.6 346.2,1518 346.5,1513.3 346.9,1511.5 347.2,1512.2 347.6,1513.3 347.9,1511 348.2,1510.8 348.6,1508.3 348.9,1508.6 349.3,1506.8 349.6,1508.3 350,1504.5 350.3,1508.7 350.7,1505.4 351,1501.5 351.4,1502.4 351.7,1497.9 352,1498.8 352.4,1495.4 352.7,1495 353.1,1493.1 353.4,1490.5 353.8,1488.7 354.1,1487 354.5,1482.8 354.8,1484.5 355.2,1484.2 355.5,1479.9 355.8,1477.9 356.2,1475.7 356.5,1472.9 356.9,1474.2 357.2,1470.4 357.6,1468.3 357.9,1467.1 358.3,1464.5 358.6,1466.2 359,1461 359.3,1456.3 359.6,1459.1 360,1455.5 360.3,1452.4 360.7,1449.4 361,1445.8 361.4,1448.2 361.7,1442.9 362.1,1439.3 362.4,1439.7 362.8,1435.5 363.1,1429.4 363.4,1426.6 363.8,1425.2 364.1,1426.1 364.5,1419.8 364.8,1415 365.2,1413 365.5,1409.3 365.9,1400.8 366.2,1401.2 366.6,1398.5 366.9,1394.7 367.2,1391.2 367.6,1387.8 367.9,1385.1 368.3,1381 368.6,1377.5 369,1375.7 369.3,1371.2 369.7,1366.9 370,1365.4 370.4,1359 370.7,1356.4 371,1355 371.4,1349.2 371.7,1343.7 372.1,1340.7 372.4,1339.5 372.8,1334.2 373.1,1331.8 373.5,1329.3 373.8,1323.1 374.2,1320.4 374.5,1317 374.8,1313.7 375.2,1310 375.5,1308.2 375.9,1303.5 376.2,1300 376.6,1298.5 376.9,1293.6 377.3,1292.9 377.6,1287.6 378,1280.7 378.3,1276.7 378.6,1275.3 379,1272 379.3,1270.4 379.7,1264.9 380,1260.8 380.4,1260.8 380.7,1255 381.1,1252.6 381.4,1249.4 381.8,1248.8 382.1,1243.7 382.4,1244 382.8,1237.4 383.1,1236.8 383.5,1236.4 383.8,1230.1 384.2,1228.9 384.5,1228.5 384.9,1222.9 385.2,1225.6 385.6,1221.4 385.9,1218.3 386.2,1221.5 386.6,1215.7 386.9,1215.1 387.3,1213.3 387.6,1212.7 388,1208.9 388.3,1208.8 388.7,1206.3 389,1204.1 389.4,1203.4 389.7,1198.1 390,1200.5 390.4,1198.6 390.7,1197.6 391.1,1196.5 391.4,1196.1 391.8,1196 392.1,1197.4 392.5,1198.3 392.8,1197.9 393.2,1196.6 393.5,1197.3 393.8,1199.2 394.2,1201.5 394.5,1197.1 394.9,1198.9 395.2,1200.6 395.6,1201.2 395.9,1202.3 396.3,1204.7 396.6,1205.4 397,1206.2 397.3,1208 397.6,1210.2 398,1210.1 398.3,1210.7 398.7,1214.4 399,1215.7 399.4,1221.3 399.7,1219.9 400.1,1221.5 400.4,1225.3 400.8,1229.5 401.1,1230 401.4,1233.4 401.8,1234.7 402.1,1238.2 402.5,1239.9 402.8,1243.1 403.2,1247.8 403.5,1249.1 403.9,1252.8 404.2,1253.8 404.6,1258.1 404.9,1261.2 405.2,1262.4 405.6,1264.8 405.9,1269.2 406.3,1272.1 406.6,1276.5 407,1279.2 407.3,1282.4 407.7,1286.2 408,1289.7 408.4,1293.6 408.7,1294.3 409,1301.5 409.4,1304.8 409.7,1309.7 410.1,1313 410.4,1316.9 410.8,1322.7 411.1,1328 411.5,1329.9 411.8,1335.5 412.2,1336.8 412.5,1340 412.8,1342.9 413.2,1345.9 413.5,1351.2 413.9,1356.7 414.2,1361 414.6,1364.5 414.9,1366.8 415.3,1373.7 415.6,1374.8 416,1378.7 416.3,1381 416.6,1386 417,1388.9 417.3,1393.5 417.7,1396.8 418,1402.3 418.4,1403.6 418.7,1404.9 419.1,1410.4 419.4,1414.5 419.8,1420.1 420.1,1420.1 420.4,1426.1 420.8,1427.4 421.1,1432 421.5,1436 421.8,1436.9 422.2,1442 422.5,1444.3 422.9,1446.7 423.2,1450.4 423.6,1453.9 423.9,1456.7 424.2,1460.5 424.6,1462.2 424.9,1465.7 425.3,1468.6 425.6,1470.3 426,1473.4 426.3,1475.2 426.7,1476.7 427,1482.8 427.4,1482.7 427.7,1488.4 428,1489.6 428.4,1491.6 428.7,1497.1 429.1,1498.9 429.4,1498.5 429.8,1501 430.1,1503.1 430.5,1505.4 430.8,1503.4 431.2,1507.9 431.5,1510.4 431.8,1509.2 432.2,1512 432.5,1514.2 432.9,1513.5 433.2,1516.5 433.6,1516.5 433.9,1519.2 434.3,1521.9 434.6,1520.6 435,1523.2 435.3,1525.5 435.6,1526.6 436,1525.9 436.3,1529.2 436.7,1529.6 437,1529.8 437.4,1531.2 437.7,1534.8 438.1,1533.1 438.4,1533.5 438.8,1535.2 439.1,1535.1 439.4,1537.8 439.8,1537.7 440.1,1538.2 440.5,1542 440.8,1540.2 441.2,1540.7 441.5,1543 441.9,1541.8 442.2,1543.6 442.6,1545.7 442.9,1543.1 443.2,1545.6 443.6,1545.2 443.9,1545.9 444.3,1544.8 444.6,1546.6 445,1548.3 445.3,1548.1 445.7,1547.6 446,1549.9 446.4,1550.6 446.7,1550.4 447,1551.3 447.4,1550.4 447.7,1549.9 448.1,1548.8 448.4,1549.7 448.8,1550.1 449.1,1551.2 449.5,1551.1 449.8,1552.7 450.1,1551.7 450.5,1552.4 450.8,1553 451.2,1553.2 451.5,1553.1 451.9,1552.5 452.2,1553.3 452.6,1550 452.9,1550.9 453.3,1551.4 453.6,1550.2 453.9,1549.2 454.3,1550.7 454.6,1550.5 455,1552.3 455.3,1553.9 455.7,1553.4 456,1549.9 456.4,1554.7 456.7,1551.3 457.1,1550.6 457.4,1553.1 457.7,1551.3 458.1,1550.3 458.4,1551.5 458.8,1549.3 459.1,1551.4 459.5,1552 459.8,1549.4 460.2,1550.8 460.5,1552.1 460.9,1552.2 461.2,1546.4 461.5,1550.3 461.9,1549.8 462.2,1550.2 462.6,1549 462.9,1549.1 463.3,1550.1 463.6,1551.3 464,1550.5 464.3,1549.4 464.7,1548.1 465,1545.1 465.3,1546.1 465.7,1544.9 466,1546.6 466.4,1547.5 466.7,1548.3 467.1,1546.5 467.4,1550 467.8,1546.8 468.1,1544.2 468.5,1545.8 468.8,1544.4 469.1,1546.1 469.5,1546.6 469.8,1544.7 470.2,1544.7 470.5,1541.6 470.9,1540.2 471.2,1544 471.6,1542.6 471.9,1542.6 472.3,1542.3 472.6,1543.6 472.9,1541.9 473.3,1541.8 473.6,1541.1 474,1543.9 474.3,1542.4 474.7,1544.4 475,1542.4 475.4,1545.2 475.7,1544.6 476.1,1544.9 476.4,1545.6 476.7,1546.5 477.1,1547.5 477.4,1542.8 477.8,1544.3 478.1,1544.4 478.5,1540.8 478.8,1543.5 479.2,1543.5 479.5,1543.9 479.9,1542.1 480.2,1542.5 480.5,1543.3 480.9,1543.4 481.2,1542.8 481.6,1541.6 481.9,1546.9 482.3,1544 482.6,1543.7 483,1543.1 483.3,1545.3 483.7,1542.3 484,1543.7 484.3,1543.6 484.7,1543.8 485,1545.6 485.4,1543.5 485.7,1545.5 486.1,1544.3 486.4,1544.1 486.8,1543.8 487.1,1543.3 487.5,1543.8 487.8,1540.4 488.1,1542.8 488.5,1545.3 488.8,1544.5 489.2,1544 489.5,1543.2 489.9,1543.3 490.2,1543.2 490.6,1540.1 490.9,1542.4 491.3,1542.6 491.6,1542 491.9,1540.9 492.3,1538.6 492.6,1540.1 493,1539.4 493.3,1544.9 493.7,1540.6 494,1539.4 494.4,1538 494.7,1541 495.1,1543.4 495.4,1540.7 495.7,1543.2 496.1,1544.8 496.4,1544.1 496.8,1541.3 497.1,1540.8 497.5,1541.3 497.8,1543.4 498.2,1539 498.5,1544 498.9,1542.4 499.2,1543.6 499.5,1540 499.9,1540 500.2,1539.9 500.6,1541.5 500.9,1542.7 501.3,1542.1 501.6,1544.5 502,1540.6 502.3,1540.1 502.7,1540.9 503,1540.3 503.3,1539.7 503.7,1537.7 504,1538.7 504.4,1538.3 504.7,1538.7 505.1,1539.7 505.4,1538.9 505.8,1538.8 506.1,1539.8 506.5,1539.6 506.8,1538.9 507.1,1539.9 507.5,1539.6 507.8,1538.8 508.2,1540.1 508.5,1539.9 508.9,1539.2 509.2,1541.2 509.6,1537.2 509.9,1540.2 510.3,1537.5 510.6,1538.6 510.9,1537.6 511.3,1539.2 511.6,1540.1 512,1537.7 512.3,1539 512.7,1539.3 513,1539.9 513.4,1538.5 513.7,1538.8 514.1,1539.1 514.4,1541.7 514.7,1539.3 515.1,1538.7 515.4,1536.6 515.8,1538.3 516.1,1538.7 516.5,1536.8 516.8,1538.3 517.2,1538.7 517.5,1538.6 517.9,1540.7 518.2,1538.3 518.5,1539 518.9,1540.2 519.2,1540.9 519.6,1540.1 519.9,1538.7 520.3,1541.4 520.6,1542.3 521,1540.3 521.3,1542.9 521.7,1544.3 522,1541.8 522.3,1541.7 522.7,1541.5 523,1541.5 523.4,1539.8 523.7,1540.5 524.1,1540.3 524.4,1540.7 524.8,1539.5 525.1,1539 525.5,1538.9 525.8,1539.2 526.1,1544 526.5,1540.5 526.8,1540 527.2,1539.7 527.5,1542.2 527.9,1537.4 528.2,1539.2 528.6,1540.1 528.9,1539.2 529.3,1540 529.6,1539.8 529.9,1538.3 530.3,1539.2 530.6,1540.6 531,1539.3 531.3,1539.4 531.7,1539.9 532,1537 532.4,1540.3 532.7,1536.5 533.1,1537.8 533.4,1540.2 533.7,1539 534.1,1538.1 534.4,1539.6 534.8,1540.4 535.1,1538.8 535.5,1536.6 535.8,1540.7 536.2,1538.6 536.5,1539.6 536.9,1540.5 537.2,1541.2 537.5,1540.5 537.9,1539.6 538.2,1540.6 538.6,1542.4 538.9,1539.4 539.3,1542.9 539.6,1540.4 540,1541.1 540.3,1539.3 540.7,1540.2 541,1539.5 541.3,1541 541.7,1540 542,1541.2 542.4,1537.9 542.7,1541.5 543.1,1539.4 543.4,1540.3 543.8,1540.6 544.1,1541.6 544.5,1539.9 544.8,1541.5 545.1,1541.4 545.5,1538.5 545.8,1542 546.2,1538.8 546.5,1540.5 546.9,1540.1 547.2,1540.7 547.6,1540.4 547.9,1541.3 548.3,1541.4 548.6,1540.8 548.9,1539.5 549.3,1539.2 549.6,1538.7 550,1539.7 550.3,1540 550.7,1542 551,1538.8 551.4,1538.8 551.7,1541 552.1,1538.9 552.4,1537.7 552.7,1540.1 553.1,1538.8 553.4,1540.1 553.8,1542.8 554.1,1540.8 554.5,1540.8 554.8,1539.3 555.2,1540.7 555.5,1540.8 555.9,1541.9 556.2,1540.2 556.5,1540 556.9,1539 557.2,1539.7 557.6,1540.6 557.9,1540.6 558.3,1540.6 558.6,1541.1 559,1539.4 559.3,1544.8 559.7,1541.6 560,1541.4 560.3,1539.9 560.7,1542.7 561,1541.3 561.4,1540.4 561.7,1542.5 562.1,1544.1 562.4,1542 562.8,1542.5 563.1,1540.1 563.5,1541.3 563.8,1537.9 564.1,1540.3 564.5,1541.1 564.8,1540.7 565.2,1540.6 565.5,1538.6 565.9,1537.3 566.2,1539.7 566.6,1538.4 566.9,1541.4 567.3,1540.1 567.6,1538.3 567.9,1543.1 568.3,1539.5 568.6,1540.1 569,1544.9 569.3,1544.1 569.7,1544.3 570,1541.2 570.4,1543 570.7,1542.8 571.1,1540.5 571.4,1541.4 571.7,1541.4 572.1,1542.2 572.4,1540 572.8,1542.2 573.1,1538.9 573.5,1541.7 573.8,1542.4 574.2,1540.5 574.5,1541.6 574.9,1543.9 575.2,1540.8 575.5,1543.3 575.9,1541.7 576.2,1539.8 576.6,1541.5 576.9,1540.5 577.3,1541.5 577.6,1537.7 578,1539.7 578.3,1542.2 578.6,1542 579,1541 579.3,1540.6 579.7,1541 580,1540 580.4,1540.9 580.7,1540.8 581.1,1540.9 581.4,1541.8 581.8,1540.9 582.1,1540.7 582.4,1541.1 582.8,1541.6 583.1,1543.4 583.5,1541.6 583.8,1540.2 584.2,1544.1 584.5,1541.2 584.9,1539.8 585.2,1541.1 585.6,1542.2 585.9,1538.2 586.2,1539.8 586.6,1541.2 586.9,1539.2 587.3,1539.4 587.6,1541.8 588,1536.8 588.3,1541.3 588.7,1540.1 589,1540.4 589.4,1538.7 589.7,1540.4 590,1539.3 590.4,1538.2 590.7,1539.4 591.1,1541 591.4,1539 591.8,1542.3 592.1,1539.9 592.5,1541.7 592.8,1541.8 593.2,1541.7 593.5,1541.4 593.8,1541.8 594.2,1542.6 594.5,1541.6 594.9,1540.6 595.2,1540.9 595.6,1542.5 595.9,1542.4 596.3,1542.7 596.6,1541.9 597,1541.9 597.3,1541.4 597.6,1542.1 598,1541.3 598.3,1542.5 598.7,1544.4 599,1540.3 599.4,1542.7 599.7,1541.8 600.1,1542.1 600.4,1539.6 600.8,1542.6 601.1,1541 601.4,1542.7 601.8,1543.8 602.1,1545.1 602.5,1542.9 602.8,1542.6 603.2,1542.1 603.5,1540.4 603.9,1542 604.2,1541.8 604.6,1542.6 604.9,1541.9 605.2,1543.6 605.6,1543.4 605.9,1539.4 606.3,1544.8 606.6,1541.8 607,1541.6 607.3,1541.8 607.7,1543.5 608,1542.4 608.4,1543.1 608.7,1543 609,1542.1 609.4,1541.8 609.7,1541.7 610.1,1540 610.4,1542.6 610.8,1540.9 611.1,1542.4 611.5,1540.6 611.8,1540.3 612.2,1540.5 612.5,1542.4 612.8,1542.5 613.2,1541.9 613.5,1540.6 613.9,1539.4 614.2,1538.6 614.6,1540.3 614.9,1539.9 615.3,1542.5 615.6,1543.2 616,1541.1 616.3,1541.4 616.6,1543.4 617,1544 617.3,1541.7 617.7,1544.3 618,1545 618.4,1539.9 618.7,1542.5 619.1,1542.9 619.4,1541.4 619.8,1543.3 620.1,1540.2 620.4,1543.3 620.8,1542.3 621.1,1540.7 621.5,1541.5 621.8,1538.5 622.2,1541.6 622.5,1540.9 622.9,1539.5 623.2,1538.5 623.6,1538 623.9,1538.6 624.2,1536 624.6,1539.5 624.9,1538 625.3,1537.4 625.6,1539.5 626,1539.2 626.3,1539.4 626.7,1539.4 627,1539.7 627.4,1538.7 627.7,1540.1 628,1536.6 628.4,1538.7 628.7,1533.5 629.1,1534.4 629.4,1535.1 629.8,1537.4 630.1,1537.9 630.5,1535.5 630.8,1537.6 631.2,1537.6 631.5,1539.7 631.8,1538.4 632.2,1541.7 632.5,1539.2 632.9,1541.2 633.2,1539.4 633.6,1537.8 633.9,1539.3 634.3,1538.8 634.6,1536.3 635,1536.8 635.3,1534.7 635.6,1538.4 636,1535.1 636.3,1534.5 636.7,1536.8 637,1536.6 637.4,1534.1 637.7,1536.7 638.1,1537 638.4,1535.2 638.8,1536.4 639.1,1535.3 639.4,1536.7 639.8,1534.6 640.1,1533.2 640.5,1534.4 640.8,1536.7 641.2,1533 641.5,1533.6 641.9,1535 642.2,1531.2 642.6,1534.2 642.9,1529.3" fill="none" stroke="#000" stroke-width="2.7" stroke-linejoin="round" stroke-linecap="butt"/>
<polyline points="326.5,1544.7 499.1,1544.7" fill="none" stroke="#ff0000" stroke-width="3.1" stroke-linejoin="round" stroke-linecap="butt"/>
<polyline points="125.1,1544.7 327.9,1544.7" fill="none" stroke="#008000" stroke-width="3.1" stroke-linejoin="round" stroke-linecap="butt"/>
<polyline points="125.1,1544 125.4,1543.9 125.8,1543.9 126.1,1543.9 126.5,1543.9 126.8,1543.8 127.2,1543.8 127.5,1543.8 127.9,1543.7 128.2,1543.7 128.6,1543.7 128.9,1543.6 129.2,1543.6 129.6,1543.6 129.9,1543.5 130.3,1543.5 130.6,1543.5 131,1543.4 131.3,1543.4 131.7,1543.3 132,1543.3 132.4,1543.3 132.7,1543.2 133,1543.2 133.4,1543.1 133.7,1543.1 134.1,1543 134.4,1543 134.8,1542.9 135.1,1542.8 135.5,1542.8 135.8,1542.7 136.2,1542.7 136.5,1542.6 136.8,1542.5 137.2,1542.5 137.5,1542.4 137.9,1542.3 138.2,1542.3 138.6,1542.2 138.9,1542.1 139.3,1542 139.6,1542 140,1541.9 140.3,1541.8 140.6,1541.7 141,1541.6 141.3,1541.5 141.7,1541.4 142,1541.3 142.4,1541.3 142.7,1541.2 143.1,1541.1 143.4,1540.9 143.8,1540.8 144.1,1540.7 144.4,1540.6 144.8,1540.5 145.1,1540.4 145.5,1540.3 145.8,1540.1 146.2,1540 146.5,1539.9 146.9,1539.8 147.2,1539.6 147.6,1539.5 147.9,1539.3 148.2,1539.2 148.6,1539.1 148.9,1538.9 149.3,1538.8 149.6,1538.6 150,1538.4 150.3,1538.3 150.7,1538.1 151,1537.9 151.4,1537.8 151.7,1537.6 152,1537.4 152.4,1537.2 152.7,1537 153.1,1536.8 153.4,1536.6 153.8,1536.4 154.1,1536.2 154.5,1536 154.8,1535.8 155.2,1535.6 155.5,1535.4 155.8,1535.1 156.2,1534.9 156.5,1534.7 156.9,1534.4 157.2,1534.2 157.6,1533.9 157.9,1533.7 158.3,1533.4 158.6,1533.1 159,1532.9 159.3,1532.6 159.6,1532.3 160,1532 160.3,1531.7 160.7,1531.5 161,1531.2 161.4,1530.8 161.7,1530.5 162.1,1530.2 162.4,1529.9 162.8,1529.6 163.1,1529.2 163.4,1528.9 163.8,1528.6 164.1,1528.2 164.5,1527.9 164.8,1527.5 165.2,1527.1 165.5,1526.8 165.9,1526.4 166.2,1526 166.6,1525.6 166.9,1525.2 167.2,1524.8 167.6,1524.4 167.9,1524 168.3,1523.6 168.6,1523.2 169,1522.7 169.3,1522.3 169.7,1521.9 170,1521.4 170.4,1521 170.7,1520.5 171,1520 171.4,1519.6 171.7,1519.1 172.1,1518.6 172.4,1518.1 172.8,1517.6 173.1,1517.1 173.5,1516.6 173.8,1516.1 174.2,1515.6 174.5,1515 174.8,1514.5 175.2,1514 175.5,1513.4 175.9,1512.9 176.2,1512.3 176.6,1511.7 176.9,1511.2 177.3,1510.6 177.6,1510 178,1509.4 178.3,1508.8 178.6,1508.2 179,1507.6 179.3,1507 179.7,1506.4 180,1505.8 180.4,1505.1 180.7,1504.5 181.1,1503.9 181.4,1503.2 181.8,1502.6 182.1,1501.9 182.4,1501.2 182.8,1500.6 183.1,1499.9 183.5,1499.2 183.8,1498.5 184.2,1497.8 184.5,1497.2 184.9,1496.5 185.2,1495.7 185.6,1495 185.9,1494.3 186.2,1493.6 186.6,1492.9 186.9,1492.2 187.3,1491.4 187.6,1490.7 188,1490 188.3,1489.2 188.7,1488.5 189,1487.7 189.4,1487 189.7,1486.2 190,1485.5 190.4,1484.7 190.7,1483.9 191.1,1483.2 191.4,1482.4 191.8,1481.6 192.1,1480.9 192.5,1480.1 192.8,1479.3 193.1,1478.5 193.5,1477.8 193.8,1477 194.2,1476.2 194.5,1475.4 194.9,1474.6 195.2,1473.8 195.6,1473 195.9,1472.2 196.3,1471.5 196.6,1470.7 196.9,1469.9 197.3,1469.1 197.6,1468.3 198,1467.5 198.3,1466.7 198.7,1465.9 199,1465.1 199.4,1464.4 199.7,1463.6 200.1,1462.8 200.4,1462 200.7,1461.2 201.1,1460.5 201.4,1459.7 201.8,1458.9 202.1,1458.1 202.5,1457.4 202.8,1456.6 203.2,1455.8 203.5,1455.1 203.9,1454.3 204.2,1453.6 204.5,1452.9 204.9,1452.1 205.2,1451.4 205.6,1450.6 205.9,1449.9 206.3,1449.2 206.6,1448.5 207,1447.8 207.3,1447.1 207.7,1446.4 208,1445.7 208.3,1445 208.7,1444.3 209,1443.7 209.4,1443 209.7,1442.3 210.1,1441.7 210.4,1441 210.8,1440.4 211.1,1439.8 211.5,1439.2 211.8,1438.6 212.1,1438 212.5,1437.4 212.8,1436.8 213.2,1436.2 213.5,1435.6 213.9,1435.1 214.2,1434.5 214.6,1434 214.9,1433.5 215.3,1433 215.6,1432.5 215.9,1432 216.3,1431.5 216.6,1431 217,1430.5 217.3,1430.1 217.7,1429.6 218,1429.2 218.4,1428.8 218.7,1428.4 219.1,1428 219.4,1427.6 219.7,1427.2 220.1,1426.9 220.4,1426.5 220.8,1426.2 221.1,1425.9 221.5,1425.6 221.8,1425.3 222.2,1425 222.5,1424.7 222.9,1424.5 223.2,1424.2 223.5,1424 223.9,1423.8 224.2,1423.6 224.6,1423.4 224.9,1423.2 225.3,1423 225.6,1422.9 226,1422.7 226.3,1422.6 226.7,1422.5 227,1422.4 227.3,1422.3 227.7,1422.3 228,1422.2 228.4,1422.2 228.7,1422.1 229.1,1422.1 229.4,1422.1 229.8,1422.1 230.1,1422.2 230.5,1422.2 230.8,1422.3 231.1,1422.4 231.5,1422.4 231.8,1422.6 232.2,1422.7 232.5,1422.8 232.9,1423 233.2,1423.1 233.6,1423.3 233.9,1423.5 234.3,1423.7 234.6,1423.9 234.9,1424.2 235.3,1424.4 235.6,1424.7 236,1424.9 236.3,1425.2 236.7,1425.5 237,1425.9 237.4,1426.2 237.7,1426.5 238.1,1426.9 238.4,1427.3 238.7,1427.7 239.1,1428.1 239.4,1428.5 239.8,1428.9 240.1,1429.3 240.5,1429.8 240.8,1430.3 241.2,1430.7 241.5,1431.2 241.9,1431.7 242.2,1432.2 242.5,1432.7 242.9,1433.3 243.2,1433.8 243.6,1434.4 243.9,1434.9 244.3,1435.5 244.6,1436.1 245,1436.7 245.3,1437.3 245.7,1437.9 246,1438.5 246.3,1439.2 246.7,1439.8 247,1440.5 247.4,1441.1 247.7,1441.8 248.1,1442.5 248.4,1443.1 248.8,1443.8 249.1,1444.5 249.5,1445.2 249.8,1446 250.1,1446.7 250.5,1447.4 250.8,1448.1 251.2,1448.9 251.5,1449.6 251.9,1450.4 252.2,1451.1 252.6,1451.9 252.9,1452.7 253.3,1453.4 253.6,1454.2 253.9,1455 254.3,1455.8 254.6,1456.6 255,1457.4 255.3,1458.2 255.7,1459 256,1459.8 256.4,1460.6 256.7,1461.4 257.1,1462.2 257.4,1463 257.7,1463.8 258.1,1464.6 258.4,1465.4 258.8,1466.3 259.1,1467.1 259.5,1467.9 259.8,1468.7 260.2,1469.5 260.5,1470.4 260.9,1471.2 261.2,1472 261.5,1472.8 261.9,1473.6 262.2,1474.5 262.6,1475.3 262.9,1476.1 263.3,1476.9 263.6,1477.7 264,1478.5 264.3,1479.3 264.7,1480.2 265,1481 265.3,1481.8 265.7,1482.6 266,1483.4 266.4,1484.2 266.7,1484.9 267.1,1485.7 267.4,1486.5 267.8,1487.3 268.1,1488.1 268.5,1488.9 268.8,1489.6 269.1,1490.4 269.5,1491.2 269.8,1491.9 270.2,1492.7 270.5,1493.4 270.9,1494.2 271.2,1494.9 271.6,1495.6 271.9,1496.4 272.3,1497.1 272.6,1497.8 272.9,1498.5 273.3,1499.2 273.6,1500 274,1500.7 274.3,1501.3 274.7,1502 275,1502.7 275.4,1503.4 275.7,1504.1 276.1,1504.7 276.4,1505.4 276.7,1506 277.1,1506.7 277.4,1507.3 277.8,1508 278.1,1508.6 278.5,1509.2 278.8,1509.8 279.2,1510.4 279.5,1511 279.9,1511.6 280.2,1512.2 280.5,1512.8 280.9,1513.4 281.2,1513.9 281.6,1514.5 281.9,1515 282.3,1515.6 282.6,1516.1 283,1516.7 283.3,1517.2 283.7,1517.7 284,1518.2 284.3,1518.7 284.7,1519.2 285,1519.7 285.4,1520.2 285.7,1520.7 286.1,1521.2 286.4,1521.7 286.8,1522.1 287.1,1522.6 287.5,1523 287.8,1523.5 288.1,1523.9 288.5,1524.3 288.8,1524.8 289.2,1525.2 289.5,1525.6 289.9,1526 290.2,1526.4 290.6,1526.8 290.9,1527.2 291.3,1527.5 291.6,1527.9 291.9,1528.3 292.3,1528.6 292.6,1529 293,1529.3 293.3,1529.7 293.7,1530 294,1530.3 294.4,1530.7 294.7,1531 295.1,1531.3 295.4,1531.6 295.7,1531.9 296.1,1532.2 296.4,1532.5 296.8,1532.8 297.1,1533.1 297.5,1533.3 297.8,1533.6 298.2,1533.9 298.5,1534.1 298.9,1534.4 299.2,1534.7 299.5,1534.9 299.9,1535.1 300.2,1535.4 300.6,1535.6 300.9,1535.8 301.3,1536 301.6,1536.3 302,1536.5 302.3,1536.7 302.7,1536.9 303,1537.1 303.3,1537.3 303.7,1537.5 304,1537.7 304.4,1537.8 304.7,1538 305.1,1538.2 305.4,1538.4 305.8,1538.5 306.1,1538.7 306.5,1538.9 306.8,1539 307.1,1539.2 307.5,1539.3 307.8,1539.5 308.2,1539.6 308.5,1539.7 308.9,1539.9 309.2,1540 309.6,1540.1 309.9,1540.2 310.3,1540.4 310.6,1540.5 310.9,1540.6 311.3,1540.7 311.6,1540.8 312,1540.9 312.3,1541 312.7,1541.1 313,1541.2 313.4,1541.3 313.7,1541.4 314.1,1541.5 314.4,1541.6 314.7,1541.6 315.1,1541.7 315.4,1541.8 315.8,1541.9 316.1,1541.9 316.5,1542 316.8,1542.1 317.2,1542.1 317.5,1542.2 317.9,1542.2 318.2,1542.3 318.5,1542.3 318.9,1542.4 319.2,1542.4 319.6,1542.5 319.9,1542.5 320.3,1542.5 320.6,1542.6 321,1542.6 321.3,1542.6 321.6,1542.6 322,1542.7 322.3,1542.7 322.7,1542.7 323,1542.7 323.4,1542.7 323.7,1542.7 324.1,1542.7 324.4,1542.7 324.8,1542.7 325.1,1542.7 325.4,1542.7 325.8,1542.6 326.1,1542.6 326.5,1542.6 326.8,1542.5 327.2,1542.5 327.5,1542.4 327.9,1542.4 328.2,1542.3 328.6,1542.3 328.9,1542.2 329.2,1542.1 329.6,1542 329.9,1542 330.3,1541.9 330.6,1541.8 331,1541.7 331.3,1541.5 331.7,1541.4 332,1541.3 332.4,1541.1 332.7,1541 333,1540.8 333.4,1540.7 333.7,1540.5 334.1,1540.3 334.4,1540.1 334.8,1539.9 335.1,1539.7 335.5,1539.5 335.8,1539.2 336.2,1539 336.5,1538.7 336.8,1538.4 337.2,1538.1 337.5,1537.8 337.9,1537.5 338.2,1537.2 338.6,1536.8 338.9,1536.5 339.3,1536.1 339.6,1535.7 340,1535.3 340.3,1534.8 340.6,1534.4 341,1533.9 341.3,1533.4 341.7,1532.9 342,1532.4 342.4,1531.8 342.7,1531.2 343.1,1530.6 343.4,1530 343.8,1529.3 344.1,1528.7 344.4,1528 344.8,1527.3 345.1,1526.5 345.5,1525.7 345.8,1524.9 346.2,1524.1 346.5,1523.2 346.9,1522.3 347.2,1521.4 347.6,1520.4 347.9,1519.4 348.2,1518.4 348.6,1517.4 348.9,1516.3 349.3,1515.1 349.6,1514 350,1512.8 350.3,1511.5 350.7,1510.3 351,1508.9 351.4,1507.6 351.7,1506.2 352,1504.8 352.4,1503.3 352.7,1501.8 353.1,1500.2 353.4,1498.6 353.8,1497 354.1,1495.3 354.5,1493.6 354.8,1491.8 355.2,1490 355.5,1488.1 355.8,1486.2 356.2,1484.2 356.5,1482.2 356.9,1480.2 357.2,1478.1 357.6,1475.9 357.9,1473.7 358.3,1471.5 358.6,1469.2 359,1466.9 359.3,1464.5 359.6,1462.1 360,1459.6 360.3,1457.1 360.7,1454.5 361,1451.9 361.4,1449.2 361.7,1446.5 362.1,1443.8 362.4,1441 362.8,1438.1 363.1,1435.2 363.4,1432.3 363.8,1429.3 364.1,1426.3 364.5,1423.2 364.8,1420.1 365.2,1417 365.5,1413.8 365.9,1410.6 366.2,1407.3 366.6,1404 366.9,1400.7 367.2,1397.3 367.6,1393.9 367.9,1390.5 368.3,1387.1 368.6,1383.6 369,1380.1 369.3,1376.5 369.7,1373 370,1369.4 370.4,1365.8 370.7,1362.2 371,1358.6 371.4,1354.9 371.7,1351.3 372.1,1347.6 372.4,1343.9 372.8,1340.3 373.1,1336.6 373.5,1332.9 373.8,1329.2 374.2,1325.6 374.5,1321.9 374.8,1318.2 375.2,1314.6 375.5,1311 375.9,1307.3 376.2,1303.7 376.6,1300.2 376.9,1296.6 377.3,1293.1 377.6,1289.6 378,1286.1 378.3,1282.7 378.6,1279.3 379,1275.9 379.3,1272.6 379.7,1269.3 380,1266.1 380.4,1262.9 380.7,1259.7 381.1,1256.7 381.4,1253.6 381.8,1250.7 382.1,1247.8 382.4,1245 382.8,1242.2 383.1,1239.5 383.5,1236.9 383.8,1234.3 384.2,1231.8 384.5,1229.4 384.9,1227.1 385.2,1224.8 385.6,1222.7 385.9,1220.6 386.2,1218.6 386.6,1216.7 386.9,1214.9 387.3,1213.2 387.6,1211.6 388,1210.1 388.3,1208.6 388.7,1207.3 389,1206.1 389.4,1204.9 389.7,1203.9 390,1203 390.4,1202.1 390.7,1201.4 391.1,1200.8 391.4,1200.3 391.8,1199.9 392.1,1199.6 392.5,1199.4 392.8,1199.3 393.2,1199.3 393.5,1199.5 393.8,1199.7 394.2,1200 394.5,1200.5 394.9,1201 395.2,1201.7 395.6,1202.4 395.9,1203.3 396.3,1204.3 396.6,1205.3 397,1206.5 397.3,1207.8 397.6,1209.1 398,1210.6 398.3,1212.2 398.7,1213.8 399,1215.6 399.4,1217.4 399.7,1219.3 400.1,1221.4 400.4,1223.5 400.8,1225.7 401.1,1227.9 401.4,1230.3 401.8,1232.7 402.1,1235.2 402.5,1237.8 402.8,1240.5 403.2,1243.2 403.5,1246 403.9,1248.8 404.2,1251.8 404.6,1254.8 404.9,1257.8 405.2,1260.9 405.6,1264 405.9,1267.2 406.3,1270.5 406.6,1273.8 407,1277.1 407.3,1280.5 407.7,1283.9 408,1287.4 408.4,1290.8 408.7,1294.4 409,1297.9 409.4,1301.5 409.7,1305.1 410.1,1308.7 410.4,1312.3 410.8,1315.9 411.1,1319.6 411.5,1323.2 411.8,1326.9 412.2,1330.6 412.5,1334.3 412.8,1337.9 413.2,1341.6 413.5,1345.3 413.9,1349 414.2,1352.6 414.6,1356.3 414.9,1359.9 415.3,1363.5 415.6,1367.1 416,1370.7 416.3,1374.3 416.6,1377.8 417,1381.4 417.3,1384.9 417.7,1388.3 418,1391.8 418.4,1395.2 418.7,1398.6 419.1,1401.9 419.4,1405.2 419.8,1408.5 420.1,1411.8 420.4,1415 420.8,1418.1 421.1,1421.3 421.5,1424.4 421.8,1427.4 422.2,1430.4 422.5,1433.4 422.9,1436.3 423.2,1439.2 423.6,1442 423.9,1444.8 424.2,1447.5 424.6,1450.2 424.9,1452.9 425.3,1455.5 425.6,1458 426,1460.5 426.3,1463 426.7,1465.4 427,1467.8 427.4,1470.1 427.7,1472.4 428,1474.6 428.4,1476.8 428.7,1478.9 429.1,1481 429.4,1483 429.8,1485 430.1,1486.9 430.5,1488.8 430.8,1490.7 431.2,1492.5 431.5,1494.2 431.8,1496 432.2,1497.6 432.5,1499.3 432.9,1500.8 433.2,1502.4 433.6,1503.9 433.9,1505.4 434.3,1506.8 434.6,1508.2 435,1509.5 435.3,1510.8 435.6,1512.1 436,1513.3 436.3,1514.5 436.7,1515.6 437,1516.7 437.4,1517.8 437.7,1518.9 438.1,1519.9 438.4,1520.9 438.8,1521.8 439.1,1522.8 439.4,1523.6 439.8,1524.5 440.1,1525.3 440.5,1526.1 440.8,1526.9 441.2,1527.7 441.5,1528.4 441.9,1529.1 442.2,1529.7 442.6,1530.4 442.9,1531 443.2,1531.6 443.6,1532.2 443.9,1532.7 444.3,1533.3 444.6,1533.8 445,1534.3 445.3,1534.8 445.7,1535.2 446,1535.6 446.4,1536.1 446.7,1536.5 447,1536.9 447.4,1537.2 447.7,1537.6 448.1,1537.9 448.4,1538.3 448.8,1538.6 449.1,1538.9 449.5,1539.1 449.8,1539.4 450.1,1539.7 450.5,1539.9 450.8,1540.2 451.2,1540.4 451.5,1540.6 451.9,1540.8 452.2,1541 452.6,1541.2 452.9,1541.4 453.3,1541.6 453.6,1541.7 453.9,1541.9 454.3,1542 454.6,1542.2 455,1542.3 455.3,1542.4 455.7,1542.6 456,1542.7 456.4,1542.8 456.7,1542.9 457.1,1543 457.4,1543.1 457.7,1543.2 458.1,1543.3 458.4,1543.3 458.8,1543.4 459.1,1543.5 459.5,1543.6 459.8,1543.6 460.2,1543.7 460.5,1543.8 460.9,1543.8 461.2,1543.9 461.5,1543.9 461.9,1544 462.2,1544 462.6,1544 462.9,1544.1 463.3,1544.1 463.6,1544.2 464,1544.2 464.3,1544.2 464.7,1544.2 465,1544.3 465.3,1544.3 465.7,1544.3 466,1544.3 466.4,1544.4 466.7,1544.4 467.1,1544.4 467.4,1544.4 467.8,1544.4 468.1,1544.5 468.5,1544.5 468.8,1544.5 469.1,1544.5 469.5,1544.5 469.8,1544.5 470.2,1544.5 470.5,1544.5 470.9,1544.6 471.2,1544.6 471.6,1544.6 471.9,1544.6 472.3,1544.6 472.6,1544.6 472.9,1544.6 473.3,1544.6 473.6,1544.6 474,1544.6 474.3,1544.6 474.7,1544.6 475,1544.6 475.4,1544.6 475.7,1544.6 476.1,1544.6 476.4,1544.6 476.7,1544.7 477.1,1544.7 477.4,1544.7 477.8,1544.7 478.1,1544.7 478.5,1544.7 478.8,1544.7 479.2,1544.7 479.5,1544.7 479.9,1544.7 480.2,1544.7 480.5,1544.7 480.9,1544.7 481.2,1544.7 481.6,1544.7 481.9,1544.7 482.3,1544.7 482.6,1544.7 483,1544.7 483.3,1544.7 483.7,1544.7 484,1544.7 484.3,1544.7 484.7,1544.7 485,1544.7 485.4,1544.7 485.7,1544.7 486.1,1544.7 486.4,1544.7 486.8,1544.7 487.1,1544.7 487.5,1544.7 487.8,1544.7 488.1,1544.7 488.5,1544.7 488.8,1544.7 489.2,1544.7 489.5,1544.7 489.9,1544.7 490.2,1544.7 490.6,1544.7 490.9,1544.7 491.3,1544.7 491.6,1544.7 491.9,1544.7 492.3,1544.7 492.6,1544.7 493,1544.7 493.3,1544.7 493.7,1544.7 494,1544.7 494.4,1544.7 494.7,1544.7 495.1,1544.7 495.4,1544.7 495.7,1544.7 496.1,1544.7 496.4,1544.7 496.8,1544.7 497.1,1544.7 497.5,1544.7 497.8,1544.7 498.2,1544.7 498.5,1544.7 498.9,1544.7 499.2,1544.7 499.5,1544.7 499.9,1544.7 500.2,1544.7 500.6,1544.7 500.9,1544.7 501.3,1544.7 501.6,1544.7 502,1544.7 502.3,1544.7 502.7,1544.7 503,1544.7 503.3,1544.7 503.7,1544.7 504,1544.7 504.4,1544.7 504.7,1544.7 505.1,1544.7 505.4,1544.7 505.8,1544.7 506.1,1544.7 506.5,1544.7 506.8,1544.7 507.1,1544.7 507.5,1544.7 507.8,1544.7 508.2,1544.7 508.5,1544.7 508.9,1544.7 509.2,1544.7 509.6,1544.7 509.9,1544.7 510.3,1544.7 510.6,1544.7 510.9,1544.7 511.3,1544.7 511.6,1544.7 512,1544.7 512.3,1544.7 512.7,1544.7 513,1544.7 513.4,1544.7 513.7,1544.7 514.1,1544.7 514.4,1544.7 514.7,1544.7 515.1,1544.7 515.4,1544.7 515.8,1544.7 516.1,1544.7 516.5,1544.7 516.8,1544.7 517.2,1544.7 517.5,1544.7 517.9,1544.7 518.2,1544.7 518.5,1544.7 518.9,1544.7 519.2,1544.7 519.6,1544.7 519.9,1544.7 520.3,1544.7 520.6,1544.7 521,1544.7 521.3,1544.7 521.7,1544.7 522,1544.7 522.3,1544.7 522.7,1544.7 523,1544.7 523.4,1544.7 523.7,1544.7 524.1,1544.7 524.4,1544.7 524.8,1544.7 525.1,1544.7 525.5,1544.7 525.8,1544.7 526.1,1544.7 526.5,1544.7 526.8,1544.7 527.2,1544.7 527.5,1544.7 527.9,1544.7 528.2,1544.7 528.6,1544.7 528.9,1544.7 529.3,1544.7 529.6,1544.7 529.9,1544.7 530.3,1544.7 530.6,1544.7 531,1544.7 531.3,1544.7 531.7,1544.7 532,1544.7 532.4,1544.7 532.7,1544.7 533.1,1544.7 533.4,1544.7 533.7,1544.7 534.1,1544.7 534.4,1544.7 534.8,1544.7 535.1,1544.7 535.5,1544.7 535.8,1544.7 536.2,1544.7 536.5,1544.7 536.9,1544.7 537.2,1544.7 537.5,1544.7 537.9,1544.7 538.2,1544.7 538.6,1544.7 538.9,1544.7 539.3,1544.7 539.6,1544.7 540,1544.7 540.3,1544.7 540.7,1544.7 541,1544.7 541.3,1544.7 541.7,1544.7 542,1544.7 542.4,1544.7 542.7,1544.7 543.1,1544.7 543.4,1544.7 543.8,1544.7 544.1,1544.7 544.5,1544.7 544.8,1544.7 545.1,1544.7 545.5,1544.7 545.8,1544.7 546.2,1544.7 546.5,1544.7 546.9,1544.7 547.2,1544.7 547.6,1544.7 547.9,1544.7 548.3,1544.7 548.6,1544.7 548.9,1544.7 549.3,1544.7 549.6,1544.7 550,1544.7 550.3,1544.7 550.7,1544.7 551,1544.7 551.4,1544.7 551.7,1544.7 552.1,1544.7 552.4,1544.7 552.7,1544.7 553.1,1544.7 553.4,1544.7 553.8,1544.7 554.1,1544.7 554.5,1544.7 554.8,1544.7 555.2,1544.7 555.5,1544.7 555.9,1544.7 556.2,1544.7 556.5,1544.7 556.9,1544.7 557.2,1544.7 557.6,1544.7 557.9,1544.7 558.3,1544.7 558.6,1544.7 559,1544.7 559.3,1544.7 559.7,1544.7 560,1544.7 560.3,1544.7 560.7,1544.7 561,1544.7 561.4,1544.7 561.7,1544.7 562.1,1544.7 562.4,1544.7 562.8,1544.7 563.1,1544.7 563.5,1544.7 563.8,1544.7 564.1,1544.7 564.5,1544.7 564.8,1544.7 565.2,1544.7 565.5,1544.7 565.9,1544.7 566.2,1544.7 566.6,1544.7 566.9,1544.7 567.3,1544.7 567.6,1544.7 567.9,1544.7 568.3,1544.7 568.6,1544.7 569,1544.7 569.3,1544.7 569.7,1544.7 570,1544.7 570.4,1544.7 570.7,1544.7 571.1,1544.7 571.4,1544.7 571.7,1544.7 572.1,1544.7 572.4,1544.7 572.8,1544.7 573.1,1544.7 573.5,1544.7 573.8,1544.7 574.2,1544.7 574.5,1544.7 574.9,1544.7 575.2,1544.7 575.5,1544.7 575.9,1544.7 576.2,1544.7 576.6,1544.7 576.9,1544.7 577.3,1544.7 577.6,1544.7 578,1544.7 578.3,1544.7 578.6,1544.7 579,1544.7 579.3,1544.7 579.7,1544.7 580,1544.7 580.4,1544.7 580.7,1544.7 581.1,1544.7 581.4,1544.7 581.8,1544.7 582.1,1544.7 582.4,1544.7 582.8,1544.7 583.1,1544.7 583.5,1544.7 583.8,1544.7 584.2,1544.7 584.5,1544.7 584.9,1544.7 585.2,1544.7 585.6,1544.7 585.9,1544.7 586.2,1544.7 586.6,1544.7 586.9,1544.7 587.3,1544.7 587.6,1544.7 588,1544.7 588.3,1544.7 588.7,1544.7 589,1544.7 589.4,1544.7 589.7,1544.7 590,1544.7 590.4,1544.7 590.7,1544.7 591.1,1544.7 591.4,1544.7 591.8,1544.7 592.1,1544.7 592.5,1544.7 592.8,1544.7 593.2,1544.7 593.5,1544.7 593.8,1544.7 594.2,1544.7 594.5,1544.7 594.9,1544.7 595.2,1544.7 595.6,1544.7 595.9,1544.7 596.3,1544.7 596.6,1544.7 597,1544.7 597.3,1544.7 597.6,1544.7 598,1544.7 598.3,1544.7 598.7,1544.7 599,1544.7 599.4,1544.7 599.7,1544.7 600.1,1544.7 600.4,1544.7 600.8,1544.7 601.1,1544.7 601.4,1544.7 601.8,1544.7 602.1,1544.7 602.5,1544.7 602.8,1544.7 603.2,1544.7 603.5,1544.7 603.9,1544.7 604.2,1544.7 604.6,1544.7 604.9,1544.7 605.2,1544.7 605.6,1544.7 605.9,1544.7 606.3,1544.7 606.6,1544.7 607,1544.7 607.3,1544.7 607.7,1544.7 608,1544.7 608.4,1544.7 608.7,1544.7 609,1544.7 609.4,1544.7 609.7,1544.7 610.1,1544.7 610.4,1544.7 610.8,1544.7 611.1,1544.7 611.5,1544.7 611.8,1544.7 612.2,1544.7 612.5,1544.7 612.8,1544.7 613.2,1544.7 613.5,1544.7 613.9,1544.7 614.2,1544.7 614.6,1544.7 614.9,1544.7 615.3,1544.7 615.6,1544.7 616,1544.7 616.3,1544.7 616.6,1544.7 617,1544.7 617.3,1544.7 617.7,1544.7 618,1544.7 618.4,1544.7 618.7,1544.7 619.1,1544.7 619.4,1544.7 619.8,1544.7 620.1,1544.7 620.4,1544.7 620.8,1544.7 621.1,1544.7 621.5,1544.7 621.8,1544.7 622.2,1544.7 622.5,1544.7 622.9,1544.7 623.2,1544.7 623.6,1544.7 623.9,1544.7 624.2,1544.7 624.6,1544.7 624.9,1544.7 625.3,1544.7 625.6,1544.7 626,1544.7 626.3,1544.7 626.7,1544.7 627,1544.7 627.4,1544.7 627.7,1544.7 628,1544.7 628.4,1544.7 628.7,1544.7 629.1,1544.7 629.4,1544.7 629.8,1544.7 630.1,1544.7 630.5,1544.7 630.8,1544.7 631.2,1544.7 631.5,1544.7 631.8,1544.7 632.2,1544.7 632.5,1544.7 632.9,1544.7 633.2,1544.7 633.6,1544.7 633.9,1544.7 634.3,1544.7 634.6,1544.7 635,1544.7 635.3,1544.7 635.6,1544.7 636,1544.7 636.3,1544.7 636.7,1544.7 637,1544.7 637.4,1544.7 637.7,1544.7 638.1,1544.7 638.4,1544.7 638.8,1544.7 639.1,1544.7 639.4,1544.7 639.8,1544.7 640.1,1544.7 640.5,1544.7 640.8,1544.7 641.2,1544.7 641.5,1544.7 641.9,1544.7 642.2,1544.7 642.6,1544.7 642.9,1544.7" fill="none" stroke="#dc6bfb" stroke-width="3.4" stroke-linejoin="round" stroke-linecap="butt"/>
<text x="130.2" y="1168.9" font-family='"Liberation Sans", Arial, Helvetica, sans-serif' font-size="35.6" font-weight="bold" font-style="normal" fill="#000" text-anchor="start">(c)</text>
<text x="582.7" y="1157" font-family='"Liberation Sans", Arial, Helvetica, sans-serif' font-size="23.85" font-weight="bold" font-style="normal" fill="#000" text-anchor="start">Ti 2p</text>
<text x="440.0" y="1161.3" font-family='"Liberation Sans", Arial, Helvetica, sans-serif' font-size="22" font-weight="bold" fill="#ff0000">Ti<tspan dy="-6.6" font-size="20.5">4+</tspan><tspan dy="6.6"> 2p</tspan><tspan dx="0.8" dy="6.1" font-size="21.7" font-style="italic">3/2</tspan></text>
<text x="453.6" y="1186.6" font-family='"Liberation Sans", Arial, Helvetica, sans-serif' font-size="19.2" font-weight="normal" font-style="normal" fill="#ff0000" text-anchor="start">458,7 eV</text>
<path d="M447.7 1183L408.9 1196.1" stroke="#ff0000" stroke-width="2.1" fill="none"/>
<path d="M398 1199.8L409.6 1192L412 1199Z" fill="#ff0000"/>
<text x="157.5" y="1343.5" font-family='"Liberation Sans", Arial, Helvetica, sans-serif' font-size="19.4" font-weight="bold" fill="#008000">Ti<tspan dy="-5.6" font-size="17.6">4+</tspan><tspan dx="1.6" dy="5.6"> 2p</tspan><tspan dx="1" dy="6.6" font-style="italic">1/2</tspan></text>
<text x="163.2" y="1370" font-family='"Liberation Sans", Arial, Helvetica, sans-serif' font-size="19.6" font-weight="normal" font-style="normal" fill="#008000" text-anchor="start">464,4 eV</text>
<path d="M201.9 1382.8L220 1406.2" stroke="#008000" stroke-width="2.1" fill="none"/>
<path d="M227 1415.3L215.8 1406.9L221.7 1402.4Z" fill="#008000"/>
<text x="385.2" y="1635.8" font-family='"Liberation Serif", "Times New Roman", Times, serif' font-size="27.6" font-weight="bold" font-style="italic" fill="#000" text-anchor="middle" stroke="#000" stroke-width="0.45">Binding energy (eV)</text>
<text transform="translate(37.7 1335.1) rotate(-90)" font-family='"Liberation Serif", "Times New Roman", Times, serif' font-size="28.6" font-weight="bold" font-style="italic" text-anchor="middle" fill="#000" stroke="#000" stroke-width="0.45">Counts.s<tspan dy="-8.8">-1</tspan></text>
</svg>
</body>
</html>
